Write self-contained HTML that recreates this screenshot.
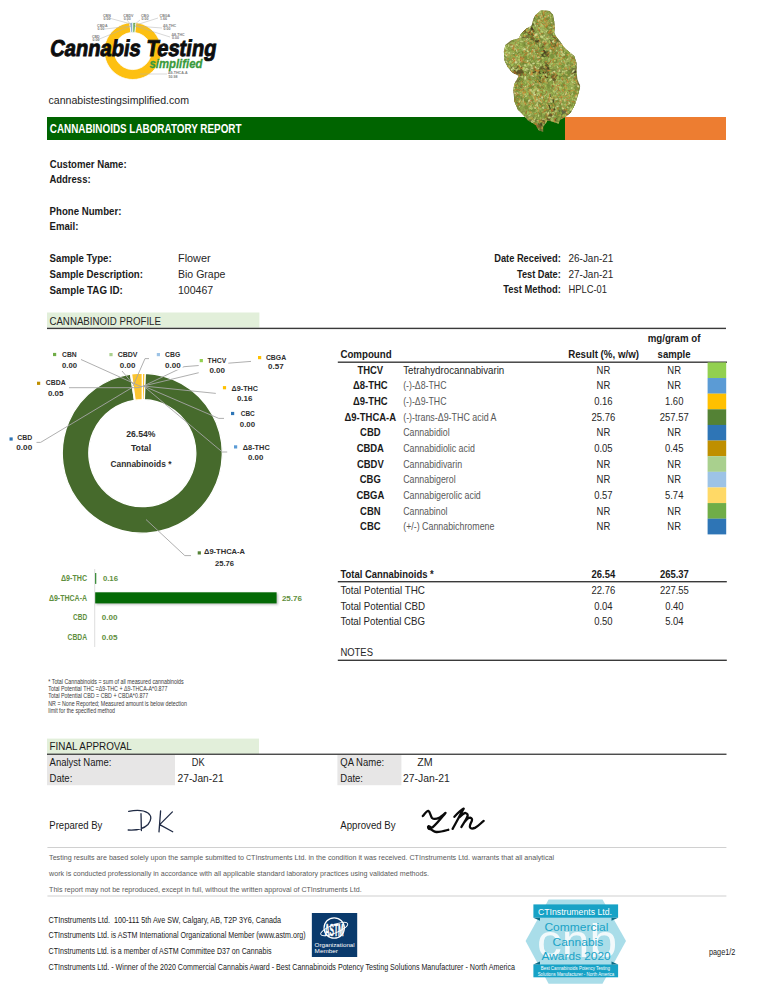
<!DOCTYPE html>
<html><head><meta charset="utf-8"><style>
html,body{margin:0;padding:0;background:#fff;width:768px;height:999px;overflow:hidden}
svg{display:block}
text{font-family:"Liberation Sans",sans-serif}
</style></head><body>
<svg width="768" height="999" viewBox="0 0 768 999">
<rect x="47.00" y="117.00" width="518.00" height="23.00" fill="#006400"/>
<rect x="565.00" y="117.00" width="161.00" height="23.00" fill="#ed7d31"/>
<text x="49.80" y="132.70" font-size="12" font-weight="bold" fill="#ffffff" textLength="191.70" lengthAdjust="spacingAndGlyphs">CANNABINOIDS LABORATORY REPORT</text>
<text x="48.50" y="103.50" font-size="11.5" fill="#262626" textLength="140.50" lengthAdjust="spacingAndGlyphs">cannabistestingsimplified.com</text>
<text x="49.80" y="168.00" font-size="11.8" font-weight="bold" fill="#1a1a1a" textLength="76.80" lengthAdjust="spacingAndGlyphs">Customer Name:</text>
<text x="49.40" y="183.40" font-size="11.8" font-weight="bold" fill="#1a1a1a" textLength="41.20" lengthAdjust="spacingAndGlyphs">Address:</text>
<text x="49.60" y="214.70" font-size="11.8" font-weight="bold" fill="#1a1a1a" textLength="71.80" lengthAdjust="spacingAndGlyphs">Phone Number:</text>
<text x="49.60" y="230.30" font-size="11.8" font-weight="bold" fill="#1a1a1a" textLength="28.80" lengthAdjust="spacingAndGlyphs">Email:</text>
<text x="49.60" y="262.40" font-size="11.8" font-weight="bold" fill="#1a1a1a" textLength="62.00" lengthAdjust="spacingAndGlyphs">Sample Type:</text>
<text x="49.60" y="278.00" font-size="11.8" font-weight="bold" fill="#1a1a1a" textLength="93.30" lengthAdjust="spacingAndGlyphs">Sample Description:</text>
<text x="49.60" y="293.50" font-size="11.8" font-weight="bold" fill="#1a1a1a" textLength="73.20" lengthAdjust="spacingAndGlyphs">Sample TAG ID:</text>
<text x="178.00" y="262.40" font-size="11.3" fill="#262626" textLength="32.60" lengthAdjust="spacingAndGlyphs">Flower</text>
<text x="178.00" y="278.00" font-size="11.3" fill="#262626" textLength="47.40" lengthAdjust="spacingAndGlyphs">Bio Grape</text>
<text x="178.00" y="293.50" font-size="11.3" fill="#262626" textLength="35.20" lengthAdjust="spacingAndGlyphs">100467</text>
<text x="494.20" y="262.20" font-size="11.8" font-weight="bold" fill="#1a1a1a" textLength="66.60" lengthAdjust="spacingAndGlyphs">Date Received:</text>
<text x="517.00" y="277.60" font-size="11.8" font-weight="bold" fill="#1a1a1a" textLength="43.80" lengthAdjust="spacingAndGlyphs">Test Date:</text>
<text x="503.30" y="293.10" font-size="11.8" font-weight="bold" fill="#1a1a1a" textLength="57.50" lengthAdjust="spacingAndGlyphs">Test Method:</text>
<text x="568.50" y="262.20" font-size="11.3" fill="#262626" textLength="44.80" lengthAdjust="spacingAndGlyphs">26-Jan-21</text>
<text x="568.50" y="277.60" font-size="11.3" fill="#262626" textLength="44.80" lengthAdjust="spacingAndGlyphs">27-Jan-21</text>
<text x="568.50" y="293.10" font-size="11.3" fill="#262626" textLength="38.50" lengthAdjust="spacingAndGlyphs">HPLC-01</text>
<rect x="47.00" y="312.50" width="212.40" height="15.00" fill="#e2efda"/>
<text x="49.40" y="325.00" font-size="11.8" fill="#262626" textLength="111.60" lengthAdjust="spacingAndGlyphs">CANNABINOID PROFILE</text>
<rect x="47.00" y="327.70" width="679.00" height="1.40" fill="#3a3a3a"/>
<text x="340.40" y="358.30" font-size="11" font-weight="bold" fill="#1a1a1a" textLength="51.30" lengthAdjust="spacingAndGlyphs">Compound</text>
<text x="568.20" y="358.30" font-size="11" font-weight="bold" fill="#1a1a1a" textLength="70.80" lengthAdjust="spacingAndGlyphs">Result (%, w/w)</text>
<text x="647.70" y="342.00" font-size="11" font-weight="bold" fill="#1a1a1a" textLength="52.80" lengthAdjust="spacingAndGlyphs">mg/gram of</text>
<text x="657.60" y="357.60" font-size="11" font-weight="bold" fill="#1a1a1a" textLength="33.00" lengthAdjust="spacingAndGlyphs">sample</text>
<rect x="337.80" y="361.50" width="389.20" height="1.40" fill="#3a3a3a"/>
<rect x="707.60" y="362.40" width="18.60" height="15.70" fill="#92d050"/>
<text x="370.30" y="373.50" font-size="11" font-weight="bold" fill="#1a1a1a" text-anchor="middle" textLength="25.75" lengthAdjust="spacingAndGlyphs">THCV</text>
<text x="403.20" y="373.50" font-size="11" fill="#262626" textLength="101.10" lengthAdjust="spacingAndGlyphs">Tetrahydrocannabivarin</text>
<text x="603.40" y="373.50" font-size="11" fill="#262626" text-anchor="middle" textLength="13.66" lengthAdjust="spacingAndGlyphs">NR</text>
<text x="674.20" y="373.50" font-size="11" fill="#262626" text-anchor="middle" textLength="13.66" lengthAdjust="spacingAndGlyphs">NR</text>
<rect x="707.60" y="378.03" width="18.60" height="15.70" fill="#5b9bd5"/>
<text x="370.30" y="389.18" font-size="11" font-weight="bold" fill="#1a1a1a" text-anchor="middle" textLength="34.65" lengthAdjust="spacingAndGlyphs">Δ8-THC</text>
<text x="403.20" y="389.18" font-size="11" fill="#595959" textLength="43.30" lengthAdjust="spacingAndGlyphs">(-)-Δ8-THC</text>
<text x="603.40" y="389.18" font-size="11" fill="#262626" text-anchor="middle" textLength="13.66" lengthAdjust="spacingAndGlyphs">NR</text>
<text x="674.20" y="389.18" font-size="11" fill="#262626" text-anchor="middle" textLength="13.66" lengthAdjust="spacingAndGlyphs">NR</text>
<rect x="707.60" y="393.66" width="18.60" height="15.70" fill="#ffc000"/>
<text x="370.30" y="404.86" font-size="11" font-weight="bold" fill="#1a1a1a" text-anchor="middle" textLength="34.65" lengthAdjust="spacingAndGlyphs">Δ9-THC</text>
<text x="403.20" y="404.86" font-size="11" fill="#595959" textLength="43.30" lengthAdjust="spacingAndGlyphs">(-)-Δ9-THC</text>
<text x="603.40" y="404.86" font-size="11" fill="#262626" text-anchor="middle" textLength="18.41" lengthAdjust="spacingAndGlyphs">0.16</text>
<text x="674.20" y="404.86" font-size="11" fill="#262626" text-anchor="middle" textLength="18.41" lengthAdjust="spacingAndGlyphs">1.60</text>
<rect x="707.60" y="409.29" width="18.60" height="15.70" fill="#548235"/>
<text x="370.30" y="420.54" font-size="11" font-weight="bold" fill="#1a1a1a" text-anchor="middle" textLength="51.47" lengthAdjust="spacingAndGlyphs">Δ9-THCA-A</text>
<text x="403.20" y="420.54" font-size="11" fill="#595959" textLength="93.30" lengthAdjust="spacingAndGlyphs">(-)-trans-Δ9-THC acid A</text>
<text x="603.40" y="420.54" font-size="11" fill="#262626" text-anchor="middle" textLength="23.67" lengthAdjust="spacingAndGlyphs">25.76</text>
<text x="674.20" y="420.54" font-size="11" fill="#262626" text-anchor="middle" textLength="28.93" lengthAdjust="spacingAndGlyphs">257.57</text>
<rect x="707.60" y="424.92" width="18.60" height="15.70" fill="#2e75b6"/>
<text x="370.30" y="436.22" font-size="11" font-weight="bold" fill="#1a1a1a" text-anchor="middle" textLength="20.50" lengthAdjust="spacingAndGlyphs">CBD</text>
<text x="403.20" y="436.22" font-size="11" fill="#595959" textLength="46.40" lengthAdjust="spacingAndGlyphs">Cannabidiol</text>
<text x="603.40" y="436.22" font-size="11" fill="#262626" text-anchor="middle" textLength="13.66" lengthAdjust="spacingAndGlyphs">NR</text>
<text x="674.20" y="436.22" font-size="11" fill="#262626" text-anchor="middle" textLength="13.66" lengthAdjust="spacingAndGlyphs">NR</text>
<rect x="707.60" y="440.55" width="18.60" height="15.70" fill="#bf8f00"/>
<text x="370.30" y="451.90" font-size="11" font-weight="bold" fill="#1a1a1a" text-anchor="middle" textLength="27.33" lengthAdjust="spacingAndGlyphs">CBDA</text>
<text x="403.20" y="451.90" font-size="11" fill="#595959" textLength="71.60" lengthAdjust="spacingAndGlyphs">Cannabidiolic acid</text>
<text x="603.40" y="451.90" font-size="11" fill="#262626" text-anchor="middle" textLength="18.41" lengthAdjust="spacingAndGlyphs">0.05</text>
<text x="674.20" y="451.90" font-size="11" fill="#262626" text-anchor="middle" textLength="18.41" lengthAdjust="spacingAndGlyphs">0.45</text>
<rect x="707.60" y="456.18" width="18.60" height="15.70" fill="#a9d08e"/>
<text x="370.30" y="467.58" font-size="11" font-weight="bold" fill="#1a1a1a" text-anchor="middle" textLength="26.81" lengthAdjust="spacingAndGlyphs">CBDV</text>
<text x="403.20" y="467.58" font-size="11" fill="#595959" textLength="58.90" lengthAdjust="spacingAndGlyphs">Cannabidivarin</text>
<text x="603.40" y="467.58" font-size="11" fill="#262626" text-anchor="middle" textLength="13.66" lengthAdjust="spacingAndGlyphs">NR</text>
<text x="674.20" y="467.58" font-size="11" fill="#262626" text-anchor="middle" textLength="13.66" lengthAdjust="spacingAndGlyphs">NR</text>
<rect x="707.60" y="471.81" width="18.60" height="15.70" fill="#9dc3e6"/>
<text x="370.30" y="483.26" font-size="11" font-weight="bold" fill="#1a1a1a" text-anchor="middle" textLength="21.02" lengthAdjust="spacingAndGlyphs">CBG</text>
<text x="403.20" y="483.26" font-size="11" fill="#595959" textLength="52.40" lengthAdjust="spacingAndGlyphs">Cannabigerol</text>
<text x="603.40" y="483.26" font-size="11" fill="#262626" text-anchor="middle" textLength="13.66" lengthAdjust="spacingAndGlyphs">NR</text>
<text x="674.20" y="483.26" font-size="11" fill="#262626" text-anchor="middle" textLength="13.66" lengthAdjust="spacingAndGlyphs">NR</text>
<rect x="707.60" y="487.44" width="18.60" height="15.70" fill="#ffd966"/>
<text x="370.30" y="498.94" font-size="11" font-weight="bold" fill="#1a1a1a" text-anchor="middle" textLength="27.85" lengthAdjust="spacingAndGlyphs">CBGA</text>
<text x="403.20" y="498.94" font-size="11" fill="#595959" textLength="77.60" lengthAdjust="spacingAndGlyphs">Cannabigerolic acid</text>
<text x="603.40" y="498.94" font-size="11" fill="#262626" text-anchor="middle" textLength="18.41" lengthAdjust="spacingAndGlyphs">0.57</text>
<text x="674.20" y="498.94" font-size="11" fill="#262626" text-anchor="middle" textLength="18.41" lengthAdjust="spacingAndGlyphs">5.74</text>
<rect x="707.60" y="503.07" width="18.60" height="15.70" fill="#70ad47"/>
<text x="370.30" y="514.62" font-size="11" font-weight="bold" fill="#1a1a1a" text-anchor="middle" textLength="20.50" lengthAdjust="spacingAndGlyphs">CBN</text>
<text x="403.20" y="514.62" font-size="11" fill="#595959" textLength="44.30" lengthAdjust="spacingAndGlyphs">Cannabinol</text>
<text x="603.40" y="514.62" font-size="11" fill="#262626" text-anchor="middle" textLength="13.66" lengthAdjust="spacingAndGlyphs">NR</text>
<text x="674.20" y="514.62" font-size="11" fill="#262626" text-anchor="middle" textLength="13.66" lengthAdjust="spacingAndGlyphs">NR</text>
<rect x="707.60" y="518.70" width="18.60" height="15.70" fill="#2e75b6"/>
<text x="370.30" y="530.30" font-size="11" font-weight="bold" fill="#1a1a1a" text-anchor="middle" textLength="20.50" lengthAdjust="spacingAndGlyphs">CBC</text>
<text x="403.20" y="530.30" font-size="11" fill="#595959" textLength="91.20" lengthAdjust="spacingAndGlyphs">(+/-) Cannabichromene</text>
<text x="603.40" y="530.30" font-size="11" fill="#262626" text-anchor="middle" textLength="13.66" lengthAdjust="spacingAndGlyphs">NR</text>
<text x="674.20" y="530.30" font-size="11" fill="#262626" text-anchor="middle" textLength="13.66" lengthAdjust="spacingAndGlyphs">NR</text>
<text x="340.40" y="577.70" font-size="11" font-weight="bold" fill="#1a1a1a" textLength="93.37" lengthAdjust="spacingAndGlyphs">Total Cannabinoids *</text>
<text x="603.40" y="577.70" font-size="11" font-weight="bold" fill="#1a1a1a" text-anchor="middle" textLength="23.67" lengthAdjust="spacingAndGlyphs">26.54</text>
<text x="674.40" y="577.70" font-size="11" font-weight="bold" fill="#1a1a1a" text-anchor="middle" textLength="28.93" lengthAdjust="spacingAndGlyphs">265.37</text>
<rect x="337.80" y="581.00" width="389.00" height="1.40" fill="#3a3a3a"/>
<text x="340.40" y="593.50" font-size="11" fill="#262626" textLength="84.60" lengthAdjust="spacingAndGlyphs">Total Potential THC</text>
<text x="603.40" y="593.50" font-size="11" fill="#262626" text-anchor="middle" textLength="23.67" lengthAdjust="spacingAndGlyphs">22.76</text>
<text x="674.40" y="593.50" font-size="11" fill="#262626" text-anchor="middle" textLength="28.93" lengthAdjust="spacingAndGlyphs">227.55</text>
<text x="340.40" y="609.50" font-size="11" fill="#262626" textLength="84.60" lengthAdjust="spacingAndGlyphs">Total Potential CBD</text>
<text x="603.40" y="609.50" font-size="11" fill="#262626" text-anchor="middle" textLength="18.41" lengthAdjust="spacingAndGlyphs">0.04</text>
<text x="674.40" y="609.50" font-size="11" fill="#262626" text-anchor="middle" textLength="18.41" lengthAdjust="spacingAndGlyphs">0.40</text>
<text x="340.40" y="625.30" font-size="11" fill="#262626" textLength="84.60" lengthAdjust="spacingAndGlyphs">Total Potential CBG</text>
<text x="603.40" y="625.30" font-size="11" fill="#262626" text-anchor="middle" textLength="18.41" lengthAdjust="spacingAndGlyphs">0.50</text>
<text x="674.40" y="625.30" font-size="11" fill="#262626" text-anchor="middle" textLength="18.41" lengthAdjust="spacingAndGlyphs">5.04</text>
<text x="340.40" y="656.00" font-size="11" fill="#262626" textLength="32.59" lengthAdjust="spacingAndGlyphs">NOTES</text>
<rect x="337.80" y="659.60" width="389.00" height="1.40" fill="#3a3a3a"/>
<text x="48.30" y="683.50" font-size="6.8" fill="#3a3a3a" textLength="135.45" lengthAdjust="spacingAndGlyphs">* Total Cannabinoids = sum of all measured cannabinoids</text>
<text x="48.30" y="690.90" font-size="6.8" fill="#3a3a3a" textLength="119.20" lengthAdjust="spacingAndGlyphs">Total Potential THC =Δ9-THC + Δ9-THCA-A*0.877</text>
<text x="48.30" y="698.30" font-size="6.8" fill="#3a3a3a" textLength="100.00" lengthAdjust="spacingAndGlyphs">Total Potential CBD = CBD + CBDA*0.877</text>
<text x="48.30" y="705.70" font-size="6.8" fill="#3a3a3a" textLength="138.60" lengthAdjust="spacingAndGlyphs">NR = None Reported; Measured amount is below detection</text>
<text x="48.30" y="713.10" font-size="6.8" fill="#3a3a3a" textLength="66.70" lengthAdjust="spacingAndGlyphs">limit for the specified method</text>
<rect x="47.00" y="738.60" width="212.00" height="15.60" fill="#e2efda"/>
<text x="49.60" y="750.30" font-size="11.3" fill="#1a1a1a" textLength="82.10" lengthAdjust="spacingAndGlyphs">FINAL APPROVAL</text>
<rect x="47.00" y="753.60" width="679.50" height="1.30" fill="#3a3a3a"/>
<rect x="47.00" y="755.00" width="128.00" height="30.20" fill="#e7e6e6"/>
<rect x="337.40" y="755.00" width="64.00" height="30.20" fill="#e7e6e6"/>
<text x="49.60" y="766.00" font-size="11.3" fill="#1a1a1a" textLength="61.72" lengthAdjust="spacingAndGlyphs">Analyst Name:</text>
<text x="49.60" y="781.60" font-size="11.3" fill="#1a1a1a" textLength="22.69" lengthAdjust="spacingAndGlyphs">Date:</text>
<text x="191.80" y="766.00" font-size="10.5" fill="#262626" textLength="12.80" lengthAdjust="spacingAndGlyphs">DK</text>
<text x="177.50" y="781.60" font-size="11" fill="#262626" textLength="46.10" lengthAdjust="spacingAndGlyphs">27-Jan-21</text>
<text x="340.30" y="766.00" font-size="11.3" fill="#1a1a1a" textLength="43.78" lengthAdjust="spacingAndGlyphs">QA Name:</text>
<text x="340.30" y="781.60" font-size="11.3" fill="#1a1a1a" textLength="22.69" lengthAdjust="spacingAndGlyphs">Date:</text>
<text x="417.30" y="766.00" font-size="10.5" fill="#262626" textLength="15.40" lengthAdjust="spacingAndGlyphs">ZM</text>
<text x="403.00" y="781.60" font-size="11" fill="#262626" textLength="46.80" lengthAdjust="spacingAndGlyphs">27-Jan-21</text>
<text x="49.30" y="828.70" font-size="11" fill="#1a1a1a" textLength="53.00" lengthAdjust="spacingAndGlyphs">Prepared By</text>
<text x="340.30" y="828.70" font-size="11" fill="#1a1a1a" textLength="55.30" lengthAdjust="spacingAndGlyphs">Approved By</text>
<path d="M128.7,811.4 C136,810 144,810.5 148,813 C152,816 151.5,820 148,824.5 C144,828.5 136,830.5 128.2,830 M141,813.7 L141.4,830.5 M160.6,810.9 L159,831.9 M159.7,824.6 L172.4,811.9 M159.7,824.6 L172.7,831.7" fill="none" stroke="#1f2a44" stroke-width="1.3" stroke-linecap="round"/>
<path d="M422.8,816.1 C425,813.5 427,810.5 428.3,810.9 C430,811.5 430.5,816 432,818 C433.5,819.3 437,818.8 439.7,817.5 C442,816.2 444,814.5 445.5,812.9 C442,817 438.5,822 432.8,827.2 C431.5,828.5 429.5,826 428.6,826.2 C427.5,827 428,829 430,829.2 C432,829.5 433.5,831.5 436.3,832 C440,832.2 444,831 448.3,829.8 M454.4,816.8 C457,814 461,810 463.7,808.6 C460,815 456,823 452.6,828.8 M459.5,817.2 C461.5,815 463.5,813 465.5,813 C467.5,813.5 468,815 467.5,816.5 C466,820 463,824 461.4,827 M464.3,822.3 C466,820 468.5,817.6 470.2,817.6 C472,818 472.3,819.5 471.8,821 C470.5,823.5 469.5,826 470,827.3 C470.5,829 473,828.8 475.5,827.6 C478.5,825.8 481,823 483.7,820.9" fill="none" stroke="#0a0a0a" stroke-width="2.3" stroke-linecap="round" stroke-linejoin="round"/>
<rect x="47.40" y="847.00" width="679.00" height="1.00" fill="#d0d0d0"/>
<text x="49.10" y="860.30" font-size="7.6" fill="#595959" textLength="504.90" lengthAdjust="spacingAndGlyphs">Testing results are based solely upon the sample submitted to CTInstruments Ltd. in the condition it was received. CTInstruments Ltd. warrants that all analytical</text>
<text x="49.10" y="875.50" font-size="7.6" fill="#595959" textLength="379.90" lengthAdjust="spacingAndGlyphs">work is conducted professionally in accordance with all applicable standard laboratory practices using validated methods.</text>
<text x="49.10" y="891.50" font-size="7.6" fill="#595959" textLength="312.60" lengthAdjust="spacingAndGlyphs">This report may not be reproduced, except in full, without the written approval of CTInstruments Ltd.</text>
<rect x="47.40" y="895.50" width="679.00" height="1.00" fill="#d0d0d0"/>
<text x="48.60" y="922.70" font-size="8.6" fill="#1a1a1a" textLength="232.40" lengthAdjust="spacingAndGlyphs">CTInstruments Ltd.  100-111 5th Ave SW, Calgary, AB, T2P 3Y6, Canada</text>
<text x="48.60" y="938.30" font-size="8.6" fill="#1a1a1a" textLength="257.00" lengthAdjust="spacingAndGlyphs">CTInstruments Ltd. is ASTM International Organizational Member (www.astm.org)</text>
<text x="48.60" y="953.90" font-size="8.6" fill="#1a1a1a" textLength="223.00" lengthAdjust="spacingAndGlyphs">CTInstruments Ltd. is a member of ASTM Committee D37 on Cannabis</text>
<text x="48.60" y="969.50" font-size="8.6" fill="#1a1a1a" textLength="466.40" lengthAdjust="spacingAndGlyphs">CTInstruments Ltd. - Winner of the 2020 Commercial Cannabis Award - Best Cannabinoids Potency Testing Solutions Manufacturer - North America</text>
<text x="709.00" y="954.70" font-size="8.6" fill="#1a1a1a" textLength="26.40" lengthAdjust="spacingAndGlyphs">page1/2</text>
<path d="M142.30,373.20 A80,80 0 0 1 145.33,373.26 L144.33,399.74 A53.5,53.5 0 0 0 142.30,399.70 Z" fill="#fcc530" stroke="#fff" stroke-width="1.3"/>
<path d="M145.33,373.26 A80,80 0 1 1 130.60,374.06 L134.48,400.28 A53.5,53.5 0 1 0 144.33,399.74 Z" fill="#466a2c" stroke="#fff" stroke-width="1.3"/>
<path d="M130.60,374.06 A80,80 0 0 1 131.54,373.93 L135.10,400.19 A53.5,53.5 0 0 0 134.48,400.28 Z" fill="#bf8f00" stroke="#fff" stroke-width="1.3"/>
<path d="M131.54,373.93 A80,80 0 0 1 142.30,373.20 L142.30,399.70 A53.5,53.5 0 0 0 135.10,400.19 Z" fill="#fcc530" stroke="#fff" stroke-width="1.3"/>
<path d="M81,359.5 L142,387" fill="none" stroke="#a6a6a6" stroke-width="0.9"/>
<path d="M69,387.7 L138,387.7 L143.5,386" fill="none" stroke="#a6a6a6" stroke-width="0.9"/>
<path d="M36.5,442.4 L40.6,442.4 L133,387" fill="none" stroke="#a6a6a6" stroke-width="0.9"/>
<path d="M149,358.6 L145,358.6 L133,386" fill="none" stroke="#a6a6a6" stroke-width="0.9"/>
<path d="M122,371 L133,384" fill="none" stroke="#a6a6a6" stroke-width="0.9"/>
<path d="M251,361.4 L184,366.7 L143.5,386" fill="none" stroke="#a6a6a6" stroke-width="0.9"/>
<path d="M204.2,371.4 L143.5,386" fill="none" stroke="#a6a6a6" stroke-width="0.9"/>
<path d="M215.8,393.4 L143.5,386" fill="none" stroke="#a6a6a6" stroke-width="0.9"/>
<path d="M224,418.4 L218.75,418.4 L143.5,386" fill="none" stroke="#a6a6a6" stroke-width="0.9"/>
<path d="M227.2,452 L222.3,452 L143.5,386" fill="none" stroke="#a6a6a6" stroke-width="0.9"/>
<path d="M146,519.5 L184.8,555.6 L191,555.6" fill="none" stroke="#a6a6a6" stroke-width="0.9"/>
<rect x="52.00" y="349.00" width="27.00" height="20.70" fill="#ffffff"/>
<rect x="108.40" y="349.00" width="31.10" height="20.70" fill="#ffffff"/>
<rect x="155.80" y="349.00" width="26.90" height="20.70" fill="#ffffff"/>
<rect x="198.70" y="354.70" width="29.60" height="20.60" fill="#ffffff"/>
<rect x="257.00" y="351.50" width="31.20" height="19.90" fill="#ffffff"/>
<rect x="221.90" y="382.80" width="38.10" height="20.60" fill="#ffffff"/>
<rect x="230.00" y="408.30" width="27.10" height="20.30" fill="#ffffff"/>
<rect x="233.00" y="441.80" width="38.70" height="20.20" fill="#ffffff"/>
<rect x="196.70" y="546.30" width="50.30" height="21.20" fill="#ffffff"/>
<rect x="8.50" y="432.40" width="25.70" height="19.90" fill="#ffffff"/>
<rect x="36.00" y="377.20" width="31.60" height="20.60" fill="#ffffff"/>
<rect x="53.00" y="352.90" width="3.20" height="3.20" fill="#70ad47"/>
<text x="62.10" y="357.00" font-size="7.8" font-weight="bold" fill="#2e2e2e" textLength="14.60" lengthAdjust="spacingAndGlyphs">CBN</text>
<text x="62.00" y="367.70" font-size="7.8" font-weight="bold" fill="#2e2e2e" textLength="15.00" lengthAdjust="spacingAndGlyphs">0.00</text>
<rect x="109.40" y="353.00" width="3.20" height="3.20" fill="#a9d08e"/>
<text x="117.70" y="357.00" font-size="7.8" font-weight="bold" fill="#2e2e2e" textLength="19.80" lengthAdjust="spacingAndGlyphs">CBDV</text>
<text x="119.80" y="367.70" font-size="7.8" font-weight="bold" fill="#2e2e2e" textLength="15.60" lengthAdjust="spacingAndGlyphs">0.00</text>
<rect x="156.80" y="353.00" width="3.20" height="3.20" fill="#9dc3e6"/>
<text x="165.10" y="357.00" font-size="7.8" font-weight="bold" fill="#2e2e2e" textLength="15.10" lengthAdjust="spacingAndGlyphs">CBG</text>
<text x="165.00" y="367.70" font-size="7.8" font-weight="bold" fill="#2e2e2e" textLength="15.70" lengthAdjust="spacingAndGlyphs">0.00</text>
<rect x="199.70" y="359.00" width="3.20" height="3.20" fill="#92d050"/>
<text x="207.60" y="362.70" font-size="7.8" font-weight="bold" fill="#2e2e2e" textLength="18.70" lengthAdjust="spacingAndGlyphs">THCV</text>
<text x="209.40" y="373.30" font-size="7.8" font-weight="bold" fill="#2e2e2e" textLength="15.60" lengthAdjust="spacingAndGlyphs">0.00</text>
<rect x="258.00" y="356.00" width="3.20" height="3.20" fill="#ffc000"/>
<text x="265.90" y="359.50" font-size="7.8" font-weight="bold" fill="#2e2e2e" textLength="20.30" lengthAdjust="spacingAndGlyphs">CBGA</text>
<text x="268.00" y="369.40" font-size="7.8" font-weight="bold" fill="#2e2e2e" textLength="15.60" lengthAdjust="spacingAndGlyphs">0.57</text>
<rect x="222.90" y="386.10" width="3.20" height="3.20" fill="#ffc000"/>
<text x="231.60" y="390.80" font-size="7.8" font-weight="bold" fill="#2e2e2e" textLength="26.40" lengthAdjust="spacingAndGlyphs">Δ9-THC</text>
<text x="236.90" y="401.40" font-size="7.8" font-weight="bold" fill="#2e2e2e" textLength="15.50" lengthAdjust="spacingAndGlyphs">0.16</text>
<rect x="231.00" y="411.90" width="3.20" height="3.20" fill="#2e75b6"/>
<text x="240.80" y="416.30" font-size="7.8" font-weight="bold" fill="#2e2e2e" textLength="14.00" lengthAdjust="spacingAndGlyphs">CBC</text>
<text x="239.80" y="426.60" font-size="7.8" font-weight="bold" fill="#2e2e2e" textLength="15.30" lengthAdjust="spacingAndGlyphs">0.00</text>
<rect x="234.00" y="445.30" width="3.20" height="3.20" fill="#5b9bd5"/>
<text x="242.80" y="449.80" font-size="7.8" font-weight="bold" fill="#2e2e2e" textLength="26.90" lengthAdjust="spacingAndGlyphs">Δ8-THC</text>
<text x="248.00" y="460.00" font-size="7.8" font-weight="bold" fill="#2e2e2e" textLength="15.30" lengthAdjust="spacingAndGlyphs">0.00</text>
<rect x="197.70" y="551.30" width="3.20" height="3.20" fill="#548235"/>
<text x="204.00" y="554.30" font-size="7.8" font-weight="bold" fill="#2e2e2e" textLength="41.00" lengthAdjust="spacingAndGlyphs">Δ9-THCA-A</text>
<text x="214.90" y="565.50" font-size="7.8" font-weight="bold" fill="#2e2e2e" textLength="19.10" lengthAdjust="spacingAndGlyphs">25.76</text>
<rect x="9.50" y="437.40" width="3.20" height="3.20" fill="#2e75b6"/>
<text x="17.20" y="440.40" font-size="7.8" font-weight="bold" fill="#2e2e2e" textLength="15.00" lengthAdjust="spacingAndGlyphs">CBD</text>
<text x="16.30" y="450.30" font-size="7.8" font-weight="bold" fill="#2e2e2e" textLength="15.90" lengthAdjust="spacingAndGlyphs">0.00</text>
<rect x="37.00" y="381.70" width="3.20" height="3.20" fill="#bf8f00"/>
<text x="45.80" y="385.20" font-size="7.8" font-weight="bold" fill="#2e2e2e" textLength="19.80" lengthAdjust="spacingAndGlyphs">CBDA</text>
<text x="47.90" y="395.80" font-size="7.8" font-weight="bold" fill="#2e2e2e" textLength="15.60" lengthAdjust="spacingAndGlyphs">0.05</text>
<text x="126.20" y="436.80" font-size="8.6" font-weight="bold" fill="#2e2e2e" textLength="29.30" lengthAdjust="spacingAndGlyphs">26.54%</text>
<text x="130.90" y="450.90" font-size="8.6" font-weight="bold" fill="#2e2e2e" textLength="20.30" lengthAdjust="spacingAndGlyphs">Total</text>
<text x="110.50" y="466.60" font-size="8.6" font-weight="bold" fill="#2e2e2e" textLength="60.90" lengthAdjust="spacingAndGlyphs">Cannabinoids *</text>
<rect x="94.30" y="569.00" width="0.90" height="78.00" fill="#d9d9d9"/>
<rect x="95.00" y="573.00" width="1.30" height="10.90" fill="#3f8f3f"/>
<defs><filter id="sh" x="-5%" y="-20%" width="110%" height="160%"><feGaussianBlur stdDeviation="1"/></filter></defs>
<rect x="96.00" y="593.50" width="182.00" height="11.20" fill="#999" filter="url(#sh)" opacity="0.6"/>
<rect x="95.20" y="592.30" width="181.40" height="11.10" fill="#046a06"/>
<text x="61.00" y="581.30" font-size="8.4" font-weight="bold" fill="#5f8f3e" textLength="26.10" lengthAdjust="spacingAndGlyphs">Δ9-THC</text>
<text x="48.90" y="600.80" font-size="8.4" font-weight="bold" fill="#5f8f3e" textLength="38.20" lengthAdjust="spacingAndGlyphs">Δ9-THCA-A</text>
<text x="73.00" y="619.70" font-size="8.4" font-weight="bold" fill="#5f8f3e" textLength="14.10" lengthAdjust="spacingAndGlyphs">CBD</text>
<text x="67.50" y="639.50" font-size="8.4" font-weight="bold" fill="#5f8f3e" textLength="19.60" lengthAdjust="spacingAndGlyphs">CBDA</text>
<text x="102.90" y="581.30" font-size="7.8" font-weight="bold" fill="#5f8f3e" textLength="15.10" lengthAdjust="spacingAndGlyphs">0.16</text>
<text x="101.80" y="619.70" font-size="7.8" font-weight="bold" fill="#5f8f3e" textLength="15.70" lengthAdjust="spacingAndGlyphs">0.00</text>
<text x="101.80" y="639.50" font-size="7.8" font-weight="bold" fill="#5f8f3e" textLength="15.70" lengthAdjust="spacingAndGlyphs">0.05</text>
<text x="281.90" y="601.30" font-size="7.8" font-weight="bold" fill="#5f8f3e" textLength="20.10" lengthAdjust="spacingAndGlyphs">25.76</text>
<path d="M135.78,22.66 A28.5,28.5 0 1 1 129.82,22.66 L130.86,32.50 A18.6,18.6 0 1 0 134.74,32.50 Z" fill="#fdc012" stroke="#fff" stroke-width="0.8"/>
<path d="M129.82,22.66 A28.5,28.5 0 0 1 132.80,22.50 L132.80,32.40 A18.6,18.6 0 0 0 130.86,32.50 Z" fill="#86acd0" stroke="#fff" stroke-width="0.8"/>
<path d="M132.80,22.50 A28.5,28.5 0 0 1 135.78,22.66 L134.74,32.50 A18.6,18.6 0 0 0 132.80,32.40 Z" fill="#6aaa50" stroke="#fff" stroke-width="0.8"/>
<path d="M109,18 L131,24" fill="none" stroke="#b0b0b0" stroke-width="0.5"/>
<path d="M127,20 L131,25" fill="none" stroke="#b0b0b0" stroke-width="0.5"/>
<path d="M140,20 L134,25" fill="none" stroke="#b0b0b0" stroke-width="0.5"/>
<path d="M158,18 L136,25" fill="none" stroke="#b0b0b0" stroke-width="0.5"/>
<path d="M105,29 L131,26" fill="none" stroke="#b0b0b0" stroke-width="0.5"/>
<path d="M97,40 L131,26" fill="none" stroke="#b0b0b0" stroke-width="0.5"/>
<path d="M162,28 L135,26" fill="none" stroke="#b0b0b0" stroke-width="0.5"/>
<path d="M170,37 L135,26" fill="none" stroke="#b0b0b0" stroke-width="0.5"/>
<path d="M167,74 L140,74" fill="none" stroke="#b0b0b0" stroke-width="0.5"/>
<text x="103.00" y="16.50" font-size="3.6" font-weight="bold" fill="#808080">CBN</text>
<text x="103.50" y="20.20" font-size="3.6" font-weight="bold" fill="#808080">0.00</text>
<text x="123.30" y="16.50" font-size="3.6" font-weight="bold" fill="#808080">CBDV</text>
<text x="123.80" y="20.20" font-size="3.6" font-weight="bold" fill="#808080">0.00</text>
<text x="141.00" y="16.50" font-size="3.6" font-weight="bold" fill="#808080">CBG</text>
<text x="141.50" y="20.20" font-size="3.6" font-weight="bold" fill="#808080">0.00</text>
<text x="159.60" y="16.50" font-size="3.6" font-weight="bold" fill="#808080">CBGA</text>
<text x="160.10" y="20.20" font-size="3.6" font-weight="bold" fill="#808080">1.66</text>
<text x="97.10" y="26.70" font-size="3.6" font-weight="bold" fill="#808080">CBDA</text>
<text x="97.60" y="30.40" font-size="3.6" font-weight="bold" fill="#808080">0.00</text>
<text x="91.90" y="37.60" font-size="3.6" font-weight="bold" fill="#808080">CBD</text>
<text x="92.40" y="41.30" font-size="3.6" font-weight="bold" fill="#808080">0.00</text>
<text x="163.00" y="26.70" font-size="3.6" font-weight="bold" fill="#808080">Δ9-THC</text>
<text x="163.50" y="30.40" font-size="3.6" font-weight="bold" fill="#808080">0.00</text>
<text x="171.50" y="35.50" font-size="3.6" font-weight="bold" fill="#808080">Δ8-THC</text>
<text x="172.00" y="39.20" font-size="3.6" font-weight="bold" fill="#808080">0.00</text>
<text x="168.00" y="74.10" font-size="3.6" font-weight="bold" fill="#808080">Δ9-THCA-A</text>
<text x="168.50" y="77.80" font-size="3.6" font-weight="bold" fill="#808080">50.98</text>
<g transform="translate(8.84,0) skewX(-9)">
<text x="49.20" y="55.80" font-size="23" font-weight="bold" fill="#0d0d0d" textLength="166.30" lengthAdjust="spacingAndGlyphs" stroke="#0d0d0d" stroke-width="0.9">Cannabis Testing</text>
</g>
<text x="149.40" y="67.80" font-size="13" font-weight="bold" font-style="italic" fill="#3a9a3c" textLength="53.10" lengthAdjust="spacingAndGlyphs" stroke="#3a9a3c" stroke-width="0.3">simplified</text>
<defs><clipPath id="bud"><path d="M542.1,10.5 L549.8,11.1 L553.1,15 L554.2,21.6 L554.8,27.1 L554.2,32.7 L556.4,37.1 L560.3,41.5 L563.6,47.1 L568.6,51.5 L574.2,55.9 L576.4,62.6 L576.9,68 L576.4,71.6 L577.5,79.4 L580.2,86 L578.6,92.7 L575.3,103.7 L570.8,112.6 L565.3,117 L559.8,120.3 L558.7,123.7 L552,121.4 L547.6,120.3 L543.2,127 L543.2,132 L538.7,130.3 L535.4,124.8 L527.7,120.3 L524.3,115.9 L517.7,109.3 L514.4,101.5 L513.3,90.5 L514.4,83.8 L518.8,76.1 L512.2,72.5 L507.7,67 L504.4,60.3 L503.9,51.5 L505.5,44.8 L511,40.4 L518.8,38.2 L521,33.8 L526.6,28.2 L531.5,26 L533.2,19.4 L535.4,15 L541,10.5 Z"/></clipPath></defs>
<path d="M542.1,10.5 L549.8,11.1 L553.1,15 L554.2,21.6 L554.8,27.1 L554.2,32.7 L556.4,37.1 L560.3,41.5 L563.6,47.1 L568.6,51.5 L574.2,55.9 L576.4,62.6 L576.9,68 L576.4,71.6 L577.5,79.4 L580.2,86 L578.6,92.7 L575.3,103.7 L570.8,112.6 L565.3,117 L559.8,120.3 L558.7,123.7 L552,121.4 L547.6,120.3 L543.2,127 L543.2,132 L538.7,130.3 L535.4,124.8 L527.7,120.3 L524.3,115.9 L517.7,109.3 L514.4,101.5 L513.3,90.5 L514.4,83.8 L518.8,76.1 L512.2,72.5 L507.7,67 L504.4,60.3 L503.9,51.5 L505.5,44.8 L511,40.4 L518.8,38.2 L521,33.8 L526.6,28.2 L531.5,26 L533.2,19.4 L535.4,15 L541,10.5 Z" fill="#7a7a3c"/>
<defs><radialGradient id="lobe" cx="45%" cy="40%" r="60%"><stop offset="0" stop-color="#bccb70"/><stop offset="0.6" stop-color="#9aac52"/><stop offset="1" stop-color="#6a6e34"/></radialGradient></defs><g clip-path="url(#bud)"><ellipse cx="544" cy="26" rx="11" ry="17" fill="url(#lobe)"/><ellipse cx="524" cy="56" rx="21" ry="18" fill="url(#lobe)"/><ellipse cx="562" cy="60" rx="15" ry="16" fill="url(#lobe)"/><ellipse cx="535" cy="98" rx="21" ry="25" fill="url(#lobe)"/><ellipse cx="566" cy="96" rx="14" ry="24" fill="url(#lobe)"/><ellipse cx="548" cy="45" rx="9" ry="9" fill="url(#lobe)"/><ellipse cx="550" cy="121" rx="8" ry="8" fill="url(#lobe)"/><ellipse cx="543" cy="77" rx="7" ry="6" fill="#2a1e12" opacity="0.75"/><ellipse cx="551" cy="102" rx="3" ry="10" fill="#2a1e12" opacity="0.65"/><ellipse cx="544" cy="56" rx="3" ry="4" fill="#2a1e12" opacity="0.6"/><ellipse cx="518" cy="70" rx="9" ry="4" fill="#4a2e16" opacity="0.5"/><ellipse cx="564" cy="112" rx="7" ry="4" fill="#34343c" opacity="0.5"/><ellipse cx="522" cy="88" rx="4" ry="3" fill="#4a2e16" opacity="0.4"/><ellipse cx="560" cy="75" rx="5" ry="3" fill="#3a2a18" opacity="0.45"/><ellipse cx="537.1" cy="78.0" rx="2.3" ry="1.1" fill="#d2dc92" stroke="#6c7434" stroke-width="0.25" transform="rotate(91 537.1 78.0)"/><ellipse cx="539.0" cy="84.7" rx="1.3" ry="1.1" fill="#d2dc92" stroke="#6c7434" stroke-width="0.25" transform="rotate(26 539.0 84.7)"/><ellipse cx="566.4" cy="94.7" rx="1.1" ry="1.6" fill="#9cb452" stroke="#6c7434" stroke-width="0.25" transform="rotate(174 566.4 94.7)"/><ellipse cx="560.6" cy="89.3" rx="1.9" ry="1.4" fill="#b6cc6a" stroke="#6c7434" stroke-width="0.25" transform="rotate(11 560.6 89.3)"/><ellipse cx="536.1" cy="113.3" rx="1.7" ry="1.3" fill="#9cb452" stroke="#6c7434" stroke-width="0.25" transform="rotate(90 536.1 113.3)"/><ellipse cx="533.4" cy="76.9" rx="2.3" ry="0.8" fill="#7c963c" stroke="#6c7434" stroke-width="0.25" transform="rotate(46 533.4 76.9)"/><ellipse cx="518.8" cy="44.1" rx="1.1" ry="1.4" fill="#7c963c" stroke="#6c7434" stroke-width="0.25" transform="rotate(72 518.8 44.1)"/><ellipse cx="504.3" cy="54.9" rx="2.0" ry="1.1" fill="#a4c05a" stroke="#6c7434" stroke-width="0.25" transform="rotate(102 504.3 54.9)"/><ellipse cx="507.1" cy="49.6" rx="2.3" ry="1.4" fill="#a4c05a" stroke="#6c7434" stroke-width="0.25" transform="rotate(21 507.1 49.6)"/><ellipse cx="538.1" cy="68.9" rx="2.0" ry="0.9" fill="#9cb452" stroke="#6c7434" stroke-width="0.25" transform="rotate(92 538.1 68.9)"/><ellipse cx="563.1" cy="60.4" rx="1.5" ry="1.1" fill="#b6cc6a" stroke="#6c7434" stroke-width="0.25" transform="rotate(178 563.1 60.4)"/><ellipse cx="532.3" cy="114.8" rx="1.9" ry="0.8" fill="#a4c05a" stroke="#6c7434" stroke-width="0.25" transform="rotate(178 532.3 114.8)"/><ellipse cx="550.0" cy="111.8" rx="1.5" ry="0.8" fill="#9cb452" stroke="#6c7434" stroke-width="0.25" transform="rotate(38 550.0 111.8)"/><ellipse cx="519.9" cy="83.2" rx="1.5" ry="1.1" fill="#8eaa48" stroke="#6c7434" stroke-width="0.25" transform="rotate(173 519.9 83.2)"/><ellipse cx="531.7" cy="86.4" rx="1.4" ry="0.9" fill="#9cb452" stroke="#6c7434" stroke-width="0.25" transform="rotate(110 531.7 86.4)"/><ellipse cx="515.6" cy="100.4" rx="2.3" ry="0.9" fill="#8eaa48" stroke="#6c7434" stroke-width="0.25" transform="rotate(171 515.6 100.4)"/><ellipse cx="549.5" cy="60.7" rx="1.1" ry="0.7" fill="#a4c05a" stroke="#6c7434" stroke-width="0.25" transform="rotate(173 549.5 60.7)"/><ellipse cx="560.7" cy="57.0" rx="1.6" ry="1.5" fill="#d2dc92" stroke="#6c7434" stroke-width="0.25" transform="rotate(88 560.7 57.0)"/><ellipse cx="514.4" cy="98.0" rx="1.1" ry="0.9" fill="#7c963c" stroke="#6c7434" stroke-width="0.25" transform="rotate(101 514.4 98.0)"/><ellipse cx="550.5" cy="17.3" rx="1.3" ry="1.5" fill="#b6cc6a" stroke="#6c7434" stroke-width="0.25" transform="rotate(135 550.5 17.3)"/><ellipse cx="522.1" cy="63.7" rx="1.1" ry="0.9" fill="#d2dc92" stroke="#6c7434" stroke-width="0.25" transform="rotate(66 522.1 63.7)"/><ellipse cx="511.3" cy="64.3" rx="1.5" ry="1.4" fill="#a4c05a" stroke="#6c7434" stroke-width="0.25" transform="rotate(94 511.3 64.3)"/><ellipse cx="538.9" cy="52.7" rx="1.4" ry="0.7" fill="#b6cc6a" stroke="#6c7434" stroke-width="0.25" transform="rotate(108 538.9 52.7)"/><ellipse cx="539.5" cy="99.3" rx="1.4" ry="1.6" fill="#d2dc92" stroke="#6c7434" stroke-width="0.25" transform="rotate(14 539.5 99.3)"/><ellipse cx="538.8" cy="17.7" rx="2.2" ry="1.5" fill="#8eaa48" stroke="#6c7434" stroke-width="0.25" transform="rotate(5 538.8 17.7)"/><ellipse cx="547.0" cy="86.1" rx="1.5" ry="1.2" fill="#b6cc6a" stroke="#6c7434" stroke-width="0.25" transform="rotate(110 547.0 86.1)"/><ellipse cx="521.1" cy="60.0" rx="1.5" ry="1.5" fill="#8eaa48" stroke="#6c7434" stroke-width="0.25" transform="rotate(125 521.1 60.0)"/><ellipse cx="536.1" cy="112.8" rx="1.1" ry="1.4" fill="#d2dc92" stroke="#6c7434" stroke-width="0.25" transform="rotate(5 536.1 112.8)"/><ellipse cx="564.0" cy="90.5" rx="1.7" ry="1.5" fill="#a4c05a" stroke="#6c7434" stroke-width="0.25" transform="rotate(66 564.0 90.5)"/><ellipse cx="554.1" cy="63.2" rx="2.2" ry="1.0" fill="#a4c05a" stroke="#6c7434" stroke-width="0.25" transform="rotate(120 554.1 63.2)"/><ellipse cx="552.0" cy="108.5" rx="2.1" ry="0.9" fill="#a4c05a" stroke="#6c7434" stroke-width="0.25" transform="rotate(39 552.0 108.5)"/><ellipse cx="547.8" cy="47.6" rx="1.2" ry="1.1" fill="#9cb452" stroke="#6c7434" stroke-width="0.25" transform="rotate(151 547.8 47.6)"/><ellipse cx="538.7" cy="123.7" rx="2.2" ry="1.0" fill="#9cb452" stroke="#6c7434" stroke-width="0.25" transform="rotate(94 538.7 123.7)"/><ellipse cx="537.1" cy="17.3" rx="1.0" ry="1.5" fill="#9cb452" stroke="#6c7434" stroke-width="0.25" transform="rotate(7 537.1 17.3)"/><ellipse cx="523.0" cy="52.3" rx="1.9" ry="1.2" fill="#8eaa48" stroke="#6c7434" stroke-width="0.25" transform="rotate(115 523.0 52.3)"/><ellipse cx="551.6" cy="63.8" rx="1.9" ry="1.3" fill="#b6cc6a" stroke="#6c7434" stroke-width="0.25" transform="rotate(145 551.6 63.8)"/><ellipse cx="539.0" cy="30.3" rx="1.0" ry="1.1" fill="#a4c05a" stroke="#6c7434" stroke-width="0.25" transform="rotate(129 539.0 30.3)"/><ellipse cx="518.6" cy="105.3" rx="1.8" ry="1.6" fill="#7c963c" stroke="#6c7434" stroke-width="0.25" transform="rotate(90 518.6 105.3)"/><ellipse cx="533.7" cy="119.6" rx="1.5" ry="1.1" fill="#b6cc6a" stroke="#6c7434" stroke-width="0.25" transform="rotate(35 533.7 119.6)"/><ellipse cx="530.9" cy="79.1" rx="2.2" ry="1.4" fill="#8eaa48" stroke="#6c7434" stroke-width="0.25" transform="rotate(170 530.9 79.1)"/><ellipse cx="541.4" cy="12.6" rx="1.5" ry="1.1" fill="#b6cc6a" stroke="#6c7434" stroke-width="0.25" transform="rotate(50 541.4 12.6)"/><ellipse cx="543.7" cy="93.8" rx="2.3" ry="1.1" fill="#9cb452" stroke="#6c7434" stroke-width="0.25" transform="rotate(180 543.7 93.8)"/><ellipse cx="542.5" cy="92.7" rx="1.6" ry="1.5" fill="#9cb452" stroke="#6c7434" stroke-width="0.25" transform="rotate(104 542.5 92.7)"/><ellipse cx="543.2" cy="44.3" rx="2.0" ry="1.3" fill="#d2dc92" stroke="#6c7434" stroke-width="0.25" transform="rotate(94 543.2 44.3)"/><ellipse cx="521.0" cy="91.9" rx="2.3" ry="1.5" fill="#c6d680" stroke="#6c7434" stroke-width="0.25" transform="rotate(110 521.0 91.9)"/><ellipse cx="543.0" cy="79.6" rx="1.3" ry="1.2" fill="#d2dc92" stroke="#6c7434" stroke-width="0.25" transform="rotate(91 543.0 79.6)"/><ellipse cx="530.9" cy="75.3" rx="1.1" ry="1.5" fill="#d2dc92" stroke="#6c7434" stroke-width="0.25" transform="rotate(98 530.9 75.3)"/><ellipse cx="537.6" cy="123.1" rx="2.1" ry="1.1" fill="#c6d680" stroke="#6c7434" stroke-width="0.25" transform="rotate(44 537.6 123.1)"/><ellipse cx="535.6" cy="110.0" rx="2.3" ry="1.1" fill="#a4c05a" stroke="#6c7434" stroke-width="0.25" transform="rotate(57 535.6 110.0)"/><ellipse cx="521.3" cy="95.8" rx="2.4" ry="0.7" fill="#b6cc6a" stroke="#6c7434" stroke-width="0.25" transform="rotate(28 521.3 95.8)"/><ellipse cx="556.3" cy="48.3" rx="1.5" ry="1.3" fill="#9cb452" stroke="#6c7434" stroke-width="0.25" transform="rotate(19 556.3 48.3)"/><ellipse cx="547.7" cy="114.5" rx="1.9" ry="1.3" fill="#8eaa48" stroke="#6c7434" stroke-width="0.25" transform="rotate(126 547.7 114.5)"/><ellipse cx="567.7" cy="85.0" rx="1.8" ry="1.5" fill="#a4c05a" stroke="#6c7434" stroke-width="0.25" transform="rotate(96 567.7 85.0)"/><ellipse cx="543.4" cy="114.4" rx="1.9" ry="1.5" fill="#9cb452" stroke="#6c7434" stroke-width="0.25" transform="rotate(42 543.4 114.4)"/><ellipse cx="551.5" cy="51.4" rx="1.3" ry="1.2" fill="#a4c05a" stroke="#6c7434" stroke-width="0.25" transform="rotate(160 551.5 51.4)"/><ellipse cx="519.6" cy="98.8" rx="1.4" ry="0.8" fill="#8eaa48" stroke="#6c7434" stroke-width="0.25" transform="rotate(150 519.6 98.8)"/><ellipse cx="544.5" cy="96.1" rx="1.3" ry="1.3" fill="#b6cc6a" stroke="#6c7434" stroke-width="0.25" transform="rotate(144 544.5 96.1)"/><ellipse cx="516.5" cy="93.3" rx="2.3" ry="1.6" fill="#d2dc92" stroke="#6c7434" stroke-width="0.25" transform="rotate(21 516.5 93.3)"/><ellipse cx="552.0" cy="50.9" rx="2.4" ry="1.4" fill="#8eaa48" stroke="#6c7434" stroke-width="0.25" transform="rotate(145 552.0 50.9)"/><ellipse cx="545.2" cy="72.4" rx="1.8" ry="0.8" fill="#4a3e22" stroke="#6c7434" stroke-width="0.25" transform="rotate(33 545.2 72.4)"/><ellipse cx="562.7" cy="48.9" rx="1.7" ry="1.2" fill="#d2dc92" stroke="#6c7434" stroke-width="0.25" transform="rotate(77 562.7 48.9)"/><ellipse cx="530.6" cy="87.3" rx="1.1" ry="0.9" fill="#c6d680" stroke="#6c7434" stroke-width="0.25" transform="rotate(73 530.6 87.3)"/><ellipse cx="560.6" cy="58.7" rx="1.3" ry="0.8" fill="#b6cc6a" stroke="#6c7434" stroke-width="0.25" transform="rotate(92 560.6 58.7)"/><ellipse cx="546.7" cy="31.9" rx="1.8" ry="1.0" fill="#c6d680" stroke="#6c7434" stroke-width="0.25" transform="rotate(137 546.7 31.9)"/><ellipse cx="574.7" cy="101.1" rx="2.1" ry="1.4" fill="#c6d680" stroke="#6c7434" stroke-width="0.25" transform="rotate(73 574.7 101.1)"/><ellipse cx="572.1" cy="94.8" rx="2.1" ry="1.4" fill="#9cb452" stroke="#6c7434" stroke-width="0.25" transform="rotate(73 572.1 94.8)"/><ellipse cx="524.5" cy="35.0" rx="1.6" ry="0.9" fill="#8eaa48" stroke="#6c7434" stroke-width="0.25" transform="rotate(14 524.5 35.0)"/><ellipse cx="552.7" cy="95.7" rx="2.1" ry="1.6" fill="#d2dc92" stroke="#6c7434" stroke-width="0.25" transform="rotate(4 552.7 95.7)"/><ellipse cx="536.4" cy="71.1" rx="2.1" ry="1.3" fill="#8a6030" stroke="#6c7434" stroke-width="0.25" transform="rotate(2 536.4 71.1)"/><ellipse cx="574.3" cy="76.8" rx="1.7" ry="1.6" fill="#b6cc6a" stroke="#6c7434" stroke-width="0.25" transform="rotate(102 574.3 76.8)"/><ellipse cx="552.3" cy="109.2" rx="1.1" ry="1.2" fill="#b6cc6a" stroke="#6c7434" stroke-width="0.25" transform="rotate(137 552.3 109.2)"/><ellipse cx="570.2" cy="75.7" rx="1.8" ry="1.1" fill="#c6d680" stroke="#6c7434" stroke-width="0.25" transform="rotate(89 570.2 75.7)"/><ellipse cx="543.2" cy="82.7" rx="1.5" ry="1.0" fill="#d2dc92" stroke="#6c7434" stroke-width="0.25" transform="rotate(118 543.2 82.7)"/><ellipse cx="576.2" cy="90.9" rx="2.0" ry="0.7" fill="#d2dc92" stroke="#6c7434" stroke-width="0.25" transform="rotate(139 576.2 90.9)"/><ellipse cx="561.9" cy="56.7" rx="2.3" ry="1.4" fill="#9cb452" stroke="#6c7434" stroke-width="0.25" transform="rotate(9 561.9 56.7)"/><ellipse cx="574.3" cy="61.7" rx="1.7" ry="1.6" fill="#d2dc92" stroke="#6c7434" stroke-width="0.25" transform="rotate(44 574.3 61.7)"/><ellipse cx="534.2" cy="22.7" rx="2.2" ry="1.0" fill="#c6d680" stroke="#6c7434" stroke-width="0.25" transform="rotate(28 534.2 22.7)"/><ellipse cx="536.3" cy="91.5" rx="1.6" ry="0.9" fill="#8eaa48" stroke="#6c7434" stroke-width="0.25" transform="rotate(105 536.3 91.5)"/><ellipse cx="529.8" cy="101.0" rx="2.1" ry="0.8" fill="#a4c05a" stroke="#6c7434" stroke-width="0.25" transform="rotate(52 529.8 101.0)"/><ellipse cx="573.2" cy="106.0" rx="1.9" ry="1.0" fill="#9cb452" stroke="#6c7434" stroke-width="0.25" transform="rotate(49 573.2 106.0)"/><ellipse cx="559.5" cy="95.4" rx="1.3" ry="1.0" fill="#a4c05a" stroke="#6c7434" stroke-width="0.25" transform="rotate(43 559.5 95.4)"/><ellipse cx="541.2" cy="89.6" rx="1.3" ry="1.3" fill="#b6cc6a" stroke="#6c7434" stroke-width="0.25" transform="rotate(113 541.2 89.6)"/><ellipse cx="522.2" cy="61.1" rx="1.9" ry="0.8" fill="#b6cc6a" stroke="#6c7434" stroke-width="0.25" transform="rotate(97 522.2 61.1)"/><ellipse cx="529.0" cy="50.3" rx="1.7" ry="0.8" fill="#7c963c" stroke="#6c7434" stroke-width="0.25" transform="rotate(157 529.0 50.3)"/><ellipse cx="551.1" cy="104.1" rx="1.3" ry="1.1" fill="#7c963c" stroke="#6c7434" stroke-width="0.25" transform="rotate(46 551.1 104.1)"/><ellipse cx="568.6" cy="82.6" rx="1.4" ry="1.4" fill="#a4c05a" stroke="#6c7434" stroke-width="0.25" transform="rotate(149 568.6 82.6)"/><ellipse cx="535.1" cy="54.2" rx="1.1" ry="1.5" fill="#b6cc6a" stroke="#6c7434" stroke-width="0.25" transform="rotate(14 535.1 54.2)"/><ellipse cx="535.4" cy="79.0" rx="2.1" ry="1.1" fill="#b6cc6a" stroke="#6c7434" stroke-width="0.25" transform="rotate(148 535.4 79.0)"/><ellipse cx="524.9" cy="98.6" rx="2.0" ry="1.0" fill="#c6d680" stroke="#6c7434" stroke-width="0.25" transform="rotate(26 524.9 98.6)"/><ellipse cx="553.9" cy="48.9" rx="2.3" ry="1.0" fill="#d2dc92" stroke="#6c7434" stroke-width="0.25" transform="rotate(79 553.9 48.9)"/><ellipse cx="574.9" cy="62.7" rx="2.1" ry="1.0" fill="#8eaa48" stroke="#6c7434" stroke-width="0.25" transform="rotate(57 574.9 62.7)"/><ellipse cx="542.3" cy="18.5" rx="2.2" ry="0.7" fill="#d2dc92" stroke="#6c7434" stroke-width="0.25" transform="rotate(122 542.3 18.5)"/><ellipse cx="531.8" cy="32.4" rx="1.8" ry="1.4" fill="#d2dc92" stroke="#6c7434" stroke-width="0.25" transform="rotate(97 531.8 32.4)"/><ellipse cx="537.3" cy="114.8" rx="2.1" ry="0.9" fill="#a4c05a" stroke="#6c7434" stroke-width="0.25" transform="rotate(10 537.3 114.8)"/><ellipse cx="553.4" cy="108.5" rx="1.1" ry="1.2" fill="#b6cc6a" stroke="#6c7434" stroke-width="0.25" transform="rotate(142 553.4 108.5)"/><ellipse cx="527.4" cy="42.2" rx="1.1" ry="1.0" fill="#9cb452" stroke="#6c7434" stroke-width="0.25" transform="rotate(5 527.4 42.2)"/><ellipse cx="553.2" cy="38.7" rx="1.3" ry="1.4" fill="#8eaa48" stroke="#6c7434" stroke-width="0.25" transform="rotate(94 553.2 38.7)"/><ellipse cx="528.7" cy="108.9" rx="1.5" ry="0.8" fill="#7c963c" stroke="#6c7434" stroke-width="0.25" transform="rotate(88 528.7 108.9)"/><ellipse cx="559.1" cy="96.5" rx="2.3" ry="1.1" fill="#9cb452" stroke="#6c7434" stroke-width="0.25" transform="rotate(149 559.1 96.5)"/><ellipse cx="538.1" cy="75.7" rx="1.0" ry="1.0" fill="#b6cc6a" stroke="#6c7434" stroke-width="0.25" transform="rotate(2 538.1 75.7)"/><ellipse cx="534.6" cy="60.6" rx="1.2" ry="1.4" fill="#8eaa48" stroke="#6c7434" stroke-width="0.25" transform="rotate(178 534.6 60.6)"/><ellipse cx="556.1" cy="48.1" rx="1.5" ry="1.2" fill="#b6cc6a" stroke="#6c7434" stroke-width="0.25" transform="rotate(49 556.1 48.1)"/><ellipse cx="538.7" cy="99.3" rx="1.4" ry="0.8" fill="#b6cc6a" stroke="#6c7434" stroke-width="0.25" transform="rotate(166 538.7 99.3)"/><ellipse cx="539.4" cy="108.1" rx="1.4" ry="0.9" fill="#d2dc92" stroke="#6c7434" stroke-width="0.25" transform="rotate(65 539.4 108.1)"/><ellipse cx="519.3" cy="97.7" rx="1.8" ry="0.9" fill="#c6d680" stroke="#6c7434" stroke-width="0.25" transform="rotate(33 519.3 97.7)"/><ellipse cx="533.0" cy="121.8" rx="2.3" ry="1.3" fill="#d2dc92" stroke="#6c7434" stroke-width="0.25" transform="rotate(170 533.0 121.8)"/><ellipse cx="539.3" cy="40.6" rx="2.2" ry="1.5" fill="#d2dc92" stroke="#6c7434" stroke-width="0.25" transform="rotate(62 539.3 40.6)"/><ellipse cx="570.7" cy="57.9" rx="1.3" ry="0.8" fill="#d2dc92" stroke="#6c7434" stroke-width="0.25" transform="rotate(144 570.7 57.9)"/><ellipse cx="565.2" cy="104.8" rx="2.1" ry="0.8" fill="#b6cc6a" stroke="#6c7434" stroke-width="0.25" transform="rotate(166 565.2 104.8)"/><ellipse cx="536.9" cy="38.8" rx="1.6" ry="1.5" fill="#7c963c" stroke="#6c7434" stroke-width="0.25" transform="rotate(75 536.9 38.8)"/><ellipse cx="526.4" cy="40.4" rx="2.2" ry="1.2" fill="#d2dc92" stroke="#6c7434" stroke-width="0.25" transform="rotate(115 526.4 40.4)"/><ellipse cx="521.9" cy="74.8" rx="1.2" ry="1.4" fill="#7c963c" stroke="#6c7434" stroke-width="0.25" transform="rotate(0 521.9 74.8)"/><ellipse cx="528.8" cy="84.9" rx="1.7" ry="1.5" fill="#b6cc6a" stroke="#6c7434" stroke-width="0.25" transform="rotate(125 528.8 84.9)"/><ellipse cx="564.7" cy="60.1" rx="2.3" ry="0.8" fill="#a4c05a" stroke="#6c7434" stroke-width="0.25" transform="rotate(149 564.7 60.1)"/><ellipse cx="540.5" cy="126.3" rx="2.3" ry="1.0" fill="#8eaa48" stroke="#6c7434" stroke-width="0.25" transform="rotate(73 540.5 126.3)"/><ellipse cx="554.7" cy="92.5" rx="2.0" ry="1.4" fill="#8eaa48" stroke="#6c7434" stroke-width="0.25" transform="rotate(22 554.7 92.5)"/><ellipse cx="546.3" cy="65.3" rx="1.0" ry="1.6" fill="#4a3e22" stroke="#6c7434" stroke-width="0.25" transform="rotate(144 546.3 65.3)"/><ellipse cx="523.8" cy="55.0" rx="1.8" ry="1.0" fill="#8eaa48" stroke="#6c7434" stroke-width="0.25" transform="rotate(61 523.8 55.0)"/><ellipse cx="545.6" cy="18.9" rx="1.3" ry="1.0" fill="#c6d680" stroke="#6c7434" stroke-width="0.25" transform="rotate(20 545.6 18.9)"/><ellipse cx="559.4" cy="49.5" rx="2.2" ry="0.8" fill="#b6cc6a" stroke="#6c7434" stroke-width="0.25" transform="rotate(25 559.4 49.5)"/><ellipse cx="535.6" cy="104.4" rx="1.5" ry="1.4" fill="#a4c05a" stroke="#6c7434" stroke-width="0.25" transform="rotate(167 535.6 104.4)"/><ellipse cx="553.1" cy="103.9" rx="2.1" ry="1.0" fill="#8eaa48" stroke="#6c7434" stroke-width="0.25" transform="rotate(60 553.1 103.9)"/><ellipse cx="551.1" cy="98.9" rx="1.9" ry="1.0" fill="#a4c05a" stroke="#6c7434" stroke-width="0.25" transform="rotate(142 551.1 98.9)"/><ellipse cx="554.1" cy="84.1" rx="1.0" ry="1.0" fill="#9cb452" stroke="#6c7434" stroke-width="0.25" transform="rotate(62 554.1 84.1)"/><ellipse cx="536.2" cy="77.7" rx="1.3" ry="1.0" fill="#b6cc6a" stroke="#6c7434" stroke-width="0.25" transform="rotate(53 536.2 77.7)"/><ellipse cx="550.1" cy="27.8" rx="2.1" ry="1.5" fill="#c6d680" stroke="#6c7434" stroke-width="0.25" transform="rotate(99 550.1 27.8)"/><ellipse cx="550.2" cy="72.2" rx="1.8" ry="0.9" fill="#9cb452" stroke="#6c7434" stroke-width="0.25" transform="rotate(168 550.2 72.2)"/><ellipse cx="577.5" cy="86.4" rx="1.3" ry="0.8" fill="#d2dc92" stroke="#6c7434" stroke-width="0.25" transform="rotate(44 577.5 86.4)"/><ellipse cx="534.2" cy="49.7" rx="1.1" ry="1.5" fill="#b6cc6a" stroke="#6c7434" stroke-width="0.25" transform="rotate(48 534.2 49.7)"/><ellipse cx="537.1" cy="99.2" rx="1.3" ry="1.2" fill="#b6cc6a" stroke="#6c7434" stroke-width="0.25" transform="rotate(98 537.1 99.2)"/><ellipse cx="545.9" cy="41.0" rx="2.3" ry="1.6" fill="#d2dc92" stroke="#6c7434" stroke-width="0.25" transform="rotate(147 545.9 41.0)"/><ellipse cx="529.8" cy="102.8" rx="1.5" ry="0.8" fill="#7c963c" stroke="#6c7434" stroke-width="0.25" transform="rotate(108 529.8 102.8)"/><ellipse cx="577.0" cy="90.3" rx="1.4" ry="1.3" fill="#8eaa48" stroke="#6c7434" stroke-width="0.25" transform="rotate(133 577.0 90.3)"/><ellipse cx="550.4" cy="88.0" rx="2.1" ry="0.8" fill="#b6cc6a" stroke="#6c7434" stroke-width="0.25" transform="rotate(74 550.4 88.0)"/><ellipse cx="511.7" cy="56.3" rx="1.8" ry="0.9" fill="#c6d680" stroke="#6c7434" stroke-width="0.25" transform="rotate(94 511.7 56.3)"/><ellipse cx="559.2" cy="106.4" rx="1.6" ry="1.1" fill="#c6d680" stroke="#6c7434" stroke-width="0.25" transform="rotate(18 559.2 106.4)"/><ellipse cx="533.7" cy="86.0" rx="2.0" ry="1.4" fill="#8eaa48" stroke="#6c7434" stroke-width="0.25" transform="rotate(135 533.7 86.0)"/><ellipse cx="572.9" cy="65.9" rx="2.3" ry="1.3" fill="#b6cc6a" stroke="#6c7434" stroke-width="0.25" transform="rotate(149 572.9 65.9)"/><ellipse cx="546.4" cy="121.2" rx="1.7" ry="1.2" fill="#c6d680" stroke="#6c7434" stroke-width="0.25" transform="rotate(78 546.4 121.2)"/><ellipse cx="550.5" cy="62.2" rx="1.5" ry="1.0" fill="#d2dc92" stroke="#6c7434" stroke-width="0.25" transform="rotate(142 550.5 62.2)"/><ellipse cx="539.0" cy="21.2" rx="2.3" ry="1.2" fill="#a4c05a" stroke="#6c7434" stroke-width="0.25" transform="rotate(118 539.0 21.2)"/><ellipse cx="559.9" cy="116.9" rx="1.5" ry="1.2" fill="#a4c05a" stroke="#6c7434" stroke-width="0.25" transform="rotate(102 559.9 116.9)"/><ellipse cx="518.2" cy="101.3" rx="1.8" ry="1.5" fill="#7c963c" stroke="#6c7434" stroke-width="0.25" transform="rotate(18 518.2 101.3)"/><ellipse cx="547.2" cy="64.6" rx="1.4" ry="1.4" fill="#5c6a2c" stroke="#6c7434" stroke-width="0.25" transform="rotate(4 547.2 64.6)"/><ellipse cx="532.6" cy="52.6" rx="1.8" ry="0.7" fill="#c6d680" stroke="#6c7434" stroke-width="0.25" transform="rotate(6 532.6 52.6)"/><ellipse cx="525.2" cy="70.3" rx="2.3" ry="1.6" fill="#a4c05a" stroke="#6c7434" stroke-width="0.25" transform="rotate(85 525.2 70.3)"/><ellipse cx="525.9" cy="115.4" rx="2.3" ry="0.7" fill="#9cb452" stroke="#6c7434" stroke-width="0.25" transform="rotate(114 525.9 115.4)"/><ellipse cx="551.9" cy="31.9" rx="2.2" ry="0.7" fill="#9cb452" stroke="#6c7434" stroke-width="0.25" transform="rotate(19 551.9 31.9)"/><ellipse cx="522.5" cy="60.5" rx="2.2" ry="1.0" fill="#7c963c" stroke="#6c7434" stroke-width="0.25" transform="rotate(172 522.5 60.5)"/><ellipse cx="536.5" cy="17.9" rx="1.3" ry="1.0" fill="#a4c05a" stroke="#6c7434" stroke-width="0.25" transform="rotate(128 536.5 17.9)"/><ellipse cx="522.1" cy="98.0" rx="1.7" ry="1.0" fill="#7c963c" stroke="#6c7434" stroke-width="0.25" transform="rotate(49 522.1 98.0)"/><ellipse cx="554.3" cy="118.6" rx="1.8" ry="0.9" fill="#9cb452" stroke="#6c7434" stroke-width="0.25" transform="rotate(54 554.3 118.6)"/><ellipse cx="554.8" cy="65.8" rx="1.1" ry="1.5" fill="#b6cc6a" stroke="#6c7434" stroke-width="0.25" transform="rotate(13 554.8 65.8)"/><ellipse cx="544.1" cy="60.9" rx="1.8" ry="0.8" fill="#a4c05a" stroke="#6c7434" stroke-width="0.25" transform="rotate(178 544.1 60.9)"/><ellipse cx="520.2" cy="42.9" rx="1.8" ry="0.9" fill="#b6cc6a" stroke="#6c7434" stroke-width="0.25" transform="rotate(161 520.2 42.9)"/><ellipse cx="539.6" cy="12.0" rx="1.4" ry="1.4" fill="#d2dc92" stroke="#6c7434" stroke-width="0.25" transform="rotate(114 539.6 12.0)"/><ellipse cx="561.0" cy="74.5" rx="1.8" ry="1.4" fill="#8eaa48" stroke="#6c7434" stroke-width="0.25" transform="rotate(20 561.0 74.5)"/><ellipse cx="519.3" cy="63.1" rx="2.1" ry="1.4" fill="#a4c05a" stroke="#6c7434" stroke-width="0.25" transform="rotate(142 519.3 63.1)"/><ellipse cx="521.3" cy="76.0" rx="2.2" ry="1.2" fill="#6a5a2a" stroke="#6c7434" stroke-width="0.25" transform="rotate(47 521.3 76.0)"/><ellipse cx="547.0" cy="117.1" rx="1.3" ry="0.8" fill="#8eaa48" stroke="#6c7434" stroke-width="0.25" transform="rotate(3 547.0 117.1)"/><ellipse cx="566.1" cy="71.0" rx="2.0" ry="1.5" fill="#b6cc6a" stroke="#6c7434" stroke-width="0.25" transform="rotate(6 566.1 71.0)"/><ellipse cx="574.4" cy="79.1" rx="1.8" ry="1.4" fill="#a4c05a" stroke="#6c7434" stroke-width="0.25" transform="rotate(43 574.4 79.1)"/><ellipse cx="557.0" cy="110.5" rx="2.0" ry="1.4" fill="#8eaa48" stroke="#6c7434" stroke-width="0.25" transform="rotate(138 557.0 110.5)"/><ellipse cx="514.1" cy="39.9" rx="1.2" ry="1.3" fill="#b6cc6a" stroke="#6c7434" stroke-width="0.25" transform="rotate(150 514.1 39.9)"/><ellipse cx="525.9" cy="66.4" rx="2.0" ry="1.3" fill="#a4c05a" stroke="#6c7434" stroke-width="0.25" transform="rotate(172 525.9 66.4)"/><ellipse cx="540.1" cy="103.2" rx="2.4" ry="0.8" fill="#9cb452" stroke="#6c7434" stroke-width="0.25" transform="rotate(82 540.1 103.2)"/><ellipse cx="533.6" cy="73.7" rx="1.1" ry="1.2" fill="#b6cc6a" stroke="#6c7434" stroke-width="0.25" transform="rotate(85 533.6 73.7)"/><ellipse cx="550.2" cy="45.0" rx="1.2" ry="1.5" fill="#4a3e22" stroke="#6c7434" stroke-width="0.25" transform="rotate(75 550.2 45.0)"/><ellipse cx="529.8" cy="50.1" rx="2.4" ry="1.2" fill="#8eaa48" stroke="#6c7434" stroke-width="0.25" transform="rotate(7 529.8 50.1)"/><ellipse cx="560.5" cy="78.9" rx="2.3" ry="1.5" fill="#a4c05a" stroke="#6c7434" stroke-width="0.25" transform="rotate(166 560.5 78.9)"/><ellipse cx="537.9" cy="57.1" rx="2.2" ry="1.0" fill="#a4c05a" stroke="#6c7434" stroke-width="0.25" transform="rotate(141 537.9 57.1)"/><ellipse cx="534.3" cy="38.8" rx="2.1" ry="1.4" fill="#d2dc92" stroke="#6c7434" stroke-width="0.25" transform="rotate(86 534.3 38.8)"/><ellipse cx="538.4" cy="46.6" rx="1.6" ry="1.6" fill="#7c963c" stroke="#6c7434" stroke-width="0.25" transform="rotate(122 538.4 46.6)"/><ellipse cx="539.9" cy="75.5" rx="1.6" ry="0.7" fill="#c6d680" stroke="#6c7434" stroke-width="0.25" transform="rotate(50 539.9 75.5)"/><ellipse cx="550.9" cy="72.9" rx="2.0" ry="1.2" fill="#a4c05a" stroke="#6c7434" stroke-width="0.25" transform="rotate(102 550.9 72.9)"/><ellipse cx="522.0" cy="53.1" rx="1.2" ry="1.5" fill="#7c963c" stroke="#6c7434" stroke-width="0.25" transform="rotate(65 522.0 53.1)"/><ellipse cx="568.8" cy="64.2" rx="2.2" ry="1.0" fill="#d2dc92" stroke="#6c7434" stroke-width="0.25" transform="rotate(46 568.8 64.2)"/><ellipse cx="554.9" cy="45.8" rx="1.9" ry="1.1" fill="#a4c05a" stroke="#6c7434" stroke-width="0.25" transform="rotate(34 554.9 45.8)"/><ellipse cx="534.8" cy="76.0" rx="1.2" ry="1.3" fill="#9cb452" stroke="#6c7434" stroke-width="0.25" transform="rotate(47 534.8 76.0)"/><ellipse cx="537.0" cy="55.1" rx="2.2" ry="1.5" fill="#8eaa48" stroke="#6c7434" stroke-width="0.25" transform="rotate(96 537.0 55.1)"/><ellipse cx="533.2" cy="56.3" rx="2.2" ry="0.9" fill="#c6d680" stroke="#6c7434" stroke-width="0.25" transform="rotate(53 533.2 56.3)"/><ellipse cx="550.1" cy="25.5" rx="2.2" ry="1.4" fill="#b6cc6a" stroke="#6c7434" stroke-width="0.25" transform="rotate(87 550.1 25.5)"/><ellipse cx="524.4" cy="91.8" rx="2.3" ry="0.9" fill="#9cb452" stroke="#6c7434" stroke-width="0.25" transform="rotate(124 524.4 91.8)"/><ellipse cx="530.7" cy="105.9" rx="1.4" ry="1.4" fill="#8eaa48" stroke="#6c7434" stroke-width="0.25" transform="rotate(22 530.7 105.9)"/><ellipse cx="504.9" cy="55.9" rx="1.5" ry="1.1" fill="#a4c05a" stroke="#6c7434" stroke-width="0.25" transform="rotate(50 504.9 55.9)"/><ellipse cx="563.0" cy="51.8" rx="2.0" ry="1.2" fill="#8eaa48" stroke="#6c7434" stroke-width="0.25" transform="rotate(134 563.0 51.8)"/><ellipse cx="565.9" cy="67.8" rx="1.4" ry="1.5" fill="#b6cc6a" stroke="#6c7434" stroke-width="0.25" transform="rotate(56 565.9 67.8)"/><ellipse cx="522.3" cy="55.1" rx="2.2" ry="1.0" fill="#c6d680" stroke="#6c7434" stroke-width="0.25" transform="rotate(129 522.3 55.1)"/><ellipse cx="526.5" cy="54.7" rx="1.4" ry="1.4" fill="#9cb452" stroke="#6c7434" stroke-width="0.25" transform="rotate(160 526.5 54.7)"/><ellipse cx="538.5" cy="84.9" rx="2.3" ry="1.0" fill="#a4c05a" stroke="#6c7434" stroke-width="0.25" transform="rotate(104 538.5 84.9)"/><ellipse cx="563.3" cy="86.4" rx="1.9" ry="1.1" fill="#c6d680" stroke="#6c7434" stroke-width="0.25" transform="rotate(75 563.3 86.4)"/><ellipse cx="531.6" cy="108.5" rx="2.0" ry="0.9" fill="#8eaa48" stroke="#6c7434" stroke-width="0.25" transform="rotate(89 531.6 108.5)"/><ellipse cx="555.8" cy="37.3" rx="1.0" ry="1.2" fill="#5c6a2c" stroke="#6c7434" stroke-width="0.25" transform="rotate(71 555.8 37.3)"/><ellipse cx="569.6" cy="103.7" rx="1.1" ry="1.4" fill="#9cb452" stroke="#6c7434" stroke-width="0.25" transform="rotate(159 569.6 103.7)"/><ellipse cx="528.4" cy="118.8" rx="1.4" ry="1.3" fill="#9cb452" stroke="#6c7434" stroke-width="0.25" transform="rotate(125 528.4 118.8)"/><ellipse cx="513.2" cy="49.6" rx="2.0" ry="1.4" fill="#8eaa48" stroke="#6c7434" stroke-width="0.25" transform="rotate(53 513.2 49.6)"/><ellipse cx="523.4" cy="101.6" rx="1.7" ry="0.9" fill="#c6d680" stroke="#6c7434" stroke-width="0.25" transform="rotate(45 523.4 101.6)"/><ellipse cx="557.9" cy="122.7" rx="2.0" ry="1.5" fill="#9cb452" stroke="#6c7434" stroke-width="0.25" transform="rotate(178 557.9 122.7)"/><ellipse cx="525.4" cy="114.1" rx="1.7" ry="1.3" fill="#d2dc92" stroke="#6c7434" stroke-width="0.25" transform="rotate(7 525.4 114.1)"/><ellipse cx="541.6" cy="107.6" rx="1.5" ry="1.3" fill="#9cb452" stroke="#6c7434" stroke-width="0.25" transform="rotate(45 541.6 107.6)"/><ellipse cx="546.2" cy="24.2" rx="2.4" ry="1.3" fill="#9cb452" stroke="#6c7434" stroke-width="0.25" transform="rotate(23 546.2 24.2)"/><ellipse cx="568.1" cy="108.2" rx="1.2" ry="1.0" fill="#a4c05a" stroke="#6c7434" stroke-width="0.25" transform="rotate(120 568.1 108.2)"/><ellipse cx="538.7" cy="94.7" rx="2.1" ry="1.5" fill="#c6d680" stroke="#6c7434" stroke-width="0.25" transform="rotate(48 538.7 94.7)"/><ellipse cx="534.4" cy="86.9" rx="1.6" ry="1.5" fill="#b6cc6a" stroke="#6c7434" stroke-width="0.25" transform="rotate(178 534.4 86.9)"/><ellipse cx="529.2" cy="75.3" rx="2.1" ry="1.1" fill="#7c963c" stroke="#6c7434" stroke-width="0.25" transform="rotate(163 529.2 75.3)"/><ellipse cx="544.5" cy="68.4" rx="1.5" ry="1.0" fill="#c6d680" stroke="#6c7434" stroke-width="0.25" transform="rotate(144 544.5 68.4)"/><ellipse cx="518.3" cy="98.2" rx="1.6" ry="0.8" fill="#9cb452" stroke="#6c7434" stroke-width="0.25" transform="rotate(104 518.3 98.2)"/><ellipse cx="556.9" cy="76.2" rx="2.1" ry="0.8" fill="#8a6030" stroke="#6c7434" stroke-width="0.25" transform="rotate(32 556.9 76.2)"/><ellipse cx="572.2" cy="62.1" rx="1.2" ry="1.5" fill="#d2dc92" stroke="#6c7434" stroke-width="0.25" transform="rotate(49 572.2 62.1)"/><ellipse cx="522.5" cy="36.4" rx="1.7" ry="1.0" fill="#6a5a2a" stroke="#6c7434" stroke-width="0.25" transform="rotate(47 522.5 36.4)"/><ellipse cx="528.8" cy="78.0" rx="1.8" ry="0.9" fill="#7c963c" stroke="#6c7434" stroke-width="0.25" transform="rotate(111 528.8 78.0)"/><ellipse cx="551.1" cy="42.6" rx="2.3" ry="1.5" fill="#7c963c" stroke="#6c7434" stroke-width="0.25" transform="rotate(179 551.1 42.6)"/><ellipse cx="544.2" cy="92.4" rx="1.4" ry="0.7" fill="#b6cc6a" stroke="#6c7434" stroke-width="0.25" transform="rotate(100 544.2 92.4)"/><ellipse cx="566.4" cy="107.0" rx="2.0" ry="1.1" fill="#7c963c" stroke="#6c7434" stroke-width="0.25" transform="rotate(145 566.4 107.0)"/><ellipse cx="554.6" cy="108.3" rx="2.1" ry="1.5" fill="#7c963c" stroke="#6c7434" stroke-width="0.25" transform="rotate(87 554.6 108.3)"/><ellipse cx="557.8" cy="39.3" rx="2.3" ry="0.7" fill="#5c6a2c" stroke="#6c7434" stroke-width="0.25" transform="rotate(104 557.8 39.3)"/><ellipse cx="559.4" cy="71.3" rx="1.4" ry="1.6" fill="#8eaa48" stroke="#6c7434" stroke-width="0.25" transform="rotate(113 559.4 71.3)"/><ellipse cx="529.0" cy="42.9" rx="2.3" ry="1.0" fill="#c6d680" stroke="#6c7434" stroke-width="0.25" transform="rotate(17 529.0 42.9)"/><ellipse cx="525.0" cy="33.7" rx="1.5" ry="0.8" fill="#6a5a2a" stroke="#6c7434" stroke-width="0.25" transform="rotate(67 525.0 33.7)"/><ellipse cx="533.1" cy="48.2" rx="1.8" ry="1.6" fill="#a4c05a" stroke="#6c7434" stroke-width="0.25" transform="rotate(37 533.1 48.2)"/><ellipse cx="526.3" cy="102.3" rx="1.2" ry="1.6" fill="#a4c05a" stroke="#6c7434" stroke-width="0.25" transform="rotate(77 526.3 102.3)"/><ellipse cx="540.9" cy="105.6" rx="2.2" ry="1.4" fill="#8eaa48" stroke="#6c7434" stroke-width="0.25" transform="rotate(13 540.9 105.6)"/><ellipse cx="515.0" cy="52.6" rx="2.4" ry="0.8" fill="#8eaa48" stroke="#6c7434" stroke-width="0.25" transform="rotate(114 515.0 52.6)"/><ellipse cx="550.5" cy="51.1" rx="1.6" ry="1.3" fill="#d2dc92" stroke="#6c7434" stroke-width="0.25" transform="rotate(76 550.5 51.1)"/><ellipse cx="560.6" cy="101.0" rx="1.6" ry="1.1" fill="#d2dc92" stroke="#6c7434" stroke-width="0.25" transform="rotate(151 560.6 101.0)"/><ellipse cx="518.9" cy="83.1" rx="1.8" ry="1.2" fill="#9cb452" stroke="#6c7434" stroke-width="0.25" transform="rotate(6 518.9 83.1)"/><ellipse cx="537.0" cy="43.5" rx="1.1" ry="0.7" fill="#d2dc92" stroke="#6c7434" stroke-width="0.25" transform="rotate(58 537.0 43.5)"/><ellipse cx="560.5" cy="47.1" rx="2.0" ry="1.6" fill="#7c963c" stroke="#6c7434" stroke-width="0.25" transform="rotate(72 560.5 47.1)"/><ellipse cx="520.6" cy="40.7" rx="1.3" ry="0.7" fill="#d2dc92" stroke="#6c7434" stroke-width="0.25" transform="rotate(62 520.6 40.7)"/><ellipse cx="566.2" cy="64.8" rx="1.8" ry="1.5" fill="#c6d680" stroke="#6c7434" stroke-width="0.25" transform="rotate(35 566.2 64.8)"/><ellipse cx="508.8" cy="63.1" rx="2.1" ry="1.5" fill="#8eaa48" stroke="#6c7434" stroke-width="0.25" transform="rotate(13 508.8 63.1)"/><ellipse cx="570.1" cy="104.4" rx="1.8" ry="1.5" fill="#a4c05a" stroke="#6c7434" stroke-width="0.25" transform="rotate(143 570.1 104.4)"/><ellipse cx="523.7" cy="60.0" rx="1.9" ry="0.7" fill="#8eaa48" stroke="#6c7434" stroke-width="0.25" transform="rotate(123 523.7 60.0)"/><ellipse cx="551.6" cy="117.6" rx="2.0" ry="0.9" fill="#b6cc6a" stroke="#6c7434" stroke-width="0.25" transform="rotate(120 551.6 117.6)"/><ellipse cx="567.0" cy="95.5" rx="2.2" ry="1.6" fill="#a4c05a" stroke="#6c7434" stroke-width="0.25" transform="rotate(118 567.0 95.5)"/><ellipse cx="538.2" cy="24.1" rx="1.2" ry="1.5" fill="#c6d680" stroke="#6c7434" stroke-width="0.25" transform="rotate(110 538.2 24.1)"/><ellipse cx="558.9" cy="116.8" rx="2.1" ry="0.9" fill="#8a6030" stroke="#6c7434" stroke-width="0.25" transform="rotate(13 558.9 116.8)"/><ellipse cx="567.3" cy="59.1" rx="1.6" ry="1.2" fill="#c6d680" stroke="#6c7434" stroke-width="0.25" transform="rotate(169 567.3 59.1)"/><ellipse cx="542.1" cy="60.2" rx="1.7" ry="0.8" fill="#c6d680" stroke="#6c7434" stroke-width="0.25" transform="rotate(22 542.1 60.2)"/><ellipse cx="553.2" cy="36.2" rx="1.7" ry="0.9" fill="#6a5a2a" stroke="#6c7434" stroke-width="0.25" transform="rotate(75 553.2 36.2)"/><ellipse cx="530.1" cy="49.7" rx="1.8" ry="1.3" fill="#9cb452" stroke="#6c7434" stroke-width="0.25" transform="rotate(48 530.1 49.7)"/><ellipse cx="557.0" cy="92.0" rx="1.3" ry="1.1" fill="#7c963c" stroke="#6c7434" stroke-width="0.25" transform="rotate(24 557.0 92.0)"/><ellipse cx="520.6" cy="60.6" rx="1.5" ry="1.4" fill="#d2dc92" stroke="#6c7434" stroke-width="0.25" transform="rotate(153 520.6 60.6)"/><ellipse cx="537.2" cy="34.2" rx="2.1" ry="0.7" fill="#d2dc92" stroke="#6c7434" stroke-width="0.25" transform="rotate(5 537.2 34.2)"/><ellipse cx="554.9" cy="51.0" rx="2.3" ry="1.6" fill="#9cb452" stroke="#6c7434" stroke-width="0.25" transform="rotate(4 554.9 51.0)"/><ellipse cx="514.0" cy="71.2" rx="1.7" ry="1.3" fill="#a4c05a" stroke="#6c7434" stroke-width="0.25" transform="rotate(11 514.0 71.2)"/><ellipse cx="532.4" cy="111.6" rx="1.9" ry="1.3" fill="#b6cc6a" stroke="#6c7434" stroke-width="0.25" transform="rotate(180 532.4 111.6)"/><ellipse cx="542.5" cy="81.0" rx="1.7" ry="1.4" fill="#b6cc6a" stroke="#6c7434" stroke-width="0.25" transform="rotate(93 542.5 81.0)"/><ellipse cx="513.7" cy="89.1" rx="1.9" ry="1.4" fill="#9cb452" stroke="#6c7434" stroke-width="0.25" transform="rotate(46 513.7 89.1)"/><ellipse cx="538.8" cy="118.5" rx="1.6" ry="0.8" fill="#c6d680" stroke="#6c7434" stroke-width="0.25" transform="rotate(67 538.8 118.5)"/><ellipse cx="543.9" cy="74.7" rx="1.2" ry="1.4" fill="#b6cc6a" stroke="#6c7434" stroke-width="0.25" transform="rotate(54 543.9 74.7)"/><ellipse cx="554.3" cy="71.7" rx="1.4" ry="1.0" fill="#d2dc92" stroke="#6c7434" stroke-width="0.25" transform="rotate(44 554.3 71.7)"/><ellipse cx="517.8" cy="64.5" rx="1.8" ry="1.1" fill="#b6cc6a" stroke="#6c7434" stroke-width="0.25" transform="rotate(153 517.8 64.5)"/><ellipse cx="566.4" cy="71.0" rx="1.2" ry="1.2" fill="#d2dc92" stroke="#6c7434" stroke-width="0.25" transform="rotate(31 566.4 71.0)"/><ellipse cx="550.2" cy="116.0" rx="2.3" ry="1.1" fill="#6a5a2a" stroke="#6c7434" stroke-width="0.25" transform="rotate(2 550.2 116.0)"/><ellipse cx="560.2" cy="97.1" rx="1.2" ry="1.2" fill="#b6cc6a" stroke="#6c7434" stroke-width="0.25" transform="rotate(5 560.2 97.1)"/><ellipse cx="540.5" cy="122.0" rx="1.8" ry="1.4" fill="#8eaa48" stroke="#6c7434" stroke-width="0.25" transform="rotate(140 540.5 122.0)"/><ellipse cx="534.1" cy="17.8" rx="1.4" ry="0.8" fill="#5c6a2c" stroke="#6c7434" stroke-width="0.25" transform="rotate(165 534.1 17.8)"/><ellipse cx="545.9" cy="25.2" rx="2.4" ry="1.5" fill="#9cb452" stroke="#6c7434" stroke-width="0.25" transform="rotate(17 545.9 25.2)"/><ellipse cx="524.5" cy="100.4" rx="1.4" ry="1.0" fill="#8eaa48" stroke="#6c7434" stroke-width="0.25" transform="rotate(77 524.5 100.4)"/><ellipse cx="531.5" cy="89.1" rx="1.5" ry="0.8" fill="#d2dc92" stroke="#6c7434" stroke-width="0.25" transform="rotate(56 531.5 89.1)"/><ellipse cx="544.9" cy="58.0" rx="1.3" ry="0.8" fill="#5c6a2c" stroke="#6c7434" stroke-width="0.25" transform="rotate(67 544.9 58.0)"/><ellipse cx="543.2" cy="99.6" rx="1.5" ry="1.2" fill="#9cb452" stroke="#6c7434" stroke-width="0.25" transform="rotate(19 543.2 99.6)"/><ellipse cx="530.0" cy="82.8" rx="1.5" ry="1.0" fill="#d2dc92" stroke="#6c7434" stroke-width="0.25" transform="rotate(110 530.0 82.8)"/><ellipse cx="528.3" cy="115.0" rx="1.3" ry="1.2" fill="#8eaa48" stroke="#6c7434" stroke-width="0.25" transform="rotate(145 528.3 115.0)"/><ellipse cx="553.1" cy="54.7" rx="1.1" ry="1.2" fill="#8eaa48" stroke="#6c7434" stroke-width="0.25" transform="rotate(18 553.1 54.7)"/><ellipse cx="526.9" cy="47.7" rx="2.1" ry="1.4" fill="#b6cc6a" stroke="#6c7434" stroke-width="0.25" transform="rotate(116 526.9 47.7)"/><ellipse cx="511.4" cy="50.5" rx="2.0" ry="1.3" fill="#a4c05a" stroke="#6c7434" stroke-width="0.25" transform="rotate(123 511.4 50.5)"/><ellipse cx="560.4" cy="60.3" rx="2.0" ry="1.6" fill="#b6cc6a" stroke="#6c7434" stroke-width="0.25" transform="rotate(165 560.4 60.3)"/><ellipse cx="562.1" cy="92.6" rx="2.1" ry="1.1" fill="#9cb452" stroke="#6c7434" stroke-width="0.25" transform="rotate(162 562.1 92.6)"/><ellipse cx="568.4" cy="91.3" rx="1.8" ry="0.8" fill="#c6d680" stroke="#6c7434" stroke-width="0.25" transform="rotate(21 568.4 91.3)"/><ellipse cx="556.7" cy="89.6" rx="1.2" ry="1.5" fill="#c6d680" stroke="#6c7434" stroke-width="0.25" transform="rotate(17 556.7 89.6)"/><ellipse cx="544.0" cy="112.9" rx="1.2" ry="1.5" fill="#b6cc6a" stroke="#6c7434" stroke-width="0.25" transform="rotate(85 544.0 112.9)"/><ellipse cx="516.4" cy="95.9" rx="1.7" ry="1.1" fill="#d2dc92" stroke="#6c7434" stroke-width="0.25" transform="rotate(144 516.4 95.9)"/><ellipse cx="548.0" cy="33.3" rx="1.5" ry="0.8" fill="#d2dc92" stroke="#6c7434" stroke-width="0.25" transform="rotate(63 548.0 33.3)"/><ellipse cx="565.8" cy="93.5" rx="1.6" ry="1.2" fill="#7c963c" stroke="#6c7434" stroke-width="0.25" transform="rotate(83 565.8 93.5)"/><ellipse cx="547.9" cy="68.1" rx="2.4" ry="1.0" fill="#8a6030" stroke="#6c7434" stroke-width="0.25" transform="rotate(126 547.9 68.1)"/><ellipse cx="528.8" cy="59.4" rx="1.1" ry="1.5" fill="#c6d680" stroke="#6c7434" stroke-width="0.25" transform="rotate(144 528.8 59.4)"/><ellipse cx="531.0" cy="97.6" rx="1.6" ry="1.3" fill="#8eaa48" stroke="#6c7434" stroke-width="0.25" transform="rotate(101 531.0 97.6)"/><ellipse cx="574.6" cy="65.0" rx="1.7" ry="0.9" fill="#b6cc6a" stroke="#6c7434" stroke-width="0.25" transform="rotate(136 574.6 65.0)"/><ellipse cx="555.7" cy="70.6" rx="1.2" ry="1.6" fill="#a4c05a" stroke="#6c7434" stroke-width="0.25" transform="rotate(63 555.7 70.6)"/><ellipse cx="545.2" cy="49.6" rx="1.2" ry="1.6" fill="#b6cc6a" stroke="#6c7434" stroke-width="0.25" transform="rotate(138 545.2 49.6)"/><ellipse cx="560.5" cy="51.0" rx="1.2" ry="0.9" fill="#c6d680" stroke="#6c7434" stroke-width="0.25" transform="rotate(30 560.5 51.0)"/><ellipse cx="556.5" cy="53.5" rx="2.3" ry="1.3" fill="#7c963c" stroke="#6c7434" stroke-width="0.25" transform="rotate(52 556.5 53.5)"/><ellipse cx="509.1" cy="52.8" rx="1.2" ry="1.5" fill="#c6d680" stroke="#6c7434" stroke-width="0.25" transform="rotate(120 509.1 52.8)"/><ellipse cx="539.8" cy="42.1" rx="1.4" ry="0.9" fill="#a4c05a" stroke="#6c7434" stroke-width="0.25" transform="rotate(92 539.8 42.1)"/><ellipse cx="567.4" cy="76.1" rx="1.2" ry="0.8" fill="#a4c05a" stroke="#6c7434" stroke-width="0.25" transform="rotate(144 567.4 76.1)"/><ellipse cx="543.8" cy="90.5" rx="2.3" ry="1.4" fill="#b6cc6a" stroke="#6c7434" stroke-width="0.25" transform="rotate(47 543.8 90.5)"/><ellipse cx="535.0" cy="105.5" rx="1.9" ry="1.2" fill="#9cb452" stroke="#6c7434" stroke-width="0.25" transform="rotate(87 535.0 105.5)"/><ellipse cx="530.4" cy="99.2" rx="2.3" ry="1.2" fill="#c6d680" stroke="#6c7434" stroke-width="0.25" transform="rotate(102 530.4 99.2)"/><ellipse cx="545.1" cy="79.9" rx="2.3" ry="1.4" fill="#b6cc6a" stroke="#6c7434" stroke-width="0.25" transform="rotate(54 545.1 79.9)"/><ellipse cx="525.4" cy="117.0" rx="1.1" ry="1.3" fill="#b6cc6a" stroke="#6c7434" stroke-width="0.25" transform="rotate(12 525.4 117.0)"/><ellipse cx="533.9" cy="25.9" rx="2.3" ry="1.6" fill="#d2dc92" stroke="#6c7434" stroke-width="0.25" transform="rotate(175 533.9 25.9)"/><ellipse cx="544.5" cy="62.6" rx="2.0" ry="0.8" fill="#a4c05a" stroke="#6c7434" stroke-width="0.25" transform="rotate(125 544.5 62.6)"/><ellipse cx="521.0" cy="35.4" rx="1.4" ry="0.8" fill="#a4c05a" stroke="#6c7434" stroke-width="0.25" transform="rotate(97 521.0 35.4)"/><ellipse cx="548.4" cy="93.7" rx="1.9" ry="1.3" fill="#b6cc6a" stroke="#6c7434" stroke-width="0.25" transform="rotate(168 548.4 93.7)"/><ellipse cx="524.4" cy="45.6" rx="2.4" ry="1.1" fill="#a4c05a" stroke="#6c7434" stroke-width="0.25" transform="rotate(27 524.4 45.6)"/><ellipse cx="556.5" cy="73.0" rx="1.8" ry="1.4" fill="#b6cc6a" stroke="#6c7434" stroke-width="0.25" transform="rotate(145 556.5 73.0)"/><ellipse cx="517.7" cy="57.4" rx="1.3" ry="1.0" fill="#8eaa48" stroke="#6c7434" stroke-width="0.25" transform="rotate(39 517.7 57.4)"/><ellipse cx="521.5" cy="81.2" rx="1.7" ry="1.0" fill="#8eaa48" stroke="#6c7434" stroke-width="0.25" transform="rotate(121 521.5 81.2)"/><ellipse cx="534.0" cy="33.1" rx="1.3" ry="1.1" fill="#a4c05a" stroke="#6c7434" stroke-width="0.25" transform="rotate(40 534.0 33.1)"/><ellipse cx="519.5" cy="89.8" rx="1.4" ry="1.2" fill="#b6cc6a" stroke="#6c7434" stroke-width="0.25" transform="rotate(46 519.5 89.8)"/><ellipse cx="524.7" cy="49.2" rx="2.0" ry="1.3" fill="#d2dc92" stroke="#6c7434" stroke-width="0.25" transform="rotate(142 524.7 49.2)"/><ellipse cx="541.3" cy="63.2" rx="1.1" ry="1.2" fill="#9cb452" stroke="#6c7434" stroke-width="0.25" transform="rotate(25 541.3 63.2)"/><ellipse cx="564.1" cy="50.3" rx="2.1" ry="1.0" fill="#d2dc92" stroke="#6c7434" stroke-width="0.25" transform="rotate(52 564.1 50.3)"/><ellipse cx="513.1" cy="69.6" rx="1.3" ry="1.0" fill="#a4c05a" stroke="#6c7434" stroke-width="0.25" transform="rotate(25 513.1 69.6)"/><ellipse cx="572.4" cy="98.8" rx="2.3" ry="1.1" fill="#b6cc6a" stroke="#6c7434" stroke-width="0.25" transform="rotate(67 572.4 98.8)"/><ellipse cx="559.5" cy="92.5" rx="1.2" ry="1.0" fill="#c6d680" stroke="#6c7434" stroke-width="0.25" transform="rotate(105 559.5 92.5)"/><ellipse cx="543.2" cy="75.5" rx="1.8" ry="1.4" fill="#b6cc6a" stroke="#6c7434" stroke-width="0.25" transform="rotate(95 543.2 75.5)"/><ellipse cx="506.3" cy="46.7" rx="2.1" ry="1.5" fill="#a4c05a" stroke="#6c7434" stroke-width="0.25" transform="rotate(91 506.3 46.7)"/><ellipse cx="579.1" cy="87.8" rx="1.1" ry="1.1" fill="#d2dc92" stroke="#6c7434" stroke-width="0.25" transform="rotate(161 579.1 87.8)"/><ellipse cx="537.7" cy="83.4" rx="2.2" ry="1.1" fill="#8eaa48" stroke="#6c7434" stroke-width="0.25" transform="rotate(34 537.7 83.4)"/><ellipse cx="562.5" cy="58.1" rx="1.1" ry="0.8" fill="#9cb452" stroke="#6c7434" stroke-width="0.25" transform="rotate(31 562.5 58.1)"/><ellipse cx="578.8" cy="84.5" rx="1.1" ry="0.7" fill="#6a5a2a" stroke="#6c7434" stroke-width="0.25" transform="rotate(62 578.8 84.5)"/><ellipse cx="527.6" cy="114.0" rx="1.8" ry="1.3" fill="#9cb452" stroke="#6c7434" stroke-width="0.25" transform="rotate(45 527.6 114.0)"/><ellipse cx="526.0" cy="52.6" rx="2.2" ry="1.2" fill="#d2dc92" stroke="#6c7434" stroke-width="0.25" transform="rotate(75 526.0 52.6)"/><ellipse cx="548.1" cy="40.0" rx="2.3" ry="1.1" fill="#d2dc92" stroke="#6c7434" stroke-width="0.25" transform="rotate(122 548.1 40.0)"/><ellipse cx="513.3" cy="71.6" rx="2.4" ry="1.0" fill="#a4c05a" stroke="#6c7434" stroke-width="0.25" transform="rotate(31 513.3 71.6)"/><ellipse cx="545.5" cy="58.5" rx="2.0" ry="1.0" fill="#b6cc6a" stroke="#6c7434" stroke-width="0.25" transform="rotate(115 545.5 58.5)"/><ellipse cx="528.5" cy="77.9" rx="1.7" ry="1.5" fill="#8eaa48" stroke="#6c7434" stroke-width="0.25" transform="rotate(93 528.5 77.9)"/><ellipse cx="556.2" cy="90.8" rx="1.6" ry="1.1" fill="#d2dc92" stroke="#6c7434" stroke-width="0.25" transform="rotate(152 556.2 90.8)"/><ellipse cx="537.9" cy="19.2" rx="1.7" ry="1.1" fill="#b6cc6a" stroke="#6c7434" stroke-width="0.25" transform="rotate(115 537.9 19.2)"/><ellipse cx="523.0" cy="63.3" rx="1.1" ry="1.4" fill="#7c963c" stroke="#6c7434" stroke-width="0.25" transform="rotate(42 523.0 63.3)"/><ellipse cx="516.0" cy="87.1" rx="1.1" ry="1.0" fill="#5c6a2c" stroke="#6c7434" stroke-width="0.25" transform="rotate(10 516.0 87.1)"/><ellipse cx="512.4" cy="47.5" rx="1.9" ry="1.2" fill="#9cb452" stroke="#6c7434" stroke-width="0.25" transform="rotate(167 512.4 47.5)"/><ellipse cx="575.2" cy="93.6" rx="2.1" ry="1.3" fill="#7c963c" stroke="#6c7434" stroke-width="0.25" transform="rotate(146 575.2 93.6)"/><ellipse cx="539.0" cy="97.3" rx="1.1" ry="1.4" fill="#9cb452" stroke="#6c7434" stroke-width="0.25" transform="rotate(172 539.0 97.3)"/><ellipse cx="528.1" cy="107.0" rx="1.9" ry="1.5" fill="#9cb452" stroke="#6c7434" stroke-width="0.25" transform="rotate(168 528.1 107.0)"/><ellipse cx="513.1" cy="40.5" rx="1.4" ry="1.1" fill="#7c963c" stroke="#6c7434" stroke-width="0.25" transform="rotate(46 513.1 40.5)"/><ellipse cx="551.1" cy="23.7" rx="2.0" ry="0.8" fill="#7c963c" stroke="#6c7434" stroke-width="0.25" transform="rotate(156 551.1 23.7)"/><ellipse cx="532.3" cy="102.0" rx="1.0" ry="0.9" fill="#8eaa48" stroke="#6c7434" stroke-width="0.25" transform="rotate(89 532.3 102.0)"/><ellipse cx="518.4" cy="96.9" rx="1.1" ry="1.5" fill="#a4c05a" stroke="#6c7434" stroke-width="0.25" transform="rotate(90 518.4 96.9)"/><ellipse cx="518.9" cy="85.3" rx="1.2" ry="0.8" fill="#8eaa48" stroke="#6c7434" stroke-width="0.25" transform="rotate(78 518.9 85.3)"/><ellipse cx="553.1" cy="93.8" rx="2.3" ry="1.0" fill="#b6cc6a" stroke="#6c7434" stroke-width="0.25" transform="rotate(167 553.1 93.8)"/><ellipse cx="563.5" cy="49.7" rx="1.4" ry="1.2" fill="#b6cc6a" stroke="#6c7434" stroke-width="0.25" transform="rotate(88 563.5 49.7)"/><ellipse cx="543.1" cy="44.0" rx="2.3" ry="1.0" fill="#c6d680" stroke="#6c7434" stroke-width="0.25" transform="rotate(78 543.1 44.0)"/><ellipse cx="504.3" cy="52.4" rx="1.7" ry="1.6" fill="#8eaa48" stroke="#6c7434" stroke-width="0.25" transform="rotate(115 504.3 52.4)"/><ellipse cx="506.5" cy="61.7" rx="1.7" ry="1.1" fill="#7c963c" stroke="#6c7434" stroke-width="0.25" transform="rotate(113 506.5 61.7)"/><ellipse cx="543.3" cy="31.7" rx="2.1" ry="0.8" fill="#d2dc92" stroke="#6c7434" stroke-width="0.25" transform="rotate(27 543.3 31.7)"/><ellipse cx="522.0" cy="107.7" rx="1.1" ry="0.8" fill="#b6cc6a" stroke="#6c7434" stroke-width="0.25" transform="rotate(11 522.0 107.7)"/><ellipse cx="538.1" cy="84.9" rx="2.2" ry="1.6" fill="#7c963c" stroke="#6c7434" stroke-width="0.25" transform="rotate(90 538.1 84.9)"/><ellipse cx="561.0" cy="58.4" rx="1.9" ry="1.3" fill="#b6cc6a" stroke="#6c7434" stroke-width="0.25" transform="rotate(111 561.0 58.4)"/><ellipse cx="520.1" cy="79.3" rx="1.6" ry="1.0" fill="#d2dc92" stroke="#6c7434" stroke-width="0.25" transform="rotate(134 520.1 79.3)"/><ellipse cx="569.9" cy="68.8" rx="1.8" ry="1.0" fill="#b6cc6a" stroke="#6c7434" stroke-width="0.25" transform="rotate(177 569.9 68.8)"/><ellipse cx="568.5" cy="98.1" rx="1.8" ry="1.4" fill="#a4c05a" stroke="#6c7434" stroke-width="0.25" transform="rotate(157 568.5 98.1)"/><ellipse cx="521.1" cy="106.9" rx="2.0" ry="1.1" fill="#8eaa48" stroke="#6c7434" stroke-width="0.25" transform="rotate(66 521.1 106.9)"/><ellipse cx="516.8" cy="62.4" rx="1.3" ry="0.7" fill="#d2dc92" stroke="#6c7434" stroke-width="0.25" transform="rotate(157 516.8 62.4)"/><ellipse cx="563.4" cy="64.9" rx="1.7" ry="1.5" fill="#8eaa48" stroke="#6c7434" stroke-width="0.25" transform="rotate(82 563.4 64.9)"/><ellipse cx="555.6" cy="71.1" rx="2.1" ry="1.5" fill="#b6cc6a" stroke="#6c7434" stroke-width="0.25" transform="rotate(159 555.6 71.1)"/><ellipse cx="560.8" cy="45.0" rx="2.0" ry="1.6" fill="#9cb452" stroke="#6c7434" stroke-width="0.25" transform="rotate(118 560.8 45.0)"/><ellipse cx="537.3" cy="34.6" rx="1.4" ry="1.2" fill="#d2dc92" stroke="#6c7434" stroke-width="0.25" transform="rotate(15 537.3 34.6)"/><ellipse cx="534.1" cy="103.8" rx="1.4" ry="1.3" fill="#8eaa48" stroke="#6c7434" stroke-width="0.25" transform="rotate(40 534.1 103.8)"/><ellipse cx="561.3" cy="62.2" rx="1.7" ry="0.7" fill="#9cb452" stroke="#6c7434" stroke-width="0.25" transform="rotate(39 561.3 62.2)"/><ellipse cx="532.1" cy="81.8" rx="2.0" ry="1.4" fill="#d2dc92" stroke="#6c7434" stroke-width="0.25" transform="rotate(134 532.1 81.8)"/><ellipse cx="539.2" cy="40.0" rx="2.0" ry="1.1" fill="#b6cc6a" stroke="#6c7434" stroke-width="0.25" transform="rotate(28 539.2 40.0)"/><ellipse cx="526.6" cy="98.8" rx="2.3" ry="0.9" fill="#d2dc92" stroke="#6c7434" stroke-width="0.25" transform="rotate(102 526.6 98.8)"/><ellipse cx="540.5" cy="68.9" rx="2.3" ry="1.6" fill="#6a5a2a" stroke="#6c7434" stroke-width="0.25" transform="rotate(122 540.5 68.9)"/><ellipse cx="537.7" cy="74.2" rx="2.4" ry="1.2" fill="#c6d680" stroke="#6c7434" stroke-width="0.25" transform="rotate(172 537.7 74.2)"/><ellipse cx="513.8" cy="53.4" rx="1.3" ry="1.3" fill="#d2dc92" stroke="#6c7434" stroke-width="0.25" transform="rotate(26 513.8 53.4)"/><ellipse cx="544.1" cy="11.0" rx="1.5" ry="1.3" fill="#c6d680" stroke="#6c7434" stroke-width="0.25" transform="rotate(27 544.1 11.0)"/><ellipse cx="551.4" cy="112.3" rx="1.9" ry="0.9" fill="#b6cc6a" stroke="#6c7434" stroke-width="0.25" transform="rotate(5 551.4 112.3)"/><ellipse cx="554.6" cy="44.4" rx="1.5" ry="1.3" fill="#4a3e22" stroke="#6c7434" stroke-width="0.25" transform="rotate(65 554.6 44.4)"/><ellipse cx="569.4" cy="95.7" rx="1.0" ry="1.5" fill="#c6d680" stroke="#6c7434" stroke-width="0.25" transform="rotate(142 569.4 95.7)"/><ellipse cx="550.8" cy="26.8" rx="2.3" ry="1.0" fill="#8eaa48" stroke="#6c7434" stroke-width="0.25" transform="rotate(79 550.8 26.8)"/><ellipse cx="548.6" cy="103.5" rx="1.7" ry="1.2" fill="#7c963c" stroke="#6c7434" stroke-width="0.25" transform="rotate(63 548.6 103.5)"/><ellipse cx="518.6" cy="53.5" rx="1.3" ry="1.3" fill="#9cb452" stroke="#6c7434" stroke-width="0.25" transform="rotate(8 518.6 53.5)"/><ellipse cx="561.1" cy="103.8" rx="2.0" ry="1.5" fill="#c6d680" stroke="#6c7434" stroke-width="0.25" transform="rotate(4 561.1 103.8)"/><ellipse cx="522.4" cy="91.4" rx="2.0" ry="1.0" fill="#c6d680" stroke="#6c7434" stroke-width="0.25" transform="rotate(84 522.4 91.4)"/><ellipse cx="534.2" cy="29.6" rx="1.2" ry="0.8" fill="#9cb452" stroke="#6c7434" stroke-width="0.25" transform="rotate(17 534.2 29.6)"/><ellipse cx="542.0" cy="47.0" rx="2.2" ry="1.4" fill="#9cb452" stroke="#6c7434" stroke-width="0.25" transform="rotate(112 542.0 47.0)"/><ellipse cx="536.4" cy="97.7" rx="1.3" ry="1.4" fill="#c6d680" stroke="#6c7434" stroke-width="0.25" transform="rotate(65 536.4 97.7)"/><ellipse cx="538.4" cy="74.1" rx="1.7" ry="1.4" fill="#a4c05a" stroke="#6c7434" stroke-width="0.25" transform="rotate(161 538.4 74.1)"/><ellipse cx="523.4" cy="45.0" rx="1.5" ry="1.3" fill="#8eaa48" stroke="#6c7434" stroke-width="0.25" transform="rotate(7 523.4 45.0)"/><ellipse cx="523.4" cy="31.9" rx="2.2" ry="1.5" fill="#9cb452" stroke="#6c7434" stroke-width="0.25" transform="rotate(123 523.4 31.9)"/><ellipse cx="541.1" cy="36.3" rx="1.8" ry="1.3" fill="#a4c05a" stroke="#6c7434" stroke-width="0.25" transform="rotate(157 541.1 36.3)"/><ellipse cx="542.2" cy="46.7" rx="2.2" ry="1.2" fill="#6a5a2a" stroke="#6c7434" stroke-width="0.25" transform="rotate(178 542.2 46.7)"/><ellipse cx="531.9" cy="87.9" rx="1.2" ry="1.2" fill="#8eaa48" stroke="#6c7434" stroke-width="0.25" transform="rotate(169 531.9 87.9)"/><ellipse cx="548.5" cy="76.3" rx="1.1" ry="1.3" fill="#a4c05a" stroke="#6c7434" stroke-width="0.25" transform="rotate(12 548.5 76.3)"/><ellipse cx="555.3" cy="35.1" rx="1.6" ry="1.2" fill="#9cb452" stroke="#6c7434" stroke-width="0.25" transform="rotate(61 555.3 35.1)"/><ellipse cx="549.5" cy="38.3" rx="1.4" ry="0.9" fill="#d2dc92" stroke="#6c7434" stroke-width="0.25" transform="rotate(160 549.5 38.3)"/><ellipse cx="521.5" cy="109.8" rx="2.0" ry="1.4" fill="#b6cc6a" stroke="#6c7434" stroke-width="0.25" transform="rotate(10 521.5 109.8)"/><ellipse cx="559.5" cy="97.5" rx="2.1" ry="1.3" fill="#8eaa48" stroke="#6c7434" stroke-width="0.25" transform="rotate(133 559.5 97.5)"/><ellipse cx="560.8" cy="47.9" rx="1.2" ry="0.7" fill="#7c963c" stroke="#6c7434" stroke-width="0.25" transform="rotate(123 560.8 47.9)"/><ellipse cx="546.2" cy="55.9" rx="2.2" ry="0.9" fill="#5c6a2c" stroke="#6c7434" stroke-width="0.25" transform="rotate(129 546.2 55.9)"/><ellipse cx="548.5" cy="41.8" rx="1.3" ry="0.8" fill="#8eaa48" stroke="#6c7434" stroke-width="0.25" transform="rotate(45 548.5 41.8)"/><ellipse cx="523.8" cy="113.6" rx="2.0" ry="1.6" fill="#9cb452" stroke="#6c7434" stroke-width="0.25" transform="rotate(121 523.8 113.6)"/><ellipse cx="533.7" cy="81.5" rx="1.2" ry="0.9" fill="#c6d680" stroke="#6c7434" stroke-width="0.25" transform="rotate(21 533.7 81.5)"/><ellipse cx="514.8" cy="70.5" rx="1.7" ry="1.4" fill="#a4c05a" stroke="#6c7434" stroke-width="0.25" transform="rotate(102 514.8 70.5)"/><ellipse cx="536.8" cy="68.6" rx="1.1" ry="1.2" fill="#a4c05a" stroke="#6c7434" stroke-width="0.25" transform="rotate(173 536.8 68.6)"/><ellipse cx="515.5" cy="66.5" rx="2.2" ry="1.3" fill="#7c963c" stroke="#6c7434" stroke-width="0.25" transform="rotate(134 515.5 66.5)"/><ellipse cx="529.8" cy="117.4" rx="1.5" ry="0.8" fill="#d2dc92" stroke="#6c7434" stroke-width="0.25" transform="rotate(50 529.8 117.4)"/><ellipse cx="571.9" cy="55.6" rx="1.1" ry="0.7" fill="#d2dc92" stroke="#6c7434" stroke-width="0.25" transform="rotate(152 571.9 55.6)"/><ellipse cx="548.6" cy="36.7" rx="1.3" ry="1.1" fill="#b6cc6a" stroke="#6c7434" stroke-width="0.25" transform="rotate(79 548.6 36.7)"/><ellipse cx="552.5" cy="29.0" rx="1.2" ry="1.2" fill="#a4c05a" stroke="#6c7434" stroke-width="0.25" transform="rotate(68 552.5 29.0)"/><ellipse cx="531.0" cy="101.4" rx="1.1" ry="0.7" fill="#d2dc92" stroke="#6c7434" stroke-width="0.25" transform="rotate(55 531.0 101.4)"/><ellipse cx="564.7" cy="114.5" rx="1.4" ry="1.0" fill="#a4c05a" stroke="#6c7434" stroke-width="0.25" transform="rotate(120 564.7 114.5)"/><ellipse cx="531.4" cy="96.5" rx="1.5" ry="1.3" fill="#b6cc6a" stroke="#6c7434" stroke-width="0.25" transform="rotate(163 531.4 96.5)"/><ellipse cx="521.6" cy="45.1" rx="1.3" ry="1.6" fill="#9cb452" stroke="#6c7434" stroke-width="0.25" transform="rotate(18 521.6 45.1)"/><ellipse cx="532.3" cy="114.6" rx="2.1" ry="0.8" fill="#9cb452" stroke="#6c7434" stroke-width="0.25" transform="rotate(176 532.3 114.6)"/><ellipse cx="534.0" cy="93.5" rx="1.8" ry="1.3" fill="#d2dc92" stroke="#6c7434" stroke-width="0.25" transform="rotate(104 534.0 93.5)"/><ellipse cx="519.2" cy="68.4" rx="1.4" ry="1.2" fill="#8eaa48" stroke="#6c7434" stroke-width="0.25" transform="rotate(47 519.2 68.4)"/><ellipse cx="546.3" cy="24.5" rx="2.1" ry="0.8" fill="#c6d680" stroke="#6c7434" stroke-width="0.25" transform="rotate(113 546.3 24.5)"/><ellipse cx="531.9" cy="41.5" rx="1.9" ry="1.5" fill="#a4c05a" stroke="#6c7434" stroke-width="0.25" transform="rotate(5 531.9 41.5)"/><ellipse cx="530.0" cy="94.7" rx="1.3" ry="1.5" fill="#d2dc92" stroke="#6c7434" stroke-width="0.25" transform="rotate(36 530.0 94.7)"/><ellipse cx="549.8" cy="99.7" rx="1.2" ry="1.3" fill="#9cb452" stroke="#6c7434" stroke-width="0.25" transform="rotate(113 549.8 99.7)"/><ellipse cx="552.3" cy="16.2" rx="2.0" ry="0.9" fill="#9cb452" stroke="#6c7434" stroke-width="0.25" transform="rotate(87 552.3 16.2)"/><ellipse cx="538.0" cy="67.3" rx="1.9" ry="0.9" fill="#a4c05a" stroke="#6c7434" stroke-width="0.25" transform="rotate(101 538.0 67.3)"/><ellipse cx="525.6" cy="100.7" rx="1.6" ry="1.3" fill="#7c963c" stroke="#6c7434" stroke-width="0.25" transform="rotate(27 525.6 100.7)"/><ellipse cx="556.2" cy="60.7" rx="2.2" ry="1.2" fill="#9cb452" stroke="#6c7434" stroke-width="0.25" transform="rotate(35 556.2 60.7)"/><ellipse cx="567.6" cy="93.5" rx="1.8" ry="1.5" fill="#b6cc6a" stroke="#6c7434" stroke-width="0.25" transform="rotate(67 567.6 93.5)"/><ellipse cx="539.0" cy="20.6" rx="1.8" ry="1.5" fill="#c6d680" stroke="#6c7434" stroke-width="0.25" transform="rotate(29 539.0 20.6)"/><ellipse cx="567.6" cy="51.1" rx="1.2" ry="1.3" fill="#8eaa48" stroke="#6c7434" stroke-width="0.25" transform="rotate(131 567.6 51.1)"/><ellipse cx="545.4" cy="80.8" rx="2.2" ry="1.3" fill="#c6d680" stroke="#6c7434" stroke-width="0.25" transform="rotate(175 545.4 80.8)"/><ellipse cx="536.4" cy="43.8" rx="1.6" ry="0.9" fill="#7c963c" stroke="#6c7434" stroke-width="0.25" transform="rotate(79 536.4 43.8)"/><ellipse cx="521.6" cy="83.2" rx="1.7" ry="1.2" fill="#a4c05a" stroke="#6c7434" stroke-width="0.25" transform="rotate(11 521.6 83.2)"/><ellipse cx="529.5" cy="53.7" rx="1.1" ry="1.6" fill="#b6cc6a" stroke="#6c7434" stroke-width="0.25" transform="rotate(131 529.5 53.7)"/><ellipse cx="537.4" cy="71.2" rx="2.1" ry="1.1" fill="#8eaa48" stroke="#6c7434" stroke-width="0.25" transform="rotate(166 537.4 71.2)"/><ellipse cx="555.9" cy="114.8" rx="1.1" ry="0.8" fill="#9cb452" stroke="#6c7434" stroke-width="0.25" transform="rotate(126 555.9 114.8)"/><ellipse cx="546.6" cy="20.3" rx="1.3" ry="0.8" fill="#c6d680" stroke="#6c7434" stroke-width="0.25" transform="rotate(117 546.6 20.3)"/><ellipse cx="530.2" cy="119.0" rx="1.3" ry="0.7" fill="#8eaa48" stroke="#6c7434" stroke-width="0.25" transform="rotate(159 530.2 119.0)"/><ellipse cx="560.2" cy="78.8" rx="1.2" ry="1.0" fill="#b6cc6a" stroke="#6c7434" stroke-width="0.25" transform="rotate(33 560.2 78.8)"/><ellipse cx="557.8" cy="61.1" rx="1.1" ry="1.2" fill="#c6d680" stroke="#6c7434" stroke-width="0.25" transform="rotate(176 557.8 61.1)"/><ellipse cx="538.5" cy="120.6" rx="2.1" ry="0.9" fill="#d2dc92" stroke="#6c7434" stroke-width="0.25" transform="rotate(8 538.5 120.6)"/><ellipse cx="514.6" cy="69.8" rx="1.4" ry="1.1" fill="#b6cc6a" stroke="#6c7434" stroke-width="0.25" transform="rotate(139 514.6 69.8)"/><ellipse cx="534.4" cy="27.7" rx="1.6" ry="0.9" fill="#8eaa48" stroke="#6c7434" stroke-width="0.25" transform="rotate(11 534.4 27.7)"/><ellipse cx="520.4" cy="77.0" rx="1.4" ry="0.9" fill="#c6d680" stroke="#6c7434" stroke-width="0.25" transform="rotate(134 520.4 77.0)"/><ellipse cx="555.3" cy="116.6" rx="2.3" ry="0.9" fill="#a4c05a" stroke="#6c7434" stroke-width="0.25" transform="rotate(11 555.3 116.6)"/><ellipse cx="540.7" cy="88.6" rx="1.5" ry="1.0" fill="#d2dc92" stroke="#6c7434" stroke-width="0.25" transform="rotate(32 540.7 88.6)"/><ellipse cx="549.7" cy="24.1" rx="2.0" ry="1.2" fill="#7c963c" stroke="#6c7434" stroke-width="0.25" transform="rotate(110 549.7 24.1)"/><ellipse cx="568.1" cy="107.2" rx="2.1" ry="1.1" fill="#c6d680" stroke="#6c7434" stroke-width="0.25" transform="rotate(43 568.1 107.2)"/><ellipse cx="538.2" cy="78.1" rx="1.4" ry="1.3" fill="#c6d680" stroke="#6c7434" stroke-width="0.25" transform="rotate(28 538.2 78.1)"/><ellipse cx="531.7" cy="88.3" rx="1.4" ry="1.0" fill="#7c963c" stroke="#6c7434" stroke-width="0.25" transform="rotate(18 531.7 88.3)"/><ellipse cx="548.5" cy="87.5" rx="2.0" ry="1.6" fill="#9cb452" stroke="#6c7434" stroke-width="0.25" transform="rotate(96 548.5 87.5)"/><ellipse cx="538.8" cy="33.2" rx="1.4" ry="1.1" fill="#9cb452" stroke="#6c7434" stroke-width="0.25" transform="rotate(50 538.8 33.2)"/><ellipse cx="539.3" cy="34.2" rx="1.8" ry="1.4" fill="#b6cc6a" stroke="#6c7434" stroke-width="0.25" transform="rotate(89 539.3 34.2)"/><ellipse cx="565.0" cy="83.4" rx="1.0" ry="1.1" fill="#c6d680" stroke="#6c7434" stroke-width="0.25" transform="rotate(108 565.0 83.4)"/><ellipse cx="526.1" cy="72.5" rx="1.6" ry="0.9" fill="#d2dc92" stroke="#6c7434" stroke-width="0.25" transform="rotate(24 526.1 72.5)"/><ellipse cx="547.1" cy="23.7" rx="2.1" ry="0.8" fill="#b6cc6a" stroke="#6c7434" stroke-width="0.25" transform="rotate(100 547.1 23.7)"/><ellipse cx="541.3" cy="30.3" rx="1.9" ry="1.0" fill="#c6d680" stroke="#6c7434" stroke-width="0.25" transform="rotate(57 541.3 30.3)"/><ellipse cx="562.2" cy="88.7" rx="1.7" ry="1.4" fill="#a4c05a" stroke="#6c7434" stroke-width="0.25" transform="rotate(120 562.2 88.7)"/><ellipse cx="542.6" cy="116.9" rx="2.1" ry="1.4" fill="#d2dc92" stroke="#6c7434" stroke-width="0.25" transform="rotate(161 542.6 116.9)"/><ellipse cx="546.7" cy="106.6" rx="2.2" ry="0.8" fill="#b6cc6a" stroke="#6c7434" stroke-width="0.25" transform="rotate(26 546.7 106.6)"/><ellipse cx="547.1" cy="86.6" rx="1.9" ry="0.8" fill="#8eaa48" stroke="#6c7434" stroke-width="0.25" transform="rotate(60 547.1 86.6)"/><ellipse cx="563.0" cy="81.9" rx="1.9" ry="1.1" fill="#a4c05a" stroke="#6c7434" stroke-width="0.25" transform="rotate(94 563.0 81.9)"/><ellipse cx="544.9" cy="82.5" rx="1.8" ry="1.2" fill="#a4c05a" stroke="#6c7434" stroke-width="0.25" transform="rotate(88 544.9 82.5)"/><ellipse cx="568.5" cy="55.5" rx="1.2" ry="1.4" fill="#a4c05a" stroke="#6c7434" stroke-width="0.25" transform="rotate(176 568.5 55.5)"/><ellipse cx="557.6" cy="117.1" rx="1.7" ry="1.2" fill="#8eaa48" stroke="#6c7434" stroke-width="0.25" transform="rotate(116 557.6 117.1)"/><ellipse cx="574.6" cy="67.2" rx="1.2" ry="1.0" fill="#9cb452" stroke="#6c7434" stroke-width="0.25" transform="rotate(43 574.6 67.2)"/><ellipse cx="569.4" cy="75.2" rx="1.5" ry="1.6" fill="#7c963c" stroke="#6c7434" stroke-width="0.25" transform="rotate(5 569.4 75.2)"/><ellipse cx="530.4" cy="64.9" rx="2.0" ry="1.3" fill="#d2dc92" stroke="#6c7434" stroke-width="0.25" transform="rotate(59 530.4 64.9)"/><ellipse cx="543.1" cy="78.3" rx="2.3" ry="1.2" fill="#9cb452" stroke="#6c7434" stroke-width="0.25" transform="rotate(161 543.1 78.3)"/><ellipse cx="530.2" cy="46.9" rx="1.2" ry="1.2" fill="#8eaa48" stroke="#6c7434" stroke-width="0.25" transform="rotate(151 530.2 46.9)"/><ellipse cx="527.6" cy="31.0" rx="1.5" ry="1.1" fill="#6a5a2a" stroke="#6c7434" stroke-width="0.25" transform="rotate(138 527.6 31.0)"/><ellipse cx="516.4" cy="55.3" rx="1.7" ry="0.8" fill="#b6cc6a" stroke="#6c7434" stroke-width="0.25" transform="rotate(151 516.4 55.3)"/><ellipse cx="537.1" cy="52.4" rx="1.7" ry="1.4" fill="#7c963c" stroke="#6c7434" stroke-width="0.25" transform="rotate(47 537.1 52.4)"/><ellipse cx="528.1" cy="74.4" rx="1.1" ry="1.5" fill="#a4c05a" stroke="#6c7434" stroke-width="0.25" transform="rotate(59 528.1 74.4)"/><ellipse cx="509.9" cy="45.8" rx="1.6" ry="1.5" fill="#a4c05a" stroke="#6c7434" stroke-width="0.25" transform="rotate(123 509.9 45.8)"/><ellipse cx="507.2" cy="59.9" rx="2.1" ry="0.7" fill="#c6d680" stroke="#6c7434" stroke-width="0.25" transform="rotate(53 507.2 59.9)"/><ellipse cx="566.1" cy="57.8" rx="1.1" ry="1.5" fill="#8eaa48" stroke="#6c7434" stroke-width="0.25" transform="rotate(75 566.1 57.8)"/><ellipse cx="520.1" cy="99.4" rx="1.5" ry="0.9" fill="#b6cc6a" stroke="#6c7434" stroke-width="0.25" transform="rotate(11 520.1 99.4)"/><ellipse cx="525.2" cy="41.8" rx="1.4" ry="1.5" fill="#c6d680" stroke="#6c7434" stroke-width="0.25" transform="rotate(97 525.2 41.8)"/><ellipse cx="527.5" cy="69.4" rx="1.5" ry="0.9" fill="#c6d680" stroke="#6c7434" stroke-width="0.25" transform="rotate(9 527.5 69.4)"/><ellipse cx="519.5" cy="108.5" rx="1.8" ry="1.4" fill="#b6cc6a" stroke="#6c7434" stroke-width="0.25" transform="rotate(5 519.5 108.5)"/><ellipse cx="536.4" cy="73.7" rx="1.0" ry="0.8" fill="#d2dc92" stroke="#6c7434" stroke-width="0.25" transform="rotate(141 536.4 73.7)"/><ellipse cx="553.6" cy="20.1" rx="1.5" ry="0.9" fill="#7c963c" stroke="#6c7434" stroke-width="0.25" transform="rotate(70 553.6 20.1)"/><ellipse cx="557.2" cy="106.5" rx="1.2" ry="1.0" fill="#d2dc92" stroke="#6c7434" stroke-width="0.25" transform="rotate(172 557.2 106.5)"/><ellipse cx="568.6" cy="72.5" rx="2.4" ry="1.5" fill="#7c963c" stroke="#6c7434" stroke-width="0.25" transform="rotate(150 568.6 72.5)"/><ellipse cx="550.5" cy="82.8" rx="2.3" ry="0.7" fill="#8eaa48" stroke="#6c7434" stroke-width="0.25" transform="rotate(86 550.5 82.8)"/><ellipse cx="573.5" cy="103.0" rx="1.2" ry="1.3" fill="#8eaa48" stroke="#6c7434" stroke-width="0.25" transform="rotate(148 573.5 103.0)"/><ellipse cx="560.1" cy="117.9" rx="2.1" ry="0.9" fill="#9cb452" stroke="#6c7434" stroke-width="0.25" transform="rotate(15 560.1 117.9)"/><ellipse cx="576.3" cy="81.6" rx="2.0" ry="0.8" fill="#a4c05a" stroke="#6c7434" stroke-width="0.25" transform="rotate(80 576.3 81.6)"/><ellipse cx="510.2" cy="63.7" rx="1.4" ry="1.3" fill="#c6d680" stroke="#6c7434" stroke-width="0.25" transform="rotate(20 510.2 63.7)"/><ellipse cx="531.5" cy="72.4" rx="1.7" ry="0.8" fill="#b6cc6a" stroke="#6c7434" stroke-width="0.25" transform="rotate(56 531.5 72.4)"/><ellipse cx="520.0" cy="65.5" rx="1.9" ry="1.2" fill="#c6d680" stroke="#6c7434" stroke-width="0.25" transform="rotate(63 520.0 65.5)"/><ellipse cx="559.9" cy="113.1" rx="1.1" ry="0.9" fill="#7c963c" stroke="#6c7434" stroke-width="0.25" transform="rotate(44 559.9 113.1)"/><ellipse cx="544.9" cy="63.6" rx="1.4" ry="1.5" fill="#8a6030" stroke="#6c7434" stroke-width="0.25" transform="rotate(104 544.9 63.6)"/><ellipse cx="562.9" cy="71.7" rx="1.4" ry="1.2" fill="#c6d680" stroke="#6c7434" stroke-width="0.25" transform="rotate(119 562.9 71.7)"/><ellipse cx="557.5" cy="59.3" rx="1.9" ry="1.0" fill="#9cb452" stroke="#6c7434" stroke-width="0.25" transform="rotate(122 557.5 59.3)"/><ellipse cx="504.8" cy="57.2" rx="1.7" ry="1.4" fill="#d2dc92" stroke="#6c7434" stroke-width="0.25" transform="rotate(9 504.8 57.2)"/><ellipse cx="555.4" cy="91.1" rx="2.0" ry="1.0" fill="#b6cc6a" stroke="#6c7434" stroke-width="0.25" transform="rotate(115 555.4 91.1)"/><ellipse cx="562.4" cy="55.3" rx="2.0" ry="1.1" fill="#a4c05a" stroke="#6c7434" stroke-width="0.25" transform="rotate(170 562.4 55.3)"/><ellipse cx="537.0" cy="93.1" rx="1.8" ry="0.8" fill="#8eaa48" stroke="#6c7434" stroke-width="0.25" transform="rotate(1 537.0 93.1)"/><ellipse cx="567.3" cy="81.9" rx="1.2" ry="1.4" fill="#9cb452" stroke="#6c7434" stroke-width="0.25" transform="rotate(121 567.3 81.9)"/><ellipse cx="549.9" cy="99.5" rx="1.9" ry="1.0" fill="#b6cc6a" stroke="#6c7434" stroke-width="0.25" transform="rotate(61 549.9 99.5)"/><ellipse cx="569.7" cy="76.7" rx="1.1" ry="1.1" fill="#b6cc6a" stroke="#6c7434" stroke-width="0.25" transform="rotate(87 569.7 76.7)"/><ellipse cx="552.4" cy="115.9" rx="1.9" ry="1.0" fill="#d2dc92" stroke="#6c7434" stroke-width="0.25" transform="rotate(1 552.4 115.9)"/><ellipse cx="540.3" cy="68.6" rx="1.3" ry="0.7" fill="#5c6a2c" stroke="#6c7434" stroke-width="0.25" transform="rotate(108 540.3 68.6)"/><ellipse cx="558.1" cy="77.3" rx="2.3" ry="0.8" fill="#c6d680" stroke="#6c7434" stroke-width="0.25" transform="rotate(103 558.1 77.3)"/><ellipse cx="522.5" cy="94.3" rx="1.1" ry="1.0" fill="#b6cc6a" stroke="#6c7434" stroke-width="0.25" transform="rotate(71 522.5 94.3)"/><ellipse cx="551.0" cy="93.5" rx="1.8" ry="1.0" fill="#d2dc92" stroke="#6c7434" stroke-width="0.25" transform="rotate(58 551.0 93.5)"/><ellipse cx="523.9" cy="69.1" rx="1.7" ry="0.9" fill="#b6cc6a" stroke="#6c7434" stroke-width="0.25" transform="rotate(96 523.9 69.1)"/><ellipse cx="533.5" cy="119.7" rx="2.3" ry="1.4" fill="#d2dc92" stroke="#6c7434" stroke-width="0.25" transform="rotate(145 533.5 119.7)"/><ellipse cx="510.9" cy="46.8" rx="1.5" ry="1.0" fill="#b6cc6a" stroke="#6c7434" stroke-width="0.25" transform="rotate(45 510.9 46.8)"/><ellipse cx="546.5" cy="86.0" rx="1.8" ry="0.8" fill="#d2dc92" stroke="#6c7434" stroke-width="0.25" transform="rotate(174 546.5 86.0)"/><ellipse cx="536.1" cy="110.8" rx="2.0" ry="0.7" fill="#a4c05a" stroke="#6c7434" stroke-width="0.25" transform="rotate(17 536.1 110.8)"/><ellipse cx="524.8" cy="83.9" rx="1.4" ry="1.3" fill="#a4c05a" stroke="#6c7434" stroke-width="0.25" transform="rotate(163 524.8 83.9)"/><ellipse cx="520.8" cy="111.0" rx="1.1" ry="1.2" fill="#b6cc6a" stroke="#6c7434" stroke-width="0.25" transform="rotate(14 520.8 111.0)"/><ellipse cx="542.0" cy="94.1" rx="1.3" ry="1.3" fill="#7c963c" stroke="#6c7434" stroke-width="0.25" transform="rotate(105 542.0 94.1)"/><ellipse cx="540.7" cy="63.8" rx="1.0" ry="1.3" fill="#d2dc92" stroke="#6c7434" stroke-width="0.25" transform="rotate(7 540.7 63.8)"/><ellipse cx="514.5" cy="59.8" rx="2.0" ry="1.5" fill="#d2dc92" stroke="#6c7434" stroke-width="0.25" transform="rotate(23 514.5 59.8)"/><ellipse cx="543.1" cy="42.5" rx="1.4" ry="1.5" fill="#7c963c" stroke="#6c7434" stroke-width="0.25" transform="rotate(63 543.1 42.5)"/><ellipse cx="532.5" cy="33.6" rx="2.3" ry="0.8" fill="#7c963c" stroke="#6c7434" stroke-width="0.25" transform="rotate(16 532.5 33.6)"/><ellipse cx="548.3" cy="15.8" rx="1.2" ry="0.7" fill="#d2dc92" stroke="#6c7434" stroke-width="0.25" transform="rotate(110 548.3 15.8)"/><ellipse cx="533.9" cy="76.5" rx="2.2" ry="1.0" fill="#8eaa48" stroke="#6c7434" stroke-width="0.25" transform="rotate(34 533.9 76.5)"/><ellipse cx="550.0" cy="117.3" rx="1.1" ry="1.3" fill="#7c963c" stroke="#6c7434" stroke-width="0.25" transform="rotate(42 550.0 117.3)"/><ellipse cx="524.2" cy="70.9" rx="1.7" ry="0.8" fill="#8eaa48" stroke="#6c7434" stroke-width="0.25" transform="rotate(39 524.2 70.9)"/><ellipse cx="504.2" cy="54.1" rx="2.3" ry="0.8" fill="#b6cc6a" stroke="#6c7434" stroke-width="0.25" transform="rotate(53 504.2 54.1)"/><ellipse cx="518.5" cy="52.9" rx="1.4" ry="0.8" fill="#9cb452" stroke="#6c7434" stroke-width="0.25" transform="rotate(18 518.5 52.9)"/><ellipse cx="521.5" cy="110.8" rx="1.3" ry="1.1" fill="#b6cc6a" stroke="#6c7434" stroke-width="0.25" transform="rotate(143 521.5 110.8)"/><ellipse cx="544.7" cy="55.0" rx="1.3" ry="1.1" fill="#8eaa48" stroke="#6c7434" stroke-width="0.25" transform="rotate(26 544.7 55.0)"/><ellipse cx="539.5" cy="43.2" rx="1.8" ry="0.8" fill="#b6cc6a" stroke="#6c7434" stroke-width="0.25" transform="rotate(125 539.5 43.2)"/><ellipse cx="543.4" cy="14.4" rx="1.9" ry="1.1" fill="#a4c05a" stroke="#6c7434" stroke-width="0.25" transform="rotate(130 543.4 14.4)"/><ellipse cx="549.7" cy="67.6" rx="1.2" ry="1.3" fill="#a4c05a" stroke="#6c7434" stroke-width="0.25" transform="rotate(25 549.7 67.6)"/><ellipse cx="549.0" cy="81.2" rx="1.6" ry="1.1" fill="#9cb452" stroke="#6c7434" stroke-width="0.25" transform="rotate(94 549.0 81.2)"/><ellipse cx="571.1" cy="93.2" rx="2.1" ry="1.1" fill="#7c963c" stroke="#6c7434" stroke-width="0.25" transform="rotate(164 571.1 93.2)"/><ellipse cx="540.4" cy="99.2" rx="2.2" ry="1.0" fill="#8eaa48" stroke="#6c7434" stroke-width="0.25" transform="rotate(36 540.4 99.2)"/><ellipse cx="562.7" cy="67.2" rx="2.4" ry="1.0" fill="#7c963c" stroke="#6c7434" stroke-width="0.25" transform="rotate(78 562.7 67.2)"/><ellipse cx="515.8" cy="104.1" rx="2.2" ry="1.0" fill="#9cb452" stroke="#6c7434" stroke-width="0.25" transform="rotate(99 515.8 104.1)"/><ellipse cx="572.8" cy="79.3" rx="1.9" ry="1.2" fill="#c6d680" stroke="#6c7434" stroke-width="0.25" transform="rotate(96 572.8 79.3)"/><ellipse cx="537.8" cy="18.0" rx="1.6" ry="1.4" fill="#7c963c" stroke="#6c7434" stroke-width="0.25" transform="rotate(133 537.8 18.0)"/><ellipse cx="531.0" cy="71.1" rx="2.1" ry="1.6" fill="#d2dc92" stroke="#6c7434" stroke-width="0.25" transform="rotate(22 531.0 71.1)"/><ellipse cx="533.5" cy="26.1" rx="1.6" ry="0.8" fill="#b6cc6a" stroke="#6c7434" stroke-width="0.25" transform="rotate(22 533.5 26.1)"/><ellipse cx="553.6" cy="21.6" rx="1.1" ry="0.8" fill="#8eaa48" stroke="#6c7434" stroke-width="0.25" transform="rotate(13 553.6 21.6)"/><ellipse cx="545.4" cy="28.0" rx="1.4" ry="1.5" fill="#9cb452" stroke="#6c7434" stroke-width="0.25" transform="rotate(105 545.4 28.0)"/><ellipse cx="546.8" cy="76.1" rx="1.0" ry="1.0" fill="#a4c05a" stroke="#6c7434" stroke-width="0.25" transform="rotate(17 546.8 76.1)"/><ellipse cx="548.5" cy="40.4" rx="1.1" ry="1.2" fill="#d2dc92" stroke="#6c7434" stroke-width="0.25" transform="rotate(74 548.5 40.4)"/><ellipse cx="547.3" cy="38.8" rx="1.9" ry="1.5" fill="#c6d680" stroke="#6c7434" stroke-width="0.25" transform="rotate(134 547.3 38.8)"/><ellipse cx="559.7" cy="78.2" rx="1.4" ry="0.9" fill="#7c963c" stroke="#6c7434" stroke-width="0.25" transform="rotate(134 559.7 78.2)"/><ellipse cx="555.6" cy="119.5" rx="1.5" ry="1.6" fill="#6a5a2a" stroke="#6c7434" stroke-width="0.25" transform="rotate(105 555.6 119.5)"/><ellipse cx="567.9" cy="112.3" rx="2.4" ry="1.2" fill="#d2dc92" stroke="#6c7434" stroke-width="0.25" transform="rotate(168 567.9 112.3)"/><ellipse cx="519.0" cy="85.1" rx="1.1" ry="1.2" fill="#9cb452" stroke="#6c7434" stroke-width="0.25" transform="rotate(51 519.0 85.1)"/><ellipse cx="532.2" cy="28.8" rx="2.2" ry="1.3" fill="#4a3e22" stroke="#6c7434" stroke-width="0.25" transform="rotate(44 532.2 28.8)"/><ellipse cx="569.4" cy="76.4" rx="1.7" ry="1.2" fill="#9cb452" stroke="#6c7434" stroke-width="0.25" transform="rotate(100 569.4 76.4)"/><ellipse cx="548.9" cy="44.6" rx="1.8" ry="1.0" fill="#b6cc6a" stroke="#6c7434" stroke-width="0.25" transform="rotate(19 548.9 44.6)"/><ellipse cx="547.1" cy="72.8" rx="1.6" ry="0.9" fill="#4a3e22" stroke="#6c7434" stroke-width="0.25" transform="rotate(142 547.1 72.8)"/><ellipse cx="556.0" cy="111.3" rx="1.0" ry="1.3" fill="#9cb452" stroke="#6c7434" stroke-width="0.25" transform="rotate(32 556.0 111.3)"/><ellipse cx="514.1" cy="88.3" rx="1.8" ry="1.3" fill="#c6d680" stroke="#6c7434" stroke-width="0.25" transform="rotate(86 514.1 88.3)"/><ellipse cx="541.5" cy="73.6" rx="1.7" ry="0.9" fill="#c6d680" stroke="#6c7434" stroke-width="0.25" transform="rotate(18 541.5 73.6)"/><ellipse cx="550.5" cy="76.6" rx="2.1" ry="1.0" fill="#9cb452" stroke="#6c7434" stroke-width="0.25" transform="rotate(67 550.5 76.6)"/><ellipse cx="573.1" cy="76.6" rx="1.5" ry="0.8" fill="#d2dc92" stroke="#6c7434" stroke-width="0.25" transform="rotate(91 573.1 76.6)"/><ellipse cx="558.9" cy="85.0" rx="2.1" ry="1.1" fill="#d2dc92" stroke="#6c7434" stroke-width="0.25" transform="rotate(134 558.9 85.0)"/><ellipse cx="568.7" cy="92.0" rx="1.5" ry="1.5" fill="#7c963c" stroke="#6c7434" stroke-width="0.25" transform="rotate(48 568.7 92.0)"/><ellipse cx="555.3" cy="96.0" rx="1.6" ry="1.6" fill="#a4c05a" stroke="#6c7434" stroke-width="0.25" transform="rotate(87 555.3 96.0)"/><ellipse cx="532.1" cy="85.5" rx="1.4" ry="0.7" fill="#7c963c" stroke="#6c7434" stroke-width="0.25" transform="rotate(28 532.1 85.5)"/><ellipse cx="574.5" cy="64.0" rx="1.9" ry="1.1" fill="#c6d680" stroke="#6c7434" stroke-width="0.25" transform="rotate(29 574.5 64.0)"/><ellipse cx="530.3" cy="43.7" rx="2.1" ry="1.3" fill="#7c963c" stroke="#6c7434" stroke-width="0.25" transform="rotate(177 530.3 43.7)"/><ellipse cx="545.3" cy="107.0" rx="1.8" ry="1.0" fill="#d2dc92" stroke="#6c7434" stroke-width="0.25" transform="rotate(172 545.3 107.0)"/><ellipse cx="556.0" cy="50.6" rx="1.7" ry="1.2" fill="#a4c05a" stroke="#6c7434" stroke-width="0.25" transform="rotate(165 556.0 50.6)"/><ellipse cx="540.0" cy="44.0" rx="1.2" ry="0.9" fill="#d2dc92" stroke="#6c7434" stroke-width="0.25" transform="rotate(79 540.0 44.0)"/><ellipse cx="572.8" cy="66.3" rx="1.9" ry="1.3" fill="#a4c05a" stroke="#6c7434" stroke-width="0.25" transform="rotate(168 572.8 66.3)"/><ellipse cx="544.8" cy="49.9" rx="1.4" ry="1.3" fill="#c6d680" stroke="#6c7434" stroke-width="0.25" transform="rotate(79 544.8 49.9)"/><ellipse cx="549.8" cy="85.8" rx="1.5" ry="1.6" fill="#8eaa48" stroke="#6c7434" stroke-width="0.25" transform="rotate(71 549.8 85.8)"/><ellipse cx="547.4" cy="73.4" rx="1.8" ry="1.2" fill="#b6cc6a" stroke="#6c7434" stroke-width="0.25" transform="rotate(171 547.4 73.4)"/><ellipse cx="543.2" cy="117.2" rx="2.3" ry="1.6" fill="#8eaa48" stroke="#6c7434" stroke-width="0.25" transform="rotate(142 543.2 117.2)"/><ellipse cx="508.6" cy="65.7" rx="2.3" ry="1.0" fill="#8eaa48" stroke="#6c7434" stroke-width="0.25" transform="rotate(123 508.6 65.7)"/><ellipse cx="525.8" cy="69.4" rx="2.4" ry="1.3" fill="#d2dc92" stroke="#6c7434" stroke-width="0.25" transform="rotate(154 525.8 69.4)"/><ellipse cx="549.1" cy="67.4" rx="1.5" ry="1.3" fill="#8eaa48" stroke="#6c7434" stroke-width="0.25" transform="rotate(75 549.1 67.4)"/><ellipse cx="539.6" cy="33.0" rx="1.7" ry="1.4" fill="#d2dc92" stroke="#6c7434" stroke-width="0.25" transform="rotate(49 539.6 33.0)"/><ellipse cx="504.5" cy="49.4" rx="1.6" ry="0.8" fill="#d2dc92" stroke="#6c7434" stroke-width="0.25" transform="rotate(2 504.5 49.4)"/><ellipse cx="539.5" cy="32.5" rx="1.9" ry="0.9" fill="#b6cc6a" stroke="#6c7434" stroke-width="0.25" transform="rotate(134 539.5 32.5)"/><ellipse cx="573.2" cy="107.4" rx="1.8" ry="1.0" fill="#7c963c" stroke="#6c7434" stroke-width="0.25" transform="rotate(83 573.2 107.4)"/><ellipse cx="536.5" cy="75.3" rx="2.0" ry="1.5" fill="#a4c05a" stroke="#6c7434" stroke-width="0.25" transform="rotate(141 536.5 75.3)"/><ellipse cx="518.3" cy="86.0" rx="1.4" ry="0.7" fill="#7c963c" stroke="#6c7434" stroke-width="0.25" transform="rotate(67 518.3 86.0)"/><ellipse cx="560.1" cy="92.8" rx="1.4" ry="0.7" fill="#c6d680" stroke="#6c7434" stroke-width="0.25" transform="rotate(177 560.1 92.8)"/><ellipse cx="575.6" cy="94.0" rx="1.4" ry="1.2" fill="#8eaa48" stroke="#6c7434" stroke-width="0.25" transform="rotate(64 575.6 94.0)"/><ellipse cx="518.0" cy="52.3" rx="2.1" ry="1.0" fill="#8eaa48" stroke="#6c7434" stroke-width="0.25" transform="rotate(149 518.0 52.3)"/><ellipse cx="533.1" cy="39.0" rx="1.8" ry="1.1" fill="#7c963c" stroke="#6c7434" stroke-width="0.25" transform="rotate(123 533.1 39.0)"/><ellipse cx="530.2" cy="97.3" rx="1.7" ry="1.2" fill="#8eaa48" stroke="#6c7434" stroke-width="0.25" transform="rotate(136 530.2 97.3)"/><ellipse cx="551.6" cy="22.8" rx="1.3" ry="0.8" fill="#d2dc92" stroke="#6c7434" stroke-width="0.25" transform="rotate(4 551.6 22.8)"/><ellipse cx="519.1" cy="105.3" rx="2.1" ry="0.9" fill="#7c963c" stroke="#6c7434" stroke-width="0.25" transform="rotate(91 519.1 105.3)"/><ellipse cx="546.7" cy="31.2" rx="1.7" ry="0.9" fill="#c6d680" stroke="#6c7434" stroke-width="0.25" transform="rotate(139 546.7 31.2)"/><ellipse cx="543.0" cy="82.5" rx="1.6" ry="1.3" fill="#9cb452" stroke="#6c7434" stroke-width="0.25" transform="rotate(102 543.0 82.5)"/><ellipse cx="539.2" cy="65.7" rx="2.2" ry="1.0" fill="#b6cc6a" stroke="#6c7434" stroke-width="0.25" transform="rotate(36 539.2 65.7)"/><ellipse cx="567.9" cy="104.5" rx="2.0" ry="1.2" fill="#b6cc6a" stroke="#6c7434" stroke-width="0.25" transform="rotate(45 567.9 104.5)"/><ellipse cx="552.2" cy="26.9" rx="1.6" ry="1.0" fill="#a4c05a" stroke="#6c7434" stroke-width="0.25" transform="rotate(162 552.2 26.9)"/><ellipse cx="524.9" cy="95.1" rx="2.2" ry="1.0" fill="#8eaa48" stroke="#6c7434" stroke-width="0.25" transform="rotate(56 524.9 95.1)"/><ellipse cx="545.4" cy="119.3" rx="1.8" ry="1.1" fill="#d2dc92" stroke="#6c7434" stroke-width="0.25" transform="rotate(122 545.4 119.3)"/><ellipse cx="553.4" cy="47.2" rx="2.2" ry="1.1" fill="#d2dc92" stroke="#6c7434" stroke-width="0.25" transform="rotate(100 553.4 47.2)"/><ellipse cx="535.2" cy="43.1" rx="2.1" ry="1.3" fill="#7c963c" stroke="#6c7434" stroke-width="0.25" transform="rotate(97 535.2 43.1)"/><ellipse cx="555.2" cy="111.0" rx="2.2" ry="0.9" fill="#b6cc6a" stroke="#6c7434" stroke-width="0.25" transform="rotate(91 555.2 111.0)"/><ellipse cx="527.3" cy="100.4" rx="1.9" ry="1.5" fill="#7c963c" stroke="#6c7434" stroke-width="0.25" transform="rotate(81 527.3 100.4)"/><ellipse cx="548.1" cy="97.1" rx="1.6" ry="1.5" fill="#d2dc92" stroke="#6c7434" stroke-width="0.25" transform="rotate(130 548.1 97.1)"/><ellipse cx="542.8" cy="101.6" rx="1.1" ry="1.5" fill="#8eaa48" stroke="#6c7434" stroke-width="0.25" transform="rotate(66 542.8 101.6)"/><ellipse cx="538.3" cy="33.7" rx="2.1" ry="1.3" fill="#d2dc92" stroke="#6c7434" stroke-width="0.25" transform="rotate(154 538.3 33.7)"/><ellipse cx="521.9" cy="80.7" rx="1.3" ry="0.7" fill="#8eaa48" stroke="#6c7434" stroke-width="0.25" transform="rotate(99 521.9 80.7)"/><ellipse cx="543.1" cy="100.2" rx="1.6" ry="1.5" fill="#9cb452" stroke="#6c7434" stroke-width="0.25" transform="rotate(110 543.1 100.2)"/><ellipse cx="526.8" cy="93.1" rx="2.4" ry="1.4" fill="#a4c05a" stroke="#6c7434" stroke-width="0.25" transform="rotate(128 526.8 93.1)"/><ellipse cx="578.1" cy="93.4" rx="1.2" ry="1.4" fill="#8eaa48" stroke="#6c7434" stroke-width="0.25" transform="rotate(28 578.1 93.4)"/><ellipse cx="530.2" cy="38.8" rx="1.4" ry="0.9" fill="#c6d680" stroke="#6c7434" stroke-width="0.25" transform="rotate(28 530.2 38.8)"/><ellipse cx="565.2" cy="52.2" rx="2.0" ry="1.1" fill="#b6cc6a" stroke="#6c7434" stroke-width="0.25" transform="rotate(175 565.2 52.2)"/><ellipse cx="557.9" cy="113.1" rx="2.3" ry="1.5" fill="#d2dc92" stroke="#6c7434" stroke-width="0.25" transform="rotate(74 557.9 113.1)"/><ellipse cx="546.5" cy="58.0" rx="1.5" ry="1.6" fill="#b6cc6a" stroke="#6c7434" stroke-width="0.25" transform="rotate(88 546.5 58.0)"/><ellipse cx="539.8" cy="113.2" rx="1.9" ry="0.8" fill="#a4c05a" stroke="#6c7434" stroke-width="0.25" transform="rotate(120 539.8 113.2)"/><ellipse cx="547.3" cy="101.3" rx="1.3" ry="1.2" fill="#c6d680" stroke="#6c7434" stroke-width="0.25" transform="rotate(153 547.3 101.3)"/><ellipse cx="528.6" cy="38.4" rx="1.7" ry="1.3" fill="#8a6030" stroke="#6c7434" stroke-width="0.25" transform="rotate(169 528.6 38.4)"/><ellipse cx="551.9" cy="105.5" rx="2.2" ry="1.3" fill="#d2dc92" stroke="#6c7434" stroke-width="0.25" transform="rotate(152 551.9 105.5)"/><ellipse cx="524.9" cy="30.8" rx="1.4" ry="0.8" fill="#7c963c" stroke="#6c7434" stroke-width="0.25" transform="rotate(5 524.9 30.8)"/><ellipse cx="575.3" cy="92.2" rx="2.3" ry="1.1" fill="#9cb452" stroke="#6c7434" stroke-width="0.25" transform="rotate(96 575.3 92.2)"/><ellipse cx="540.2" cy="45.1" rx="2.1" ry="1.2" fill="#c6d680" stroke="#6c7434" stroke-width="0.25" transform="rotate(94 540.2 45.1)"/><ellipse cx="523.1" cy="94.1" rx="1.0" ry="0.9" fill="#9cb452" stroke="#6c7434" stroke-width="0.25" transform="rotate(173 523.1 94.1)"/><ellipse cx="535.4" cy="75.5" rx="1.2" ry="0.8" fill="#c6d680" stroke="#6c7434" stroke-width="0.25" transform="rotate(168 535.4 75.5)"/><ellipse cx="560.1" cy="83.2" rx="1.7" ry="0.9" fill="#8eaa48" stroke="#6c7434" stroke-width="0.25" transform="rotate(116 560.1 83.2)"/><ellipse cx="565.3" cy="56.8" rx="1.5" ry="0.9" fill="#7c963c" stroke="#6c7434" stroke-width="0.25" transform="rotate(57 565.3 56.8)"/><ellipse cx="523.8" cy="57.1" rx="1.0" ry="0.8" fill="#7c963c" stroke="#6c7434" stroke-width="0.25" transform="rotate(7 523.8 57.1)"/><ellipse cx="572.0" cy="76.0" rx="2.3" ry="1.2" fill="#b6cc6a" stroke="#6c7434" stroke-width="0.25" transform="rotate(123 572.0 76.0)"/><ellipse cx="547.4" cy="107.4" rx="1.9" ry="0.8" fill="#8eaa48" stroke="#6c7434" stroke-width="0.25" transform="rotate(163 547.4 107.4)"/><ellipse cx="553.7" cy="34.0" rx="1.7" ry="1.1" fill="#b6cc6a" stroke="#6c7434" stroke-width="0.25" transform="rotate(95 553.7 34.0)"/><ellipse cx="557.7" cy="100.6" rx="1.9" ry="1.6" fill="#7c963c" stroke="#6c7434" stroke-width="0.25" transform="rotate(174 557.7 100.6)"/><ellipse cx="550.0" cy="99.7" rx="2.1" ry="1.6" fill="#8eaa48" stroke="#6c7434" stroke-width="0.25" transform="rotate(70 550.0 99.7)"/><ellipse cx="561.9" cy="64.3" rx="2.0" ry="0.9" fill="#9cb452" stroke="#6c7434" stroke-width="0.25" transform="rotate(162 561.9 64.3)"/><ellipse cx="560.1" cy="115.6" rx="1.7" ry="1.3" fill="#9cb452" stroke="#6c7434" stroke-width="0.25" transform="rotate(14 560.1 115.6)"/><ellipse cx="540.9" cy="127.6" rx="2.2" ry="1.3" fill="#8eaa48" stroke="#6c7434" stroke-width="0.25" transform="rotate(70 540.9 127.6)"/><ellipse cx="541.7" cy="65.5" rx="1.2" ry="0.9" fill="#a4c05a" stroke="#6c7434" stroke-width="0.25" transform="rotate(34 541.7 65.5)"/><ellipse cx="559.9" cy="91.5" rx="2.3" ry="0.8" fill="#d2dc92" stroke="#6c7434" stroke-width="0.25" transform="rotate(21 559.9 91.5)"/><ellipse cx="538.2" cy="101.4" rx="2.0" ry="1.0" fill="#9cb452" stroke="#6c7434" stroke-width="0.25" transform="rotate(13 538.2 101.4)"/><ellipse cx="559.8" cy="78.6" rx="1.9" ry="1.0" fill="#9cb452" stroke="#6c7434" stroke-width="0.25" transform="rotate(22 559.8 78.6)"/><ellipse cx="551.6" cy="36.7" rx="1.1" ry="1.5" fill="#9cb452" stroke="#6c7434" stroke-width="0.25" transform="rotate(152 551.6 36.7)"/><ellipse cx="566.0" cy="56.8" rx="1.7" ry="1.4" fill="#7c963c" stroke="#6c7434" stroke-width="0.25" transform="rotate(169 566.0 56.8)"/><ellipse cx="560.2" cy="103.3" rx="1.4" ry="0.8" fill="#c6d680" stroke="#6c7434" stroke-width="0.25" transform="rotate(154 560.2 103.3)"/><ellipse cx="574.5" cy="78.8" rx="1.1" ry="1.4" fill="#7c963c" stroke="#6c7434" stroke-width="0.25" transform="rotate(117 574.5 78.8)"/><ellipse cx="569.5" cy="63.9" rx="1.7" ry="0.7" fill="#a4c05a" stroke="#6c7434" stroke-width="0.25" transform="rotate(74 569.5 63.9)"/><ellipse cx="552.3" cy="106.5" rx="1.8" ry="1.5" fill="#8eaa48" stroke="#6c7434" stroke-width="0.25" transform="rotate(49 552.3 106.5)"/><ellipse cx="545.8" cy="98.5" rx="2.1" ry="0.9" fill="#8eaa48" stroke="#6c7434" stroke-width="0.25" transform="rotate(120 545.8 98.5)"/><ellipse cx="570.6" cy="86.8" rx="1.5" ry="1.1" fill="#9cb452" stroke="#6c7434" stroke-width="0.25" transform="rotate(39 570.6 86.8)"/><ellipse cx="549.7" cy="83.6" rx="1.8" ry="0.8" fill="#d2dc92" stroke="#6c7434" stroke-width="0.25" transform="rotate(101 549.7 83.6)"/><ellipse cx="545.6" cy="79.3" rx="1.4" ry="1.1" fill="#c6d680" stroke="#6c7434" stroke-width="0.25" transform="rotate(178 545.6 79.3)"/><ellipse cx="515.8" cy="62.3" rx="1.5" ry="1.6" fill="#d2dc92" stroke="#6c7434" stroke-width="0.25" transform="rotate(169 515.8 62.3)"/><ellipse cx="560.4" cy="107.9" rx="1.7" ry="1.5" fill="#7c963c" stroke="#6c7434" stroke-width="0.25" transform="rotate(178 560.4 107.9)"/><ellipse cx="562.4" cy="74.4" rx="2.2" ry="1.1" fill="#b6cc6a" stroke="#6c7434" stroke-width="0.25" transform="rotate(67 562.4 74.4)"/><ellipse cx="519.9" cy="55.6" rx="1.5" ry="1.2" fill="#c6d680" stroke="#6c7434" stroke-width="0.25" transform="rotate(78 519.9 55.6)"/><ellipse cx="531.2" cy="104.8" rx="1.6" ry="1.6" fill="#8eaa48" stroke="#6c7434" stroke-width="0.25" transform="rotate(14 531.2 104.8)"/><ellipse cx="551.6" cy="100.0" rx="1.7" ry="0.9" fill="#7c963c" stroke="#6c7434" stroke-width="0.25" transform="rotate(113 551.6 100.0)"/><ellipse cx="543.5" cy="19.4" rx="2.1" ry="1.2" fill="#9cb452" stroke="#6c7434" stroke-width="0.25" transform="rotate(141 543.5 19.4)"/><ellipse cx="539.1" cy="116.3" rx="1.8" ry="1.2" fill="#8eaa48" stroke="#6c7434" stroke-width="0.25" transform="rotate(71 539.1 116.3)"/><ellipse cx="548.8" cy="81.1" rx="1.6" ry="1.0" fill="#9cb452" stroke="#6c7434" stroke-width="0.25" transform="rotate(25 548.8 81.1)"/><ellipse cx="539.3" cy="101.0" rx="1.1" ry="1.3" fill="#d2dc92" stroke="#6c7434" stroke-width="0.25" transform="rotate(10 539.3 101.0)"/><ellipse cx="550.9" cy="32.6" rx="1.6" ry="0.7" fill="#b6cc6a" stroke="#6c7434" stroke-width="0.25" transform="rotate(93 550.9 32.6)"/><ellipse cx="525.9" cy="57.8" rx="2.0" ry="1.2" fill="#7c963c" stroke="#6c7434" stroke-width="0.25" transform="rotate(89 525.9 57.8)"/><ellipse cx="525.5" cy="95.8" rx="1.1" ry="1.5" fill="#a4c05a" stroke="#6c7434" stroke-width="0.25" transform="rotate(81 525.5 95.8)"/><ellipse cx="535.3" cy="95.1" rx="2.3" ry="1.3" fill="#d2dc92" stroke="#6c7434" stroke-width="0.25" transform="rotate(33 535.3 95.1)"/><ellipse cx="544.8" cy="88.0" rx="1.2" ry="0.9" fill="#a4c05a" stroke="#6c7434" stroke-width="0.25" transform="rotate(109 544.8 88.0)"/><ellipse cx="549.1" cy="75.8" rx="1.2" ry="1.0" fill="#7c963c" stroke="#6c7434" stroke-width="0.25" transform="rotate(126 549.1 75.8)"/><ellipse cx="525.4" cy="83.0" rx="1.9" ry="1.3" fill="#a4c05a" stroke="#6c7434" stroke-width="0.25" transform="rotate(100 525.4 83.0)"/><ellipse cx="532.8" cy="68.7" rx="1.4" ry="1.0" fill="#9cb452" stroke="#6c7434" stroke-width="0.25" transform="rotate(84 532.8 68.7)"/><ellipse cx="531.4" cy="53.1" rx="1.4" ry="0.8" fill="#b6cc6a" stroke="#6c7434" stroke-width="0.25" transform="rotate(44 531.4 53.1)"/><ellipse cx="526.2" cy="99.6" rx="1.7" ry="0.9" fill="#8eaa48" stroke="#6c7434" stroke-width="0.25" transform="rotate(179 526.2 99.6)"/><ellipse cx="529.0" cy="102.1" rx="2.1" ry="1.0" fill="#c6d680" stroke="#6c7434" stroke-width="0.25" transform="rotate(133 529.0 102.1)"/><ellipse cx="566.2" cy="109.7" rx="1.6" ry="1.0" fill="#8eaa48" stroke="#6c7434" stroke-width="0.25" transform="rotate(6 566.2 109.7)"/><ellipse cx="540.8" cy="109.1" rx="1.8" ry="1.5" fill="#9cb452" stroke="#6c7434" stroke-width="0.25" transform="rotate(131 540.8 109.1)"/><ellipse cx="539.0" cy="115.4" rx="2.1" ry="1.5" fill="#c6d680" stroke="#6c7434" stroke-width="0.25" transform="rotate(82 539.0 115.4)"/><ellipse cx="515.6" cy="70.6" rx="1.4" ry="1.3" fill="#b6cc6a" stroke="#6c7434" stroke-width="0.25" transform="rotate(114 515.6 70.6)"/><ellipse cx="526.2" cy="30.1" rx="2.1" ry="1.1" fill="#5c6a2c" stroke="#6c7434" stroke-width="0.25" transform="rotate(130 526.2 30.1)"/><ellipse cx="550.5" cy="84.7" rx="1.9" ry="1.2" fill="#9cb452" stroke="#6c7434" stroke-width="0.25" transform="rotate(91 550.5 84.7)"/><ellipse cx="571.5" cy="62.3" rx="2.1" ry="1.3" fill="#b6cc6a" stroke="#6c7434" stroke-width="0.25" transform="rotate(145 571.5 62.3)"/><ellipse cx="530.9" cy="82.0" rx="2.1" ry="1.2" fill="#a4c05a" stroke="#6c7434" stroke-width="0.25" transform="rotate(162 530.9 82.0)"/><ellipse cx="559.2" cy="81.4" rx="2.3" ry="1.5" fill="#b6cc6a" stroke="#6c7434" stroke-width="0.25" transform="rotate(16 559.2 81.4)"/><ellipse cx="523.9" cy="84.8" rx="2.1" ry="1.0" fill="#a4c05a" stroke="#6c7434" stroke-width="0.25" transform="rotate(55 523.9 84.8)"/><ellipse cx="559.5" cy="43.0" rx="1.1" ry="0.9" fill="#c6d680" stroke="#6c7434" stroke-width="0.25" transform="rotate(47 559.5 43.0)"/><ellipse cx="531.7" cy="65.7" rx="1.3" ry="1.5" fill="#c6d680" stroke="#6c7434" stroke-width="0.25" transform="rotate(6 531.7 65.7)"/><ellipse cx="529.6" cy="74.8" rx="2.1" ry="0.7" fill="#7c963c" stroke="#6c7434" stroke-width="0.25" transform="rotate(157 529.6 74.8)"/><ellipse cx="549.5" cy="117.7" rx="1.2" ry="1.5" fill="#7c963c" stroke="#6c7434" stroke-width="0.25" transform="rotate(91 549.5 117.7)"/><ellipse cx="537.7" cy="106.6" rx="1.8" ry="1.3" fill="#a4c05a" stroke="#6c7434" stroke-width="0.25" transform="rotate(9 537.7 106.6)"/><ellipse cx="506.5" cy="48.1" rx="2.0" ry="1.5" fill="#a4c05a" stroke="#6c7434" stroke-width="0.25" transform="rotate(11 506.5 48.1)"/><ellipse cx="534.0" cy="49.7" rx="1.2" ry="0.8" fill="#7c963c" stroke="#6c7434" stroke-width="0.25" transform="rotate(116 534.0 49.7)"/><ellipse cx="529.9" cy="113.9" rx="1.8" ry="1.3" fill="#9cb452" stroke="#6c7434" stroke-width="0.25" transform="rotate(165 529.9 113.9)"/><ellipse cx="511.3" cy="62.7" rx="1.1" ry="1.2" fill="#9cb452" stroke="#6c7434" stroke-width="0.25" transform="rotate(40 511.3 62.7)"/><ellipse cx="569.3" cy="88.8" rx="1.6" ry="1.2" fill="#a4c05a" stroke="#6c7434" stroke-width="0.25" transform="rotate(21 569.3 88.8)"/><ellipse cx="542.7" cy="15.1" rx="2.1" ry="1.3" fill="#d2dc92" stroke="#6c7434" stroke-width="0.25" transform="rotate(21 542.7 15.1)"/><ellipse cx="543.3" cy="15.0" rx="2.3" ry="1.2" fill="#7c963c" stroke="#6c7434" stroke-width="0.25" transform="rotate(80 543.3 15.0)"/><ellipse cx="528.7" cy="34.2" rx="2.0" ry="1.0" fill="#5c6a2c" stroke="#6c7434" stroke-width="0.25" transform="rotate(38 528.7 34.2)"/><ellipse cx="539.6" cy="88.1" rx="1.9" ry="0.9" fill="#7c963c" stroke="#6c7434" stroke-width="0.25" transform="rotate(39 539.6 88.1)"/><ellipse cx="521.0" cy="59.2" rx="2.0" ry="0.8" fill="#c6d680" stroke="#6c7434" stroke-width="0.25" transform="rotate(82 521.0 59.2)"/><ellipse cx="531.4" cy="35.3" rx="2.2" ry="1.3" fill="#6a5a2a" stroke="#6c7434" stroke-width="0.25" transform="rotate(137 531.4 35.3)"/><ellipse cx="525.7" cy="71.6" rx="2.2" ry="1.5" fill="#b6cc6a" stroke="#6c7434" stroke-width="0.25" transform="rotate(155 525.7 71.6)"/><ellipse cx="515.0" cy="48.8" rx="1.5" ry="1.3" fill="#d2dc92" stroke="#6c7434" stroke-width="0.25" transform="rotate(3 515.0 48.8)"/><ellipse cx="517.3" cy="47.8" rx="1.2" ry="1.5" fill="#8eaa48" stroke="#6c7434" stroke-width="0.25" transform="rotate(20 517.3 47.8)"/><ellipse cx="525.9" cy="101.8" rx="1.1" ry="0.8" fill="#7c963c" stroke="#6c7434" stroke-width="0.25" transform="rotate(57 525.9 101.8)"/><ellipse cx="579.2" cy="87.4" rx="1.3" ry="0.7" fill="#7c963c" stroke="#6c7434" stroke-width="0.25" transform="rotate(98 579.2 87.4)"/><ellipse cx="514.7" cy="86.7" rx="1.7" ry="0.7" fill="#4a3e22" stroke="#6c7434" stroke-width="0.25" transform="rotate(3 514.7 86.7)"/><ellipse cx="556.1" cy="45.4" rx="1.9" ry="1.6" fill="#c6d680" stroke="#6c7434" stroke-width="0.25" transform="rotate(123 556.1 45.4)"/><ellipse cx="563.3" cy="75.4" rx="1.7" ry="1.2" fill="#7c963c" stroke="#6c7434" stroke-width="0.25" transform="rotate(165 563.3 75.4)"/><ellipse cx="559.7" cy="99.4" rx="2.1" ry="1.3" fill="#8eaa48" stroke="#6c7434" stroke-width="0.25" transform="rotate(130 559.7 99.4)"/><ellipse cx="567.0" cy="67.9" rx="1.1" ry="0.9" fill="#c6d680" stroke="#6c7434" stroke-width="0.25" transform="rotate(139 567.0 67.9)"/><ellipse cx="573.2" cy="58.8" rx="2.3" ry="1.3" fill="#7c963c" stroke="#6c7434" stroke-width="0.25" transform="rotate(90 573.2 58.8)"/><ellipse cx="545.6" cy="101.1" rx="1.6" ry="1.6" fill="#7c963c" stroke="#6c7434" stroke-width="0.25" transform="rotate(46 545.6 101.1)"/><ellipse cx="543.5" cy="107.5" rx="1.4" ry="1.6" fill="#d2dc92" stroke="#6c7434" stroke-width="0.25" transform="rotate(64 543.5 107.5)"/><ellipse cx="529.2" cy="106.8" rx="2.0" ry="1.2" fill="#c6d680" stroke="#6c7434" stroke-width="0.25" transform="rotate(70 529.2 106.8)"/><ellipse cx="530.4" cy="53.8" rx="1.3" ry="1.4" fill="#a4c05a" stroke="#6c7434" stroke-width="0.25" transform="rotate(178 530.4 53.8)"/><ellipse cx="564.0" cy="97.1" rx="1.5" ry="1.1" fill="#b6cc6a" stroke="#6c7434" stroke-width="0.25" transform="rotate(146 564.0 97.1)"/><ellipse cx="509.9" cy="62.6" rx="1.5" ry="1.4" fill="#b6cc6a" stroke="#6c7434" stroke-width="0.25" transform="rotate(57 509.9 62.6)"/><ellipse cx="533.5" cy="44.5" rx="1.7" ry="1.4" fill="#a4c05a" stroke="#6c7434" stroke-width="0.25" transform="rotate(178 533.5 44.5)"/><ellipse cx="560.2" cy="100.1" rx="1.1" ry="1.1" fill="#b6cc6a" stroke="#6c7434" stroke-width="0.25" transform="rotate(88 560.2 100.1)"/><ellipse cx="536.3" cy="17.9" rx="1.5" ry="1.4" fill="#a4c05a" stroke="#6c7434" stroke-width="0.25" transform="rotate(32 536.3 17.9)"/><ellipse cx="533.7" cy="121.3" rx="1.1" ry="0.9" fill="#c6d680" stroke="#6c7434" stroke-width="0.25" transform="rotate(143 533.7 121.3)"/><ellipse cx="558.4" cy="71.2" rx="2.2" ry="1.0" fill="#c6d680" stroke="#6c7434" stroke-width="0.25" transform="rotate(10 558.4 71.2)"/><ellipse cx="555.4" cy="38.7" rx="2.0" ry="1.2" fill="#5c6a2c" stroke="#6c7434" stroke-width="0.25" transform="rotate(42 555.4 38.7)"/><ellipse cx="550.1" cy="66.0" rx="1.1" ry="1.2" fill="#c6d680" stroke="#6c7434" stroke-width="0.25" transform="rotate(156 550.1 66.0)"/><ellipse cx="568.0" cy="77.1" rx="2.4" ry="1.6" fill="#d2dc92" stroke="#6c7434" stroke-width="0.25" transform="rotate(18 568.0 77.1)"/><ellipse cx="556.6" cy="66.5" rx="1.4" ry="1.3" fill="#9cb452" stroke="#6c7434" stroke-width="0.25" transform="rotate(132 556.6 66.5)"/><ellipse cx="522.0" cy="55.6" rx="2.4" ry="1.5" fill="#9cb452" stroke="#6c7434" stroke-width="0.25" transform="rotate(115 522.0 55.6)"/><ellipse cx="529.5" cy="40.3" rx="1.9" ry="0.8" fill="#a4c05a" stroke="#6c7434" stroke-width="0.25" transform="rotate(95 529.5 40.3)"/><ellipse cx="538.4" cy="107.9" rx="1.3" ry="1.0" fill="#c6d680" stroke="#6c7434" stroke-width="0.25" transform="rotate(144 538.4 107.9)"/><ellipse cx="519.5" cy="53.7" rx="2.4" ry="0.7" fill="#b6cc6a" stroke="#6c7434" stroke-width="0.25" transform="rotate(126 519.5 53.7)"/><ellipse cx="548.4" cy="95.0" rx="1.7" ry="1.3" fill="#c6d680" stroke="#6c7434" stroke-width="0.25" transform="rotate(70 548.4 95.0)"/><ellipse cx="540.4" cy="118.9" rx="1.7" ry="1.6" fill="#a4c05a" stroke="#6c7434" stroke-width="0.25" transform="rotate(108 540.4 118.9)"/><ellipse cx="542.6" cy="12.0" rx="1.2" ry="0.8" fill="#8eaa48" stroke="#6c7434" stroke-width="0.25" transform="rotate(62 542.6 12.0)"/><ellipse cx="518.5" cy="88.1" rx="2.1" ry="1.2" fill="#a4c05a" stroke="#6c7434" stroke-width="0.25" transform="rotate(1 518.5 88.1)"/><ellipse cx="526.0" cy="99.7" rx="2.3" ry="1.5" fill="#7c963c" stroke="#6c7434" stroke-width="0.25" transform="rotate(175 526.0 99.7)"/><ellipse cx="548.9" cy="89.5" rx="1.0" ry="1.4" fill="#8eaa48" stroke="#6c7434" stroke-width="0.25" transform="rotate(177 548.9 89.5)"/><ellipse cx="546.9" cy="11.2" rx="1.6" ry="1.5" fill="#8eaa48" stroke="#6c7434" stroke-width="0.25" transform="rotate(128 546.9 11.2)"/><ellipse cx="539.0" cy="60.5" rx="2.2" ry="1.4" fill="#b6cc6a" stroke="#6c7434" stroke-width="0.25" transform="rotate(172 539.0 60.5)"/><ellipse cx="536.2" cy="18.5" rx="1.1" ry="0.8" fill="#9cb452" stroke="#6c7434" stroke-width="0.25" transform="rotate(20 536.2 18.5)"/><ellipse cx="524.9" cy="35.2" rx="1.9" ry="1.4" fill="#b6cc6a" stroke="#6c7434" stroke-width="0.25" transform="rotate(117 524.9 35.2)"/><ellipse cx="565.3" cy="115.9" rx="1.8" ry="1.4" fill="#b6cc6a" stroke="#6c7434" stroke-width="0.25" transform="rotate(76 565.3 115.9)"/><ellipse cx="571.6" cy="74.3" rx="2.0" ry="1.4" fill="#9cb452" stroke="#6c7434" stroke-width="0.25" transform="rotate(94 571.6 74.3)"/><ellipse cx="567.1" cy="52.0" rx="2.0" ry="1.6" fill="#a4c05a" stroke="#6c7434" stroke-width="0.25" transform="rotate(67 567.1 52.0)"/><ellipse cx="539.2" cy="129.3" rx="1.7" ry="1.3" fill="#d2dc92" stroke="#6c7434" stroke-width="0.25" transform="rotate(4 539.2 129.3)"/><ellipse cx="545.1" cy="122.4" rx="1.6" ry="1.1" fill="#c6d680" stroke="#6c7434" stroke-width="0.25" transform="rotate(42 545.1 122.4)"/><ellipse cx="550.6" cy="84.8" rx="2.2" ry="0.8" fill="#9cb452" stroke="#6c7434" stroke-width="0.25" transform="rotate(52 550.6 84.8)"/><ellipse cx="548.5" cy="59.7" rx="1.1" ry="1.5" fill="#7c963c" stroke="#6c7434" stroke-width="0.25" transform="rotate(89 548.5 59.7)"/><ellipse cx="528.0" cy="65.7" rx="1.1" ry="0.7" fill="#c6d680" stroke="#6c7434" stroke-width="0.25" transform="rotate(29 528.0 65.7)"/><ellipse cx="531.7" cy="113.8" rx="2.2" ry="0.9" fill="#c6d680" stroke="#6c7434" stroke-width="0.25" transform="rotate(134 531.7 113.8)"/><ellipse cx="533.5" cy="61.8" rx="1.9" ry="0.8" fill="#9cb452" stroke="#6c7434" stroke-width="0.25" transform="rotate(112 533.5 61.8)"/><ellipse cx="537.7" cy="77.4" rx="2.0" ry="1.1" fill="#7c963c" stroke="#6c7434" stroke-width="0.25" transform="rotate(94 537.7 77.4)"/><ellipse cx="504.9" cy="56.6" rx="1.6" ry="0.7" fill="#7c963c" stroke="#6c7434" stroke-width="0.25" transform="rotate(36 504.9 56.6)"/><ellipse cx="531.8" cy="117.9" rx="2.4" ry="1.3" fill="#9cb452" stroke="#6c7434" stroke-width="0.25" transform="rotate(66 531.8 117.9)"/><ellipse cx="532.0" cy="100.2" rx="1.8" ry="1.5" fill="#7c963c" stroke="#6c7434" stroke-width="0.25" transform="rotate(152 532.0 100.2)"/><ellipse cx="551.7" cy="30.3" rx="1.8" ry="1.1" fill="#7c963c" stroke="#6c7434" stroke-width="0.25" transform="rotate(122 551.7 30.3)"/><ellipse cx="573.5" cy="106.3" rx="1.0" ry="1.2" fill="#c6d680" stroke="#6c7434" stroke-width="0.25" transform="rotate(173 573.5 106.3)"/><ellipse cx="564.2" cy="115.4" rx="1.7" ry="0.8" fill="#b6cc6a" stroke="#6c7434" stroke-width="0.25" transform="rotate(67 564.2 115.4)"/><ellipse cx="540.1" cy="11.5" rx="2.1" ry="1.1" fill="#b6cc6a" stroke="#6c7434" stroke-width="0.25" transform="rotate(61 540.1 11.5)"/><ellipse cx="555.7" cy="72.5" rx="1.6" ry="1.1" fill="#9cb452" stroke="#6c7434" stroke-width="0.25" transform="rotate(74 555.7 72.5)"/><ellipse cx="560.4" cy="74.9" rx="1.9" ry="1.3" fill="#a4c05a" stroke="#6c7434" stroke-width="0.25" transform="rotate(63 560.4 74.9)"/><ellipse cx="516.1" cy="55.5" rx="1.8" ry="0.9" fill="#d2dc92" stroke="#6c7434" stroke-width="0.25" transform="rotate(155 516.1 55.5)"/><ellipse cx="541.5" cy="79.8" rx="1.4" ry="1.1" fill="#a4c05a" stroke="#6c7434" stroke-width="0.25" transform="rotate(99 541.5 79.8)"/><ellipse cx="553.1" cy="81.9" rx="2.3" ry="1.1" fill="#d2dc92" stroke="#6c7434" stroke-width="0.25" transform="rotate(67 553.1 81.9)"/><ellipse cx="552.5" cy="90.8" rx="2.4" ry="1.0" fill="#9cb452" stroke="#6c7434" stroke-width="0.25" transform="rotate(76 552.5 90.8)"/><ellipse cx="566.9" cy="84.3" rx="1.7" ry="1.0" fill="#8eaa48" stroke="#6c7434" stroke-width="0.25" transform="rotate(30 566.9 84.3)"/><ellipse cx="526.9" cy="47.1" rx="1.3" ry="1.6" fill="#c6d680" stroke="#6c7434" stroke-width="0.25" transform="rotate(166 526.9 47.1)"/><ellipse cx="548.5" cy="60.2" rx="2.3" ry="1.4" fill="#7c963c" stroke="#6c7434" stroke-width="0.25" transform="rotate(32 548.5 60.2)"/><ellipse cx="555.5" cy="53.0" rx="2.0" ry="1.1" fill="#d2dc92" stroke="#6c7434" stroke-width="0.25" transform="rotate(125 555.5 53.0)"/><ellipse cx="543.8" cy="58.1" rx="1.4" ry="0.9" fill="#b6cc6a" stroke="#6c7434" stroke-width="0.25" transform="rotate(80 543.8 58.1)"/><ellipse cx="558.6" cy="91.4" rx="1.1" ry="1.2" fill="#9cb452" stroke="#6c7434" stroke-width="0.25" transform="rotate(50 558.6 91.4)"/><ellipse cx="537.2" cy="103.3" rx="1.5" ry="0.7" fill="#a4c05a" stroke="#6c7434" stroke-width="0.25" transform="rotate(96 537.2 103.3)"/><ellipse cx="532.0" cy="61.5" rx="1.9" ry="0.9" fill="#b6cc6a" stroke="#6c7434" stroke-width="0.25" transform="rotate(136 532.0 61.5)"/><ellipse cx="528.4" cy="30.4" rx="1.9" ry="1.2" fill="#d2dc92" stroke="#6c7434" stroke-width="0.25" transform="rotate(97 528.4 30.4)"/><ellipse cx="538.8" cy="125.4" rx="1.5" ry="1.2" fill="#8a6030" stroke="#6c7434" stroke-width="0.25" transform="rotate(91 538.8 125.4)"/><ellipse cx="537.1" cy="93.1" rx="1.3" ry="1.6" fill="#8eaa48" stroke="#6c7434" stroke-width="0.25" transform="rotate(52 537.1 93.1)"/><ellipse cx="516.8" cy="51.9" rx="2.1" ry="1.2" fill="#8eaa48" stroke="#6c7434" stroke-width="0.25" transform="rotate(29 516.8 51.9)"/><ellipse cx="536.3" cy="80.3" rx="1.3" ry="1.5" fill="#9cb452" stroke="#6c7434" stroke-width="0.25" transform="rotate(19 536.3 80.3)"/><ellipse cx="546.8" cy="14.9" rx="1.3" ry="0.9" fill="#9cb452" stroke="#6c7434" stroke-width="0.25" transform="rotate(150 546.8 14.9)"/><ellipse cx="521.3" cy="53.3" rx="1.7" ry="1.0" fill="#8eaa48" stroke="#6c7434" stroke-width="0.25" transform="rotate(55 521.3 53.3)"/><ellipse cx="531.4" cy="111.5" rx="2.3" ry="0.9" fill="#d2dc92" stroke="#6c7434" stroke-width="0.25" transform="rotate(119 531.4 111.5)"/><ellipse cx="524.8" cy="76.4" rx="1.9" ry="0.8" fill="#a4c05a" stroke="#6c7434" stroke-width="0.25" transform="rotate(78 524.8 76.4)"/><ellipse cx="539.7" cy="123.6" rx="2.2" ry="1.5" fill="#5c6a2c" stroke="#6c7434" stroke-width="0.25" transform="rotate(5 539.7 123.6)"/><ellipse cx="540.5" cy="116.7" rx="1.1" ry="1.0" fill="#7c963c" stroke="#6c7434" stroke-width="0.25" transform="rotate(125 540.5 116.7)"/><ellipse cx="559.5" cy="53.0" rx="1.6" ry="0.7" fill="#a4c05a" stroke="#6c7434" stroke-width="0.25" transform="rotate(162 559.5 53.0)"/><ellipse cx="541.0" cy="45.8" rx="1.7" ry="1.0" fill="#8eaa48" stroke="#6c7434" stroke-width="0.25" transform="rotate(99 541.0 45.8)"/><ellipse cx="560.7" cy="49.3" rx="1.6" ry="1.4" fill="#c6d680" stroke="#6c7434" stroke-width="0.25" transform="rotate(163 560.7 49.3)"/><ellipse cx="541.3" cy="103.6" rx="2.4" ry="0.9" fill="#d2dc92" stroke="#6c7434" stroke-width="0.25" transform="rotate(53 541.3 103.6)"/><ellipse cx="546.2" cy="67.4" rx="1.6" ry="0.8" fill="#8a6030" stroke="#6c7434" stroke-width="0.25" transform="rotate(84 546.2 67.4)"/><ellipse cx="519.7" cy="100.2" rx="2.0" ry="1.0" fill="#a4c05a" stroke="#6c7434" stroke-width="0.25" transform="rotate(159 519.7 100.2)"/><ellipse cx="560.3" cy="45.3" rx="1.9" ry="1.2" fill="#8eaa48" stroke="#6c7434" stroke-width="0.25" transform="rotate(118 560.3 45.3)"/><ellipse cx="556.5" cy="79.8" rx="1.3" ry="1.2" fill="#b6cc6a" stroke="#6c7434" stroke-width="0.25" transform="rotate(170 556.5 79.8)"/><ellipse cx="552.2" cy="42.3" rx="2.1" ry="1.6" fill="#6a5a2a" stroke="#6c7434" stroke-width="0.25" transform="rotate(120 552.2 42.3)"/><ellipse cx="572.2" cy="76.8" rx="1.7" ry="1.1" fill="#8eaa48" stroke="#6c7434" stroke-width="0.25" transform="rotate(102 572.2 76.8)"/><ellipse cx="549.0" cy="101.3" rx="1.7" ry="1.5" fill="#d2dc92" stroke="#6c7434" stroke-width="0.25" transform="rotate(138 549.0 101.3)"/><ellipse cx="542.0" cy="20.5" rx="2.1" ry="1.3" fill="#a4c05a" stroke="#6c7434" stroke-width="0.25" transform="rotate(121 542.0 20.5)"/><ellipse cx="542.7" cy="61.4" rx="1.8" ry="1.0" fill="#8eaa48" stroke="#6c7434" stroke-width="0.25" transform="rotate(163 542.7 61.4)"/><ellipse cx="535.4" cy="117.4" rx="2.2" ry="1.0" fill="#b6cc6a" stroke="#6c7434" stroke-width="0.25" transform="rotate(100 535.4 117.4)"/><ellipse cx="546.1" cy="74.8" rx="1.5" ry="1.1" fill="#c6d680" stroke="#6c7434" stroke-width="0.25" transform="rotate(49 546.1 74.8)"/><ellipse cx="555.4" cy="107.7" rx="1.5" ry="1.2" fill="#7c963c" stroke="#6c7434" stroke-width="0.25" transform="rotate(54 555.4 107.7)"/><ellipse cx="522.3" cy="76.7" rx="1.4" ry="1.4" fill="#b6cc6a" stroke="#6c7434" stroke-width="0.25" transform="rotate(55 522.3 76.7)"/><ellipse cx="519.2" cy="109.4" rx="1.3" ry="0.9" fill="#7c963c" stroke="#6c7434" stroke-width="0.25" transform="rotate(141 519.2 109.4)"/><ellipse cx="529.5" cy="71.5" rx="1.4" ry="1.2" fill="#7c963c" stroke="#6c7434" stroke-width="0.25" transform="rotate(117 529.5 71.5)"/><ellipse cx="576.1" cy="73.9" rx="1.1" ry="1.3" fill="#d2dc92" stroke="#6c7434" stroke-width="0.25" transform="rotate(97 576.1 73.9)"/><ellipse cx="563.8" cy="83.6" rx="1.7" ry="1.3" fill="#8eaa48" stroke="#6c7434" stroke-width="0.25" transform="rotate(47 563.8 83.6)"/><ellipse cx="553.8" cy="104.6" rx="2.0" ry="1.4" fill="#7c963c" stroke="#6c7434" stroke-width="0.25" transform="rotate(27 553.8 104.6)"/><ellipse cx="517.2" cy="99.5" rx="1.9" ry="0.7" fill="#a4c05a" stroke="#6c7434" stroke-width="0.25" transform="rotate(95 517.2 99.5)"/><ellipse cx="539.9" cy="127.2" rx="2.4" ry="1.4" fill="#6a5a2a" stroke="#6c7434" stroke-width="0.25" transform="rotate(102 539.9 127.2)"/><ellipse cx="521.6" cy="89.3" rx="2.1" ry="1.2" fill="#a4c05a" stroke="#6c7434" stroke-width="0.25" transform="rotate(21 521.6 89.3)"/><ellipse cx="556.0" cy="109.8" rx="2.1" ry="1.5" fill="#a4c05a" stroke="#6c7434" stroke-width="0.25" transform="rotate(61 556.0 109.8)"/><ellipse cx="548.2" cy="86.1" rx="1.7" ry="0.9" fill="#7c963c" stroke="#6c7434" stroke-width="0.25" transform="rotate(57 548.2 86.1)"/><ellipse cx="539.3" cy="63.9" rx="1.1" ry="1.3" fill="#b6cc6a" stroke="#6c7434" stroke-width="0.25" transform="rotate(30 539.3 63.9)"/><ellipse cx="528.0" cy="84.5" rx="1.1" ry="1.6" fill="#9cb452" stroke="#6c7434" stroke-width="0.25" transform="rotate(176 528.0 84.5)"/><ellipse cx="563.6" cy="47.2" rx="1.2" ry="1.2" fill="#a4c05a" stroke="#6c7434" stroke-width="0.25" transform="rotate(83 563.6 47.2)"/><ellipse cx="549.5" cy="101.4" rx="2.0" ry="1.1" fill="#c6d680" stroke="#6c7434" stroke-width="0.25" transform="rotate(99 549.5 101.4)"/><ellipse cx="565.4" cy="72.7" rx="2.2" ry="1.4" fill="#c6d680" stroke="#6c7434" stroke-width="0.25" transform="rotate(76 565.4 72.7)"/><ellipse cx="534.8" cy="55.4" rx="2.2" ry="0.7" fill="#b6cc6a" stroke="#6c7434" stroke-width="0.25" transform="rotate(177 534.8 55.4)"/><ellipse cx="530.0" cy="101.5" rx="1.9" ry="1.5" fill="#9cb452" stroke="#6c7434" stroke-width="0.25" transform="rotate(92 530.0 101.5)"/><ellipse cx="563.1" cy="50.8" rx="1.7" ry="1.0" fill="#7c963c" stroke="#6c7434" stroke-width="0.25" transform="rotate(74 563.1 50.8)"/><ellipse cx="520.6" cy="61.0" rx="2.3" ry="1.1" fill="#d2dc92" stroke="#6c7434" stroke-width="0.25" transform="rotate(146 520.6 61.0)"/><ellipse cx="541.2" cy="59.9" rx="1.3" ry="1.4" fill="#8eaa48" stroke="#6c7434" stroke-width="0.25" transform="rotate(30 541.2 59.9)"/><ellipse cx="559.1" cy="96.7" rx="1.7" ry="1.4" fill="#9cb452" stroke="#6c7434" stroke-width="0.25" transform="rotate(8 559.1 96.7)"/><ellipse cx="510.7" cy="61.7" rx="2.0" ry="1.2" fill="#b6cc6a" stroke="#6c7434" stroke-width="0.25" transform="rotate(38 510.7 61.7)"/><ellipse cx="563.2" cy="68.5" rx="1.2" ry="1.2" fill="#a4c05a" stroke="#6c7434" stroke-width="0.25" transform="rotate(136 563.2 68.5)"/><ellipse cx="560.4" cy="48.5" rx="1.8" ry="1.5" fill="#d2dc92" stroke="#6c7434" stroke-width="0.25" transform="rotate(104 560.4 48.5)"/><ellipse cx="547.0" cy="44.0" rx="1.2" ry="1.1" fill="#9cb452" stroke="#6c7434" stroke-width="0.25" transform="rotate(160 547.0 44.0)"/><ellipse cx="512.5" cy="63.5" rx="1.2" ry="0.8" fill="#7c963c" stroke="#6c7434" stroke-width="0.25" transform="rotate(171 512.5 63.5)"/><ellipse cx="542.9" cy="58.4" rx="2.3" ry="1.3" fill="#b6cc6a" stroke="#6c7434" stroke-width="0.25" transform="rotate(41 542.9 58.4)"/><ellipse cx="556.8" cy="38.7" rx="1.4" ry="0.7" fill="#8eaa48" stroke="#6c7434" stroke-width="0.25" transform="rotate(81 556.8 38.7)"/><ellipse cx="533.2" cy="49.2" rx="1.5" ry="1.5" fill="#7c963c" stroke="#6c7434" stroke-width="0.25" transform="rotate(164 533.2 49.2)"/><ellipse cx="570.2" cy="93.0" rx="1.2" ry="1.5" fill="#9cb452" stroke="#6c7434" stroke-width="0.25" transform="rotate(30 570.2 93.0)"/><ellipse cx="561.9" cy="85.6" rx="2.1" ry="1.3" fill="#c6d680" stroke="#6c7434" stroke-width="0.25" transform="rotate(21 561.9 85.6)"/><ellipse cx="514.8" cy="91.4" rx="1.6" ry="0.7" fill="#c6d680" stroke="#6c7434" stroke-width="0.25" transform="rotate(51 514.8 91.4)"/><ellipse cx="550.9" cy="100.7" rx="2.2" ry="1.2" fill="#d2dc92" stroke="#6c7434" stroke-width="0.25" transform="rotate(38 550.9 100.7)"/><ellipse cx="510.9" cy="47.2" rx="1.4" ry="1.1" fill="#9cb452" stroke="#6c7434" stroke-width="0.25" transform="rotate(169 510.9 47.2)"/><ellipse cx="570.9" cy="53.3" rx="1.2" ry="1.3" fill="#d2dc92" stroke="#6c7434" stroke-width="0.25" transform="rotate(51 570.9 53.3)"/><ellipse cx="541.6" cy="98.3" rx="1.5" ry="1.6" fill="#7c963c" stroke="#6c7434" stroke-width="0.25" transform="rotate(133 541.6 98.3)"/><ellipse cx="566.1" cy="94.5" rx="1.2" ry="1.2" fill="#7c963c" stroke="#6c7434" stroke-width="0.25" transform="rotate(70 566.1 94.5)"/><ellipse cx="542.3" cy="78.1" rx="1.8" ry="1.5" fill="#a4c05a" stroke="#6c7434" stroke-width="0.25" transform="rotate(153 542.3 78.1)"/><ellipse cx="544.0" cy="119.0" rx="2.2" ry="1.4" fill="#d2dc92" stroke="#6c7434" stroke-width="0.25" transform="rotate(147 544.0 119.0)"/><ellipse cx="506.6" cy="49.6" rx="1.4" ry="1.1" fill="#c6d680" stroke="#6c7434" stroke-width="0.25" transform="rotate(7 506.6 49.6)"/><ellipse cx="530.1" cy="59.6" rx="1.1" ry="0.8" fill="#d2dc92" stroke="#6c7434" stroke-width="0.25" transform="rotate(171 530.1 59.6)"/><ellipse cx="530.7" cy="62.3" rx="1.9" ry="1.0" fill="#7c963c" stroke="#6c7434" stroke-width="0.25" transform="rotate(9 530.7 62.3)"/><ellipse cx="566.8" cy="75.1" rx="1.7" ry="1.3" fill="#b6cc6a" stroke="#6c7434" stroke-width="0.25" transform="rotate(66 566.8 75.1)"/><ellipse cx="534.7" cy="56.0" rx="1.5" ry="0.8" fill="#c6d680" stroke="#6c7434" stroke-width="0.25" transform="rotate(180 534.7 56.0)"/><ellipse cx="558.3" cy="118.5" rx="1.7" ry="0.8" fill="#4a3e22" stroke="#6c7434" stroke-width="0.25" transform="rotate(7 558.3 118.5)"/><ellipse cx="508.6" cy="46.0" rx="2.0" ry="0.9" fill="#c6d680" stroke="#6c7434" stroke-width="0.25" transform="rotate(83 508.6 46.0)"/><ellipse cx="539.3" cy="106.1" rx="1.3" ry="1.2" fill="#8eaa48" stroke="#6c7434" stroke-width="0.25" transform="rotate(7 539.3 106.1)"/><ellipse cx="531.5" cy="71.8" rx="1.4" ry="1.4" fill="#a4c05a" stroke="#6c7434" stroke-width="0.25" transform="rotate(157 531.5 71.8)"/><ellipse cx="558.3" cy="119.3" rx="2.4" ry="1.6" fill="#7c963c" stroke="#6c7434" stroke-width="0.25" transform="rotate(146 558.3 119.3)"/><ellipse cx="544.3" cy="117.5" rx="1.4" ry="0.9" fill="#9cb452" stroke="#6c7434" stroke-width="0.25" transform="rotate(114 544.3 117.5)"/><ellipse cx="521.9" cy="107.2" rx="1.5" ry="1.2" fill="#9cb452" stroke="#6c7434" stroke-width="0.25" transform="rotate(123 521.9 107.2)"/><ellipse cx="543.0" cy="33.4" rx="1.5" ry="0.8" fill="#8eaa48" stroke="#6c7434" stroke-width="0.25" transform="rotate(126 543.0 33.4)"/><ellipse cx="512.5" cy="59.7" rx="1.2" ry="1.2" fill="#c6d680" stroke="#6c7434" stroke-width="0.25" transform="rotate(32 512.5 59.7)"/><ellipse cx="516.3" cy="90.2" rx="1.7" ry="1.3" fill="#8eaa48" stroke="#6c7434" stroke-width="0.25" transform="rotate(109 516.3 90.2)"/><ellipse cx="553.5" cy="44.5" rx="1.4" ry="0.9" fill="#a4c05a" stroke="#6c7434" stroke-width="0.25" transform="rotate(99 553.5 44.5)"/><ellipse cx="573.7" cy="101.6" rx="1.6" ry="0.9" fill="#7c963c" stroke="#6c7434" stroke-width="0.25" transform="rotate(168 573.7 101.6)"/><ellipse cx="570.3" cy="75.1" rx="1.0" ry="1.0" fill="#a4c05a" stroke="#6c7434" stroke-width="0.25" transform="rotate(114 570.3 75.1)"/><ellipse cx="570.6" cy="106.6" rx="1.1" ry="1.2" fill="#a4c05a" stroke="#6c7434" stroke-width="0.25" transform="rotate(179 570.6 106.6)"/><ellipse cx="535.5" cy="105.4" rx="1.1" ry="1.0" fill="#c6d680" stroke="#6c7434" stroke-width="0.25" transform="rotate(95 535.5 105.4)"/><ellipse cx="526.6" cy="34.1" rx="1.3" ry="1.1" fill="#a4c05a" stroke="#6c7434" stroke-width="0.25" transform="rotate(8 526.6 34.1)"/><ellipse cx="526.2" cy="72.3" rx="2.0" ry="0.8" fill="#7c963c" stroke="#6c7434" stroke-width="0.25" transform="rotate(17 526.2 72.3)"/><ellipse cx="555.5" cy="53.6" rx="2.4" ry="1.4" fill="#d2dc92" stroke="#6c7434" stroke-width="0.25" transform="rotate(24 555.5 53.6)"/><ellipse cx="538.1" cy="100.7" rx="1.2" ry="1.0" fill="#c6d680" stroke="#6c7434" stroke-width="0.25" transform="rotate(114 538.1 100.7)"/><ellipse cx="538.4" cy="74.5" rx="1.0" ry="1.5" fill="#8eaa48" stroke="#6c7434" stroke-width="0.25" transform="rotate(154 538.4 74.5)"/><ellipse cx="563.3" cy="115.6" rx="1.6" ry="1.2" fill="#a4c05a" stroke="#6c7434" stroke-width="0.25" transform="rotate(118 563.3 115.6)"/><ellipse cx="510.7" cy="46.4" rx="2.2" ry="0.7" fill="#c6d680" stroke="#6c7434" stroke-width="0.25" transform="rotate(117 510.7 46.4)"/><ellipse cx="568.0" cy="52.4" rx="1.5" ry="1.6" fill="#8eaa48" stroke="#6c7434" stroke-width="0.25" transform="rotate(122 568.0 52.4)"/><ellipse cx="514.2" cy="66.9" rx="1.7" ry="0.9" fill="#d2dc92" stroke="#6c7434" stroke-width="0.25" transform="rotate(119 514.2 66.9)"/><ellipse cx="569.4" cy="113.4" rx="2.1" ry="1.6" fill="#7c963c" stroke="#6c7434" stroke-width="0.25" transform="rotate(155 569.4 113.4)"/><ellipse cx="553.8" cy="42.3" rx="1.3" ry="1.6" fill="#a4c05a" stroke="#6c7434" stroke-width="0.25" transform="rotate(99 553.8 42.3)"/><ellipse cx="522.1" cy="40.1" rx="1.1" ry="0.8" fill="#8eaa48" stroke="#6c7434" stroke-width="0.25" transform="rotate(68 522.1 40.1)"/><ellipse cx="516.8" cy="50.7" rx="2.4" ry="0.8" fill="#d2dc92" stroke="#6c7434" stroke-width="0.25" transform="rotate(75 516.8 50.7)"/><ellipse cx="575.3" cy="71.3" rx="2.3" ry="1.1" fill="#b6cc6a" stroke="#6c7434" stroke-width="0.25" transform="rotate(42 575.3 71.3)"/><ellipse cx="535.9" cy="45.4" rx="1.5" ry="1.0" fill="#c6d680" stroke="#6c7434" stroke-width="0.25" transform="rotate(29 535.9 45.4)"/><ellipse cx="536.1" cy="67.3" rx="1.6" ry="1.4" fill="#d2dc92" stroke="#6c7434" stroke-width="0.25" transform="rotate(42 536.1 67.3)"/><ellipse cx="524.5" cy="41.8" rx="2.2" ry="1.6" fill="#b6cc6a" stroke="#6c7434" stroke-width="0.25" transform="rotate(99 524.5 41.8)"/><ellipse cx="552.9" cy="79.6" rx="1.0" ry="0.9" fill="#4a3e22" stroke="#6c7434" stroke-width="0.25" transform="rotate(95 552.9 79.6)"/><ellipse cx="519.3" cy="84.3" rx="1.9" ry="1.1" fill="#8eaa48" stroke="#6c7434" stroke-width="0.25" transform="rotate(49 519.3 84.3)"/><ellipse cx="530.7" cy="107.0" rx="1.8" ry="1.3" fill="#d2dc92" stroke="#6c7434" stroke-width="0.25" transform="rotate(10 530.7 107.0)"/><ellipse cx="557.8" cy="48.4" rx="2.4" ry="1.1" fill="#9cb452" stroke="#6c7434" stroke-width="0.25" transform="rotate(23 557.8 48.4)"/><ellipse cx="558.7" cy="53.0" rx="1.0" ry="1.6" fill="#b6cc6a" stroke="#6c7434" stroke-width="0.25" transform="rotate(12 558.7 53.0)"/><ellipse cx="538.1" cy="93.4" rx="2.2" ry="1.1" fill="#b6cc6a" stroke="#6c7434" stroke-width="0.25" transform="rotate(160 538.1 93.4)"/><ellipse cx="519.6" cy="91.3" rx="2.1" ry="1.5" fill="#a4c05a" stroke="#6c7434" stroke-width="0.25" transform="rotate(24 519.6 91.3)"/><ellipse cx="537.8" cy="118.5" rx="2.3" ry="1.0" fill="#8eaa48" stroke="#6c7434" stroke-width="0.25" transform="rotate(37 537.8 118.5)"/><ellipse cx="552.3" cy="42.1" rx="1.6" ry="1.2" fill="#6a5a2a" stroke="#6c7434" stroke-width="0.25" transform="rotate(171 552.3 42.1)"/><ellipse cx="555.7" cy="85.3" rx="1.3" ry="1.5" fill="#c6d680" stroke="#6c7434" stroke-width="0.25" transform="rotate(85 555.7 85.3)"/><ellipse cx="518.0" cy="96.3" rx="1.9" ry="1.6" fill="#c6d680" stroke="#6c7434" stroke-width="0.25" transform="rotate(89 518.0 96.3)"/><ellipse cx="519.2" cy="83.9" rx="1.1" ry="0.9" fill="#9cb452" stroke="#6c7434" stroke-width="0.25" transform="rotate(58 519.2 83.9)"/><ellipse cx="568.5" cy="102.6" rx="1.3" ry="1.3" fill="#8eaa48" stroke="#6c7434" stroke-width="0.25" transform="rotate(178 568.5 102.6)"/><ellipse cx="520.8" cy="44.0" rx="1.6" ry="1.5" fill="#9cb452" stroke="#6c7434" stroke-width="0.25" transform="rotate(99 520.8 44.0)"/><ellipse cx="514.5" cy="86.3" rx="1.5" ry="1.4" fill="#a4c05a" stroke="#6c7434" stroke-width="0.25" transform="rotate(8 514.5 86.3)"/><ellipse cx="530.0" cy="112.7" rx="2.1" ry="1.1" fill="#a4c05a" stroke="#6c7434" stroke-width="0.25" transform="rotate(32 530.0 112.7)"/><ellipse cx="540.4" cy="114.8" rx="2.3" ry="1.2" fill="#7c963c" stroke="#6c7434" stroke-width="0.25" transform="rotate(88 540.4 114.8)"/><ellipse cx="559.8" cy="77.1" rx="1.7" ry="0.7" fill="#7c963c" stroke="#6c7434" stroke-width="0.25" transform="rotate(131 559.8 77.1)"/><ellipse cx="536.0" cy="64.5" rx="1.2" ry="1.6" fill="#7c963c" stroke="#6c7434" stroke-width="0.25" transform="rotate(2 536.0 64.5)"/><ellipse cx="525.3" cy="43.0" rx="1.6" ry="1.0" fill="#d2dc92" stroke="#6c7434" stroke-width="0.25" transform="rotate(21 525.3 43.0)"/><ellipse cx="546.8" cy="95.7" rx="1.1" ry="1.0" fill="#8eaa48" stroke="#6c7434" stroke-width="0.25" transform="rotate(49 546.8 95.7)"/><ellipse cx="540.6" cy="118.3" rx="1.8" ry="1.3" fill="#9cb452" stroke="#6c7434" stroke-width="0.25" transform="rotate(77 540.6 118.3)"/><ellipse cx="548.7" cy="32.7" rx="1.9" ry="1.1" fill="#7c963c" stroke="#6c7434" stroke-width="0.25" transform="rotate(51 548.7 32.7)"/><ellipse cx="535.2" cy="108.1" rx="1.6" ry="1.3" fill="#d2dc92" stroke="#6c7434" stroke-width="0.25" transform="rotate(122 535.2 108.1)"/><ellipse cx="539.3" cy="99.1" rx="1.7" ry="0.9" fill="#d2dc92" stroke="#6c7434" stroke-width="0.25" transform="rotate(64 539.3 99.1)"/><ellipse cx="573.5" cy="73.9" rx="2.2" ry="1.4" fill="#8a6030" stroke="#6c7434" stroke-width="0.25" transform="rotate(12 573.5 73.9)"/><ellipse cx="543.5" cy="121.9" rx="2.2" ry="1.5" fill="#6a5a2a" stroke="#6c7434" stroke-width="0.25" transform="rotate(80 543.5 121.9)"/><ellipse cx="528.5" cy="29.7" rx="2.0" ry="0.8" fill="#a4c05a" stroke="#6c7434" stroke-width="0.25" transform="rotate(19 528.5 29.7)"/><ellipse cx="530.1" cy="75.3" rx="1.6" ry="1.5" fill="#8eaa48" stroke="#6c7434" stroke-width="0.25" transform="rotate(154 530.1 75.3)"/><ellipse cx="565.1" cy="89.3" rx="1.7" ry="1.5" fill="#7c963c" stroke="#6c7434" stroke-width="0.25" transform="rotate(67 565.1 89.3)"/><ellipse cx="556.9" cy="99.2" rx="2.1" ry="0.9" fill="#d2dc92" stroke="#6c7434" stroke-width="0.25" transform="rotate(167 556.9 99.2)"/><ellipse cx="550.9" cy="110.6" rx="1.3" ry="0.9" fill="#d2dc92" stroke="#6c7434" stroke-width="0.25" transform="rotate(39 550.9 110.6)"/><ellipse cx="525.1" cy="46.6" rx="1.8" ry="1.0" fill="#9cb452" stroke="#6c7434" stroke-width="0.25" transform="rotate(54 525.1 46.6)"/><ellipse cx="541.0" cy="105.4" rx="2.2" ry="1.0" fill="#7c963c" stroke="#6c7434" stroke-width="0.25" transform="rotate(3 541.0 105.4)"/><ellipse cx="541.2" cy="87.2" rx="1.1" ry="0.8" fill="#b6cc6a" stroke="#6c7434" stroke-width="0.25" transform="rotate(158 541.2 87.2)"/><ellipse cx="514.7" cy="72.3" rx="2.2" ry="1.2" fill="#4a3e22" stroke="#6c7434" stroke-width="0.25" transform="rotate(97 514.7 72.3)"/><ellipse cx="528.8" cy="53.7" rx="1.8" ry="1.2" fill="#9cb452" stroke="#6c7434" stroke-width="0.25" transform="rotate(74 528.8 53.7)"/><ellipse cx="518.7" cy="100.6" rx="2.3" ry="0.9" fill="#8eaa48" stroke="#6c7434" stroke-width="0.25" transform="rotate(54 518.7 100.6)"/><ellipse cx="574.2" cy="94.6" rx="2.1" ry="1.2" fill="#b6cc6a" stroke="#6c7434" stroke-width="0.25" transform="rotate(59 574.2 94.6)"/><ellipse cx="519.1" cy="109.5" rx="2.1" ry="1.2" fill="#9cb452" stroke="#6c7434" stroke-width="0.25" transform="rotate(99 519.1 109.5)"/><ellipse cx="528.7" cy="59.1" rx="2.0" ry="1.0" fill="#7c963c" stroke="#6c7434" stroke-width="0.25" transform="rotate(128 528.7 59.1)"/><ellipse cx="554.1" cy="46.2" rx="1.6" ry="1.1" fill="#4a3e22" stroke="#6c7434" stroke-width="0.25" transform="rotate(167 554.1 46.2)"/><ellipse cx="518.2" cy="89.1" rx="1.5" ry="1.2" fill="#d2dc92" stroke="#6c7434" stroke-width="0.25" transform="rotate(177 518.2 89.1)"/><ellipse cx="505.1" cy="47.6" rx="2.3" ry="1.6" fill="#c6d680" stroke="#6c7434" stroke-width="0.25" transform="rotate(39 505.1 47.6)"/><ellipse cx="534.9" cy="59.8" rx="1.3" ry="1.1" fill="#8eaa48" stroke="#6c7434" stroke-width="0.25" transform="rotate(13 534.9 59.8)"/><ellipse cx="542.7" cy="43.8" rx="1.8" ry="1.2" fill="#8eaa48" stroke="#6c7434" stroke-width="0.25" transform="rotate(70 542.7 43.8)"/><ellipse cx="537.0" cy="82.3" rx="2.0" ry="1.4" fill="#7c963c" stroke="#6c7434" stroke-width="0.25" transform="rotate(170 537.0 82.3)"/><ellipse cx="572.7" cy="93.8" rx="1.9" ry="1.2" fill="#d2dc92" stroke="#6c7434" stroke-width="0.25" transform="rotate(131 572.7 93.8)"/><ellipse cx="521.5" cy="64.1" rx="1.8" ry="1.4" fill="#7c963c" stroke="#6c7434" stroke-width="0.25" transform="rotate(155 521.5 64.1)"/><ellipse cx="558.9" cy="119.2" rx="2.4" ry="1.3" fill="#8eaa48" stroke="#6c7434" stroke-width="0.25" transform="rotate(108 558.9 119.2)"/><ellipse cx="515.7" cy="65.2" rx="1.3" ry="1.0" fill="#9cb452" stroke="#6c7434" stroke-width="0.25" transform="rotate(62 515.7 65.2)"/><ellipse cx="568.6" cy="109.9" rx="2.0" ry="0.9" fill="#b6cc6a" stroke="#6c7434" stroke-width="0.25" transform="rotate(0 568.6 109.9)"/><ellipse cx="534.8" cy="37.7" rx="1.2" ry="1.1" fill="#8eaa48" stroke="#6c7434" stroke-width="0.25" transform="rotate(145 534.8 37.7)"/><ellipse cx="523.8" cy="99.0" rx="2.4" ry="0.9" fill="#7c963c" stroke="#6c7434" stroke-width="0.25" transform="rotate(43 523.8 99.0)"/><ellipse cx="547.6" cy="107.6" rx="2.4" ry="1.3" fill="#a4c05a" stroke="#6c7434" stroke-width="0.25" transform="rotate(45 547.6 107.6)"/><ellipse cx="579.4" cy="89.1" rx="1.3" ry="1.1" fill="#7c963c" stroke="#6c7434" stroke-width="0.25" transform="rotate(54 579.4 89.1)"/><ellipse cx="532.8" cy="88.5" rx="1.7" ry="0.8" fill="#9cb452" stroke="#6c7434" stroke-width="0.25" transform="rotate(120 532.8 88.5)"/><ellipse cx="549.6" cy="63.6" rx="1.2" ry="1.6" fill="#b6cc6a" stroke="#6c7434" stroke-width="0.25" transform="rotate(125 549.6 63.6)"/><ellipse cx="519.5" cy="79.0" rx="1.9" ry="0.9" fill="#6a5a2a" stroke="#6c7434" stroke-width="0.25" transform="rotate(140 519.5 79.0)"/><ellipse cx="542.7" cy="63.1" rx="1.4" ry="1.6" fill="#a4c05a" stroke="#6c7434" stroke-width="0.25" transform="rotate(22 542.7 63.1)"/><ellipse cx="566.1" cy="76.5" rx="1.4" ry="0.9" fill="#7c963c" stroke="#6c7434" stroke-width="0.25" transform="rotate(39 566.1 76.5)"/><ellipse cx="545.5" cy="12.2" rx="1.8" ry="1.0" fill="#a4c05a" stroke="#6c7434" stroke-width="0.25" transform="rotate(163 545.5 12.2)"/><ellipse cx="523.2" cy="88.2" rx="1.2" ry="0.9" fill="#b6cc6a" stroke="#6c7434" stroke-width="0.25" transform="rotate(32 523.2 88.2)"/><ellipse cx="554.6" cy="91.8" rx="1.8" ry="1.2" fill="#c6d680" stroke="#6c7434" stroke-width="0.25" transform="rotate(133 554.6 91.8)"/><ellipse cx="546.0" cy="94.8" rx="1.8" ry="0.8" fill="#d2dc92" stroke="#6c7434" stroke-width="0.25" transform="rotate(150 546.0 94.8)"/><ellipse cx="538.6" cy="86.4" rx="1.8" ry="1.4" fill="#7c963c" stroke="#6c7434" stroke-width="0.25" transform="rotate(151 538.6 86.4)"/><ellipse cx="536.5" cy="61.9" rx="2.0" ry="1.5" fill="#9cb452" stroke="#6c7434" stroke-width="0.25" transform="rotate(82 536.5 61.9)"/><ellipse cx="509.9" cy="57.8" rx="1.6" ry="0.7" fill="#9cb452" stroke="#6c7434" stroke-width="0.25" transform="rotate(123 509.9 57.8)"/><ellipse cx="566.9" cy="91.9" rx="1.4" ry="0.8" fill="#9cb452" stroke="#6c7434" stroke-width="0.25" transform="rotate(121 566.9 91.9)"/><ellipse cx="555.3" cy="113.6" rx="1.9" ry="1.2" fill="#c6d680" stroke="#6c7434" stroke-width="0.25" transform="rotate(54 555.3 113.6)"/><ellipse cx="513.7" cy="55.9" rx="2.4" ry="1.6" fill="#7c963c" stroke="#6c7434" stroke-width="0.25" transform="rotate(147 513.7 55.9)"/><ellipse cx="567.8" cy="109.6" rx="2.0" ry="1.1" fill="#8eaa48" stroke="#6c7434" stroke-width="0.25" transform="rotate(12 567.8 109.6)"/><ellipse cx="530.1" cy="105.4" rx="2.1" ry="1.5" fill="#8eaa48" stroke="#6c7434" stroke-width="0.25" transform="rotate(13 530.1 105.4)"/><ellipse cx="550.1" cy="98.0" rx="1.3" ry="1.4" fill="#d2dc92" stroke="#6c7434" stroke-width="0.25" transform="rotate(109 550.1 98.0)"/><ellipse cx="534.2" cy="84.4" rx="2.3" ry="1.1" fill="#9cb452" stroke="#6c7434" stroke-width="0.25" transform="rotate(157 534.2 84.4)"/><ellipse cx="543.7" cy="42.0" rx="1.9" ry="1.3" fill="#9cb452" stroke="#6c7434" stroke-width="0.25" transform="rotate(101 543.7 42.0)"/><ellipse cx="540.3" cy="86.0" rx="1.5" ry="1.2" fill="#a4c05a" stroke="#6c7434" stroke-width="0.25" transform="rotate(17 540.3 86.0)"/><ellipse cx="551.3" cy="56.5" rx="2.1" ry="1.0" fill="#9cb452" stroke="#6c7434" stroke-width="0.25" transform="rotate(84 551.3 56.5)"/><ellipse cx="515.3" cy="67.1" rx="1.2" ry="0.8" fill="#b6cc6a" stroke="#6c7434" stroke-width="0.25" transform="rotate(132 515.3 67.1)"/><ellipse cx="556.6" cy="114.0" rx="1.6" ry="1.6" fill="#5c6a2c" stroke="#6c7434" stroke-width="0.25" transform="rotate(11 556.6 114.0)"/><ellipse cx="552.4" cy="75.7" rx="1.7" ry="1.2" fill="#7c963c" stroke="#6c7434" stroke-width="0.25" transform="rotate(80 552.4 75.7)"/><ellipse cx="560.2" cy="105.6" rx="2.1" ry="0.8" fill="#7c963c" stroke="#6c7434" stroke-width="0.25" transform="rotate(87 560.2 105.6)"/><ellipse cx="515.3" cy="66.3" rx="2.1" ry="0.9" fill="#9cb452" stroke="#6c7434" stroke-width="0.25" transform="rotate(31 515.3 66.3)"/><ellipse cx="552.2" cy="94.5" rx="2.3" ry="1.0" fill="#8eaa48" stroke="#6c7434" stroke-width="0.25" transform="rotate(89 552.2 94.5)"/><ellipse cx="546.5" cy="60.9" rx="1.7" ry="0.8" fill="#b6cc6a" stroke="#6c7434" stroke-width="0.25" transform="rotate(63 546.5 60.9)"/><ellipse cx="531.6" cy="110.2" rx="1.4" ry="1.0" fill="#7c963c" stroke="#6c7434" stroke-width="0.25" transform="rotate(121 531.6 110.2)"/><ellipse cx="528.5" cy="75.4" rx="1.6" ry="0.8" fill="#9cb452" stroke="#6c7434" stroke-width="0.25" transform="rotate(46 528.5 75.4)"/><ellipse cx="538.7" cy="129.4" rx="1.9" ry="1.3" fill="#7c963c" stroke="#6c7434" stroke-width="0.25" transform="rotate(97 538.7 129.4)"/><ellipse cx="530.5" cy="114.5" rx="1.4" ry="1.5" fill="#a4c05a" stroke="#6c7434" stroke-width="0.25" transform="rotate(4 530.5 114.5)"/><ellipse cx="537.9" cy="67.8" rx="1.7" ry="1.6" fill="#d2dc92" stroke="#6c7434" stroke-width="0.25" transform="rotate(77 537.9 67.8)"/><ellipse cx="516.8" cy="42.8" rx="2.0" ry="0.9" fill="#b6cc6a" stroke="#6c7434" stroke-width="0.25" transform="rotate(63 516.8 42.8)"/><ellipse cx="537.3" cy="41.5" rx="2.3" ry="0.9" fill="#4a3e22" stroke="#6c7434" stroke-width="0.25" transform="rotate(148 537.3 41.5)"/><ellipse cx="506.3" cy="54.4" rx="2.3" ry="1.5" fill="#d2dc92" stroke="#6c7434" stroke-width="0.25" transform="rotate(84 506.3 54.4)"/><ellipse cx="533.2" cy="110.2" rx="1.5" ry="0.8" fill="#b6cc6a" stroke="#6c7434" stroke-width="0.25" transform="rotate(98 533.2 110.2)"/><ellipse cx="513.1" cy="68.3" rx="1.4" ry="1.2" fill="#d2dc92" stroke="#6c7434" stroke-width="0.25" transform="rotate(45 513.1 68.3)"/><ellipse cx="552.1" cy="67.8" rx="1.3" ry="0.8" fill="#b6cc6a" stroke="#6c7434" stroke-width="0.25" transform="rotate(75 552.1 67.8)"/><ellipse cx="542.0" cy="90.5" rx="1.4" ry="0.9" fill="#7c963c" stroke="#6c7434" stroke-width="0.25" transform="rotate(73 542.0 90.5)"/><ellipse cx="550.2" cy="41.9" rx="1.1" ry="1.6" fill="#4a3e22" stroke="#6c7434" stroke-width="0.25" transform="rotate(168 550.2 41.9)"/><ellipse cx="565.9" cy="54.1" rx="1.8" ry="1.3" fill="#7c963c" stroke="#6c7434" stroke-width="0.25" transform="rotate(96 565.9 54.1)"/><ellipse cx="524.0" cy="84.4" rx="1.8" ry="1.4" fill="#8eaa48" stroke="#6c7434" stroke-width="0.25" transform="rotate(31 524.0 84.4)"/><ellipse cx="533.1" cy="118.8" rx="1.0" ry="0.9" fill="#9cb452" stroke="#6c7434" stroke-width="0.25" transform="rotate(98 533.1 118.8)"/><ellipse cx="544.0" cy="84.7" rx="1.1" ry="1.5" fill="#a4c05a" stroke="#6c7434" stroke-width="0.25" transform="rotate(127 544.0 84.7)"/><ellipse cx="562.3" cy="85.9" rx="1.1" ry="1.2" fill="#9cb452" stroke="#6c7434" stroke-width="0.25" transform="rotate(178 562.3 85.9)"/><ellipse cx="523.7" cy="32.4" rx="1.4" ry="1.5" fill="#7c963c" stroke="#6c7434" stroke-width="0.25" transform="rotate(168 523.7 32.4)"/><ellipse cx="526.2" cy="114.7" rx="1.2" ry="1.6" fill="#8eaa48" stroke="#6c7434" stroke-width="0.25" transform="rotate(61 526.2 114.7)"/><ellipse cx="556.2" cy="50.4" rx="1.8" ry="0.9" fill="#c6d680" stroke="#6c7434" stroke-width="0.25" transform="rotate(38 556.2 50.4)"/><ellipse cx="570.4" cy="106.3" rx="2.1" ry="0.9" fill="#b6cc6a" stroke="#6c7434" stroke-width="0.25" transform="rotate(102 570.4 106.3)"/><ellipse cx="540.5" cy="103.7" rx="2.0" ry="1.4" fill="#7c963c" stroke="#6c7434" stroke-width="0.25" transform="rotate(156 540.5 103.7)"/><ellipse cx="570.5" cy="62.5" rx="1.1" ry="1.4" fill="#a4c05a" stroke="#6c7434" stroke-width="0.25" transform="rotate(59 570.5 62.5)"/><ellipse cx="542.3" cy="50.6" rx="2.0" ry="1.6" fill="#9cb452" stroke="#6c7434" stroke-width="0.25" transform="rotate(115 542.3 50.6)"/><ellipse cx="572.7" cy="61.1" rx="2.0" ry="1.5" fill="#9cb452" stroke="#6c7434" stroke-width="0.25" transform="rotate(107 572.7 61.1)"/><ellipse cx="523.0" cy="79.9" rx="1.2" ry="0.8" fill="#8eaa48" stroke="#6c7434" stroke-width="0.25" transform="rotate(147 523.0 79.9)"/><ellipse cx="519.0" cy="87.3" rx="1.4" ry="1.0" fill="#8eaa48" stroke="#6c7434" stroke-width="0.25" transform="rotate(51 519.0 87.3)"/><ellipse cx="573.5" cy="105.9" rx="1.8" ry="1.1" fill="#8eaa48" stroke="#6c7434" stroke-width="0.25" transform="rotate(7 573.5 105.9)"/><ellipse cx="519.7" cy="37.4" rx="1.1" ry="1.0" fill="#c6d680" stroke="#6c7434" stroke-width="0.25" transform="rotate(172 519.7 37.4)"/><ellipse cx="560.3" cy="100.1" rx="1.1" ry="1.2" fill="#c6d680" stroke="#6c7434" stroke-width="0.25" transform="rotate(138 560.3 100.1)"/><ellipse cx="564.7" cy="107.3" rx="1.8" ry="0.8" fill="#d2dc92" stroke="#6c7434" stroke-width="0.25" transform="rotate(122 564.7 107.3)"/><ellipse cx="574.0" cy="66.9" rx="1.5" ry="0.9" fill="#a4c05a" stroke="#6c7434" stroke-width="0.25" transform="rotate(154 574.0 66.9)"/><ellipse cx="534.6" cy="73.6" rx="1.6" ry="0.8" fill="#a4c05a" stroke="#6c7434" stroke-width="0.25" transform="rotate(66 534.6 73.6)"/><ellipse cx="530.8" cy="117.9" rx="2.2" ry="1.2" fill="#b6cc6a" stroke="#6c7434" stroke-width="0.25" transform="rotate(165 530.8 117.9)"/><ellipse cx="529.8" cy="27.0" rx="2.2" ry="1.2" fill="#d2dc92" stroke="#6c7434" stroke-width="0.25" transform="rotate(107 529.8 27.0)"/><ellipse cx="522.3" cy="57.9" rx="1.0" ry="0.7" fill="#d2dc92" stroke="#6c7434" stroke-width="0.25" transform="rotate(97 522.3 57.9)"/><ellipse cx="538.7" cy="34.4" rx="1.5" ry="0.9" fill="#8eaa48" stroke="#6c7434" stroke-width="0.25" transform="rotate(40 538.7 34.4)"/><ellipse cx="544.1" cy="44.3" rx="2.0" ry="0.9" fill="#d2dc92" stroke="#6c7434" stroke-width="0.25" transform="rotate(64 544.1 44.3)"/><ellipse cx="517.4" cy="104.6" rx="1.5" ry="1.0" fill="#a4c05a" stroke="#6c7434" stroke-width="0.25" transform="rotate(0 517.4 104.6)"/><ellipse cx="563.2" cy="57.6" rx="1.2" ry="0.7" fill="#b6cc6a" stroke="#6c7434" stroke-width="0.25" transform="rotate(55 563.2 57.6)"/><ellipse cx="551.8" cy="47.9" rx="2.2" ry="1.0" fill="#7c963c" stroke="#6c7434" stroke-width="0.25" transform="rotate(80 551.8 47.9)"/><ellipse cx="548.4" cy="119.8" rx="2.4" ry="1.6" fill="#6a5a2a" stroke="#6c7434" stroke-width="0.25" transform="rotate(36 548.4 119.8)"/><ellipse cx="544.3" cy="66.4" rx="2.1" ry="0.9" fill="#a4c05a" stroke="#6c7434" stroke-width="0.25" transform="rotate(78 544.3 66.4)"/><ellipse cx="520.9" cy="52.4" rx="1.7" ry="0.9" fill="#a4c05a" stroke="#6c7434" stroke-width="0.25" transform="rotate(92 520.9 52.4)"/><ellipse cx="539.2" cy="49.3" rx="2.0" ry="1.1" fill="#b6cc6a" stroke="#6c7434" stroke-width="0.25" transform="rotate(53 539.2 49.3)"/><ellipse cx="531.3" cy="39.9" rx="2.2" ry="0.8" fill="#7c963c" stroke="#6c7434" stroke-width="0.25" transform="rotate(101 531.3 39.9)"/><ellipse cx="529.4" cy="115.4" rx="2.3" ry="0.7" fill="#d2dc92" stroke="#6c7434" stroke-width="0.25" transform="rotate(155 529.4 115.4)"/><ellipse cx="565.2" cy="108.2" rx="2.1" ry="0.8" fill="#9cb452" stroke="#6c7434" stroke-width="0.25" transform="rotate(49 565.2 108.2)"/><ellipse cx="573.0" cy="75.0" rx="1.7" ry="0.8" fill="#c6d680" stroke="#6c7434" stroke-width="0.25" transform="rotate(119 573.0 75.0)"/><ellipse cx="505.3" cy="51.5" rx="2.1" ry="1.3" fill="#9cb452" stroke="#6c7434" stroke-width="0.25" transform="rotate(39 505.3 51.5)"/><ellipse cx="536.7" cy="110.9" rx="1.6" ry="1.3" fill="#b6cc6a" stroke="#6c7434" stroke-width="0.25" transform="rotate(172 536.7 110.9)"/><ellipse cx="525.2" cy="73.4" rx="1.8" ry="1.1" fill="#a4c05a" stroke="#6c7434" stroke-width="0.25" transform="rotate(68 525.2 73.4)"/><ellipse cx="513.5" cy="51.8" rx="2.3" ry="0.9" fill="#9cb452" stroke="#6c7434" stroke-width="0.25" transform="rotate(37 513.5 51.8)"/><ellipse cx="536.5" cy="100.2" rx="2.2" ry="1.4" fill="#c6d680" stroke="#6c7434" stroke-width="0.25" transform="rotate(143 536.5 100.2)"/><ellipse cx="515.9" cy="54.4" rx="1.7" ry="1.1" fill="#9cb452" stroke="#6c7434" stroke-width="0.25" transform="rotate(106 515.9 54.4)"/><ellipse cx="535.4" cy="16.5" rx="1.2" ry="1.4" fill="#9cb452" stroke="#6c7434" stroke-width="0.25" transform="rotate(167 535.4 16.5)"/><ellipse cx="524.7" cy="94.1" rx="2.0" ry="1.2" fill="#c6d680" stroke="#6c7434" stroke-width="0.25" transform="rotate(27 524.7 94.1)"/><ellipse cx="510.7" cy="70.6" rx="2.1" ry="0.9" fill="#6a5a2a" stroke="#6c7434" stroke-width="0.25" transform="rotate(104 510.7 70.6)"/><ellipse cx="511.8" cy="56.5" rx="2.0" ry="1.2" fill="#a4c05a" stroke="#6c7434" stroke-width="0.25" transform="rotate(58 511.8 56.5)"/><ellipse cx="527.8" cy="113.0" rx="2.3" ry="1.4" fill="#a4c05a" stroke="#6c7434" stroke-width="0.25" transform="rotate(97 527.8 113.0)"/><ellipse cx="554.9" cy="70.8" rx="1.6" ry="1.2" fill="#7c963c" stroke="#6c7434" stroke-width="0.25" transform="rotate(3 554.9 70.8)"/><ellipse cx="523.9" cy="31.5" rx="2.1" ry="1.5" fill="#6a5a2a" stroke="#6c7434" stroke-width="0.25" transform="rotate(105 523.9 31.5)"/><ellipse cx="509.7" cy="49.0" rx="2.3" ry="1.4" fill="#8eaa48" stroke="#6c7434" stroke-width="0.25" transform="rotate(33 509.7 49.0)"/><ellipse cx="515.4" cy="82.3" rx="2.1" ry="0.8" fill="#8a6030" stroke="#6c7434" stroke-width="0.25" transform="rotate(48 515.4 82.3)"/><ellipse cx="538.7" cy="62.2" rx="1.8" ry="1.5" fill="#7c963c" stroke="#6c7434" stroke-width="0.25" transform="rotate(74 538.7 62.2)"/><ellipse cx="541.1" cy="91.9" rx="1.1" ry="1.1" fill="#a4c05a" stroke="#6c7434" stroke-width="0.25" transform="rotate(118 541.1 91.9)"/><ellipse cx="547.1" cy="79.0" rx="1.3" ry="0.9" fill="#c6d680" stroke="#6c7434" stroke-width="0.25" transform="rotate(152 547.1 79.0)"/><ellipse cx="563.6" cy="47.7" rx="1.5" ry="1.2" fill="#8eaa48" stroke="#6c7434" stroke-width="0.25" transform="rotate(80 563.6 47.7)"/><ellipse cx="550.5" cy="53.2" rx="1.5" ry="1.1" fill="#a4c05a" stroke="#6c7434" stroke-width="0.25" transform="rotate(151 550.5 53.2)"/><ellipse cx="542.5" cy="33.8" rx="2.3" ry="0.9" fill="#7c963c" stroke="#6c7434" stroke-width="0.25" transform="rotate(81 542.5 33.8)"/><ellipse cx="542.2" cy="80.3" rx="2.0" ry="1.6" fill="#c6d680" stroke="#6c7434" stroke-width="0.25" transform="rotate(8 542.2 80.3)"/><ellipse cx="524.9" cy="69.8" rx="1.5" ry="1.0" fill="#d2dc92" stroke="#6c7434" stroke-width="0.25" transform="rotate(19 524.9 69.8)"/><ellipse cx="546.4" cy="53.1" rx="2.2" ry="1.1" fill="#6a5a2a" stroke="#6c7434" stroke-width="0.25" transform="rotate(136 546.4 53.1)"/><ellipse cx="549.9" cy="45.5" rx="2.0" ry="1.3" fill="#7c963c" stroke="#6c7434" stroke-width="0.25" transform="rotate(91 549.9 45.5)"/><ellipse cx="512.3" cy="64.4" rx="2.3" ry="1.5" fill="#a4c05a" stroke="#6c7434" stroke-width="0.25" transform="rotate(115 512.3 64.4)"/><ellipse cx="527.8" cy="51.2" rx="1.5" ry="1.6" fill="#c6d680" stroke="#6c7434" stroke-width="0.25" transform="rotate(3 527.8 51.2)"/><ellipse cx="558.2" cy="92.5" rx="2.4" ry="1.4" fill="#d2dc92" stroke="#6c7434" stroke-width="0.25" transform="rotate(148 558.2 92.5)"/><ellipse cx="517.0" cy="96.0" rx="2.3" ry="0.9" fill="#7c963c" stroke="#6c7434" stroke-width="0.25" transform="rotate(136 517.0 96.0)"/><ellipse cx="537.2" cy="96.5" rx="1.5" ry="0.8" fill="#8eaa48" stroke="#6c7434" stroke-width="0.25" transform="rotate(57 537.2 96.5)"/><ellipse cx="557.7" cy="66.9" rx="1.8" ry="0.9" fill="#d2dc92" stroke="#6c7434" stroke-width="0.25" transform="rotate(60 557.7 66.9)"/><ellipse cx="553.5" cy="107.3" rx="2.0" ry="0.9" fill="#b6cc6a" stroke="#6c7434" stroke-width="0.25" transform="rotate(99 553.5 107.3)"/><ellipse cx="525.3" cy="77.9" rx="2.2" ry="1.2" fill="#d2dc92" stroke="#6c7434" stroke-width="0.25" transform="rotate(104 525.3 77.9)"/><ellipse cx="554.1" cy="75.2" rx="1.7" ry="0.8" fill="#7c963c" stroke="#6c7434" stroke-width="0.25" transform="rotate(6 554.1 75.2)"/><ellipse cx="539.8" cy="100.0" rx="2.2" ry="1.4" fill="#d2dc92" stroke="#6c7434" stroke-width="0.25" transform="rotate(111 539.8 100.0)"/><ellipse cx="563.9" cy="96.8" rx="2.0" ry="0.8" fill="#9cb452" stroke="#6c7434" stroke-width="0.25" transform="rotate(63 563.9 96.8)"/><ellipse cx="527.5" cy="94.2" rx="2.2" ry="1.5" fill="#a4c05a" stroke="#6c7434" stroke-width="0.25" transform="rotate(111 527.5 94.2)"/><ellipse cx="508.4" cy="59.6" rx="1.5" ry="0.8" fill="#8eaa48" stroke="#6c7434" stroke-width="0.25" transform="rotate(32 508.4 59.6)"/><ellipse cx="516.7" cy="101.9" rx="1.9" ry="1.1" fill="#8eaa48" stroke="#6c7434" stroke-width="0.25" transform="rotate(136 516.7 101.9)"/><ellipse cx="538.5" cy="25.1" rx="2.0" ry="1.6" fill="#b6cc6a" stroke="#6c7434" stroke-width="0.25" transform="rotate(127 538.5 25.1)"/><ellipse cx="544.3" cy="93.1" rx="2.2" ry="0.9" fill="#9cb452" stroke="#6c7434" stroke-width="0.25" transform="rotate(166 544.3 93.1)"/><ellipse cx="528.8" cy="89.6" rx="1.7" ry="1.3" fill="#7c963c" stroke="#6c7434" stroke-width="0.25" transform="rotate(79 528.8 89.6)"/><ellipse cx="560.9" cy="112.7" rx="1.7" ry="1.1" fill="#8eaa48" stroke="#6c7434" stroke-width="0.25" transform="rotate(62 560.9 112.7)"/><ellipse cx="545.3" cy="118.7" rx="1.1" ry="1.4" fill="#9cb452" stroke="#6c7434" stroke-width="0.25" transform="rotate(121 545.3 118.7)"/><ellipse cx="574.0" cy="93.7" rx="2.3" ry="1.2" fill="#8eaa48" stroke="#6c7434" stroke-width="0.25" transform="rotate(99 574.0 93.7)"/><ellipse cx="534.3" cy="36.6" rx="1.4" ry="1.1" fill="#b6cc6a" stroke="#6c7434" stroke-width="0.25" transform="rotate(33 534.3 36.6)"/><ellipse cx="574.5" cy="83.6" rx="1.3" ry="1.2" fill="#7c963c" stroke="#6c7434" stroke-width="0.25" transform="rotate(29 574.5 83.6)"/><ellipse cx="544.7" cy="44.2" rx="1.5" ry="1.5" fill="#6a5a2a" stroke="#6c7434" stroke-width="0.25" transform="rotate(20 544.7 44.2)"/><ellipse cx="554.8" cy="60.7" rx="1.2" ry="1.5" fill="#a4c05a" stroke="#6c7434" stroke-width="0.25" transform="rotate(38 554.8 60.7)"/><ellipse cx="538.9" cy="122.1" rx="2.1" ry="1.2" fill="#9cb452" stroke="#6c7434" stroke-width="0.25" transform="rotate(17 538.9 122.1)"/><ellipse cx="566.0" cy="104.9" rx="2.0" ry="1.4" fill="#a4c05a" stroke="#6c7434" stroke-width="0.25" transform="rotate(119 566.0 104.9)"/><ellipse cx="544.4" cy="19.1" rx="1.9" ry="0.8" fill="#9cb452" stroke="#6c7434" stroke-width="0.25" transform="rotate(11 544.4 19.1)"/><ellipse cx="550.6" cy="84.9" rx="2.3" ry="0.7" fill="#b6cc6a" stroke="#6c7434" stroke-width="0.25" transform="rotate(56 550.6 84.9)"/><ellipse cx="509.8" cy="67.0" rx="2.1" ry="0.8" fill="#b6cc6a" stroke="#6c7434" stroke-width="0.25" transform="rotate(74 509.8 67.0)"/><ellipse cx="550.8" cy="68.3" rx="1.8" ry="0.9" fill="#a4c05a" stroke="#6c7434" stroke-width="0.25" transform="rotate(11 550.8 68.3)"/><ellipse cx="531.1" cy="105.0" rx="1.9" ry="1.4" fill="#7c963c" stroke="#6c7434" stroke-width="0.25" transform="rotate(92 531.1 105.0)"/><ellipse cx="530.1" cy="67.0" rx="1.1" ry="0.8" fill="#8eaa48" stroke="#6c7434" stroke-width="0.25" transform="rotate(9 530.1 67.0)"/><ellipse cx="537.8" cy="53.9" rx="1.2" ry="1.2" fill="#c6d680" stroke="#6c7434" stroke-width="0.25" transform="rotate(131 537.8 53.9)"/><ellipse cx="541.5" cy="89.6" rx="2.3" ry="0.8" fill="#c6d680" stroke="#6c7434" stroke-width="0.25" transform="rotate(172 541.5 89.6)"/><ellipse cx="516.9" cy="48.3" rx="1.5" ry="0.9" fill="#a4c05a" stroke="#6c7434" stroke-width="0.25" transform="rotate(49 516.9 48.3)"/><ellipse cx="527.9" cy="76.9" rx="1.4" ry="1.2" fill="#9cb452" stroke="#6c7434" stroke-width="0.25" transform="rotate(36 527.9 76.9)"/><ellipse cx="546.7" cy="52.9" rx="1.6" ry="1.3" fill="#5c6a2c" stroke="#6c7434" stroke-width="0.25" transform="rotate(169 546.7 52.9)"/><ellipse cx="550.9" cy="101.4" rx="1.6" ry="1.4" fill="#c6d680" stroke="#6c7434" stroke-width="0.25" transform="rotate(39 550.9 101.4)"/><ellipse cx="518.8" cy="78.0" rx="2.3" ry="1.2" fill="#7c963c" stroke="#6c7434" stroke-width="0.25" transform="rotate(108 518.8 78.0)"/><ellipse cx="562.8" cy="86.0" rx="1.0" ry="1.2" fill="#9cb452" stroke="#6c7434" stroke-width="0.25" transform="rotate(145 562.8 86.0)"/><ellipse cx="534.5" cy="123.5" rx="1.8" ry="1.1" fill="#9cb452" stroke="#6c7434" stroke-width="0.25" transform="rotate(38 534.5 123.5)"/><ellipse cx="536.9" cy="46.3" rx="1.2" ry="1.4" fill="#b6cc6a" stroke="#6c7434" stroke-width="0.25" transform="rotate(167 536.9 46.3)"/><ellipse cx="557.9" cy="115.2" rx="2.2" ry="0.7" fill="#a4c05a" stroke="#6c7434" stroke-width="0.25" transform="rotate(115 557.9 115.2)"/><ellipse cx="517.4" cy="69.4" rx="2.0" ry="0.9" fill="#d2dc92" stroke="#6c7434" stroke-width="0.25" transform="rotate(140 517.4 69.4)"/><ellipse cx="557.8" cy="77.9" rx="1.8" ry="1.4" fill="#a4c05a" stroke="#6c7434" stroke-width="0.25" transform="rotate(82 557.8 77.9)"/><ellipse cx="560.0" cy="97.8" rx="1.5" ry="1.0" fill="#b6cc6a" stroke="#6c7434" stroke-width="0.25" transform="rotate(110 560.0 97.8)"/><ellipse cx="554.4" cy="109.6" rx="1.4" ry="0.9" fill="#4a3e22" stroke="#6c7434" stroke-width="0.25" transform="rotate(78 554.4 109.6)"/><ellipse cx="560.8" cy="45.4" rx="1.4" ry="0.7" fill="#c6d680" stroke="#6c7434" stroke-width="0.25" transform="rotate(105 560.8 45.4)"/><ellipse cx="554.8" cy="89.8" rx="1.2" ry="1.0" fill="#b6cc6a" stroke="#6c7434" stroke-width="0.25" transform="rotate(153 554.8 89.8)"/><ellipse cx="566.0" cy="72.7" rx="1.2" ry="1.1" fill="#8eaa48" stroke="#6c7434" stroke-width="0.25" transform="rotate(136 566.0 72.7)"/><ellipse cx="551.0" cy="83.1" rx="2.3" ry="1.6" fill="#8eaa48" stroke="#6c7434" stroke-width="0.25" transform="rotate(120 551.0 83.1)"/><ellipse cx="543.2" cy="41.7" rx="1.7" ry="1.0" fill="#c6d680" stroke="#6c7434" stroke-width="0.25" transform="rotate(137 543.2 41.7)"/><ellipse cx="536.6" cy="22.6" rx="1.2" ry="1.0" fill="#7c963c" stroke="#6c7434" stroke-width="0.25" transform="rotate(49 536.6 22.6)"/><ellipse cx="525.9" cy="52.8" rx="1.1" ry="1.3" fill="#9cb452" stroke="#6c7434" stroke-width="0.25" transform="rotate(13 525.9 52.8)"/><ellipse cx="574.0" cy="56.7" rx="1.0" ry="1.0" fill="#9cb452" stroke="#6c7434" stroke-width="0.25" transform="rotate(89 574.0 56.7)"/><ellipse cx="535.4" cy="122.7" rx="2.0" ry="0.8" fill="#7c963c" stroke="#6c7434" stroke-width="0.25" transform="rotate(135 535.4 122.7)"/><ellipse cx="536.1" cy="21.3" rx="1.8" ry="1.0" fill="#8eaa48" stroke="#6c7434" stroke-width="0.25" transform="rotate(57 536.1 21.3)"/><ellipse cx="546.8" cy="106.2" rx="2.2" ry="0.8" fill="#d2dc92" stroke="#6c7434" stroke-width="0.25" transform="rotate(34 546.8 106.2)"/><ellipse cx="536.5" cy="56.4" rx="2.2" ry="0.9" fill="#a4c05a" stroke="#6c7434" stroke-width="0.25" transform="rotate(103 536.5 56.4)"/><ellipse cx="533.5" cy="34.9" rx="1.5" ry="1.2" fill="#6a5a2a" stroke="#6c7434" stroke-width="0.25" transform="rotate(5 533.5 34.9)"/><ellipse cx="529.9" cy="94.9" rx="1.2" ry="0.8" fill="#7c963c" stroke="#6c7434" stroke-width="0.25" transform="rotate(164 529.9 94.9)"/><ellipse cx="508.7" cy="67.9" rx="1.3" ry="1.1" fill="#a4c05a" stroke="#6c7434" stroke-width="0.25" transform="rotate(68 508.7 67.9)"/><ellipse cx="556.0" cy="65.8" rx="1.7" ry="0.8" fill="#a4c05a" stroke="#6c7434" stroke-width="0.25" transform="rotate(171 556.0 65.8)"/><ellipse cx="532.9" cy="25.0" rx="1.9" ry="1.3" fill="#5c6a2c" stroke="#6c7434" stroke-width="0.25" transform="rotate(152 532.9 25.0)"/><ellipse cx="555.5" cy="53.2" rx="2.4" ry="1.1" fill="#7c963c" stroke="#6c7434" stroke-width="0.25" transform="rotate(177 555.5 53.2)"/><ellipse cx="529.8" cy="100.9" rx="2.0" ry="1.6" fill="#d2dc92" stroke="#6c7434" stroke-width="0.25" transform="rotate(174 529.8 100.9)"/><ellipse cx="531.4" cy="51.1" rx="2.0" ry="1.2" fill="#7c963c" stroke="#6c7434" stroke-width="0.25" transform="rotate(76 531.4 51.1)"/><ellipse cx="552.8" cy="104.4" rx="1.2" ry="1.2" fill="#8eaa48" stroke="#6c7434" stroke-width="0.25" transform="rotate(20 552.8 104.4)"/><ellipse cx="544.9" cy="70.7" rx="1.2" ry="1.3" fill="#7c963c" stroke="#6c7434" stroke-width="0.25" transform="rotate(17 544.9 70.7)"/><ellipse cx="537.4" cy="65.8" rx="2.1" ry="0.8" fill="#8eaa48" stroke="#6c7434" stroke-width="0.25" transform="rotate(64 537.4 65.8)"/><ellipse cx="521.3" cy="79.9" rx="2.4" ry="1.1" fill="#7c963c" stroke="#6c7434" stroke-width="0.25" transform="rotate(56 521.3 79.9)"/><ellipse cx="543.8" cy="36.2" rx="1.8" ry="1.0" fill="#d2dc92" stroke="#6c7434" stroke-width="0.25" transform="rotate(129 543.8 36.2)"/><ellipse cx="532.0" cy="103.0" rx="1.9" ry="0.8" fill="#c6d680" stroke="#6c7434" stroke-width="0.25" transform="rotate(64 532.0 103.0)"/><ellipse cx="561.6" cy="61.3" rx="1.7" ry="0.8" fill="#c6d680" stroke="#6c7434" stroke-width="0.25" transform="rotate(53 561.6 61.3)"/><ellipse cx="570.4" cy="98.7" rx="1.9" ry="0.8" fill="#9cb452" stroke="#6c7434" stroke-width="0.25" transform="rotate(51 570.4 98.7)"/><ellipse cx="552.7" cy="45.1" rx="1.6" ry="1.2" fill="#7c963c" stroke="#6c7434" stroke-width="0.25" transform="rotate(76 552.7 45.1)"/><ellipse cx="513.0" cy="61.8" rx="1.4" ry="0.8" fill="#a4c05a" stroke="#6c7434" stroke-width="0.25" transform="rotate(56 513.0 61.8)"/><ellipse cx="564.0" cy="60.6" rx="1.3" ry="1.1" fill="#d2dc92" stroke="#6c7434" stroke-width="0.25" transform="rotate(60 564.0 60.6)"/><ellipse cx="547.5" cy="24.2" rx="1.2" ry="0.8" fill="#b6cc6a" stroke="#6c7434" stroke-width="0.25" transform="rotate(15 547.5 24.2)"/><ellipse cx="572.3" cy="109.6" rx="1.6" ry="1.1" fill="#d2dc92" stroke="#6c7434" stroke-width="0.25" transform="rotate(142 572.3 109.6)"/><ellipse cx="520.3" cy="90.9" rx="2.1" ry="1.5" fill="#a4c05a" stroke="#6c7434" stroke-width="0.25" transform="rotate(173 520.3 90.9)"/><ellipse cx="552.1" cy="14.8" rx="1.6" ry="0.7" fill="#7c963c" stroke="#6c7434" stroke-width="0.25" transform="rotate(123 552.1 14.8)"/><ellipse cx="553.7" cy="51.6" rx="1.6" ry="1.0" fill="#8eaa48" stroke="#6c7434" stroke-width="0.25" transform="rotate(56 553.7 51.6)"/><ellipse cx="517.7" cy="89.1" rx="2.3" ry="1.4" fill="#8eaa48" stroke="#6c7434" stroke-width="0.25" transform="rotate(82 517.7 89.1)"/><ellipse cx="541.0" cy="50.7" rx="2.2" ry="0.9" fill="#9cb452" stroke="#6c7434" stroke-width="0.25" transform="rotate(141 541.0 50.7)"/><ellipse cx="559.0" cy="70.6" rx="1.5" ry="1.6" fill="#c6d680" stroke="#6c7434" stroke-width="0.25" transform="rotate(66 559.0 70.6)"/><ellipse cx="562.8" cy="78.3" rx="2.3" ry="1.2" fill="#9cb452" stroke="#6c7434" stroke-width="0.25" transform="rotate(8 562.8 78.3)"/><ellipse cx="528.8" cy="83.9" rx="1.7" ry="1.6" fill="#b6cc6a" stroke="#6c7434" stroke-width="0.25" transform="rotate(107 528.8 83.9)"/><ellipse cx="529.6" cy="32.2" rx="1.3" ry="1.4" fill="#6a5a2a" stroke="#6c7434" stroke-width="0.25" transform="rotate(21 529.6 32.2)"/><ellipse cx="542.3" cy="111.4" rx="1.7" ry="0.9" fill="#a4c05a" stroke="#6c7434" stroke-width="0.25" transform="rotate(24 542.3 111.4)"/><ellipse cx="545.5" cy="17.2" rx="2.3" ry="1.0" fill="#b6cc6a" stroke="#6c7434" stroke-width="0.25" transform="rotate(57 545.5 17.2)"/><ellipse cx="571.4" cy="62.3" rx="1.8" ry="0.9" fill="#8eaa48" stroke="#6c7434" stroke-width="0.25" transform="rotate(126 571.4 62.3)"/><ellipse cx="533.4" cy="64.9" rx="1.3" ry="0.8" fill="#9cb452" stroke="#6c7434" stroke-width="0.25" transform="rotate(18 533.4 64.9)"/><ellipse cx="548.5" cy="78.8" rx="2.2" ry="0.9" fill="#8eaa48" stroke="#6c7434" stroke-width="0.25" transform="rotate(166 548.5 78.8)"/><ellipse cx="528.4" cy="54.1" rx="1.3" ry="1.3" fill="#d2dc92" stroke="#6c7434" stroke-width="0.25" transform="rotate(34 528.4 54.1)"/><ellipse cx="533.6" cy="63.4" rx="1.7" ry="0.9" fill="#d2dc92" stroke="#6c7434" stroke-width="0.25" transform="rotate(165 533.6 63.4)"/><ellipse cx="542.1" cy="98.5" rx="1.3" ry="1.0" fill="#d2dc92" stroke="#6c7434" stroke-width="0.25" transform="rotate(83 542.1 98.5)"/><ellipse cx="531.9" cy="58.6" rx="1.4" ry="1.3" fill="#7c963c" stroke="#6c7434" stroke-width="0.25" transform="rotate(89 531.9 58.6)"/><ellipse cx="519.1" cy="57.2" rx="2.0" ry="1.3" fill="#b6cc6a" stroke="#6c7434" stroke-width="0.25" transform="rotate(93 519.1 57.2)"/><ellipse cx="545.2" cy="116.9" rx="1.3" ry="1.5" fill="#7c963c" stroke="#6c7434" stroke-width="0.25" transform="rotate(55 545.2 116.9)"/><ellipse cx="571.0" cy="109.2" rx="2.2" ry="1.2" fill="#c6d680" stroke="#6c7434" stroke-width="0.25" transform="rotate(133 571.0 109.2)"/><ellipse cx="541.8" cy="65.9" rx="1.9" ry="1.5" fill="#6a5a2a" stroke="#6c7434" stroke-width="0.25" transform="rotate(127 541.8 65.9)"/><ellipse cx="559.3" cy="60.5" rx="2.1" ry="1.1" fill="#9cb452" stroke="#6c7434" stroke-width="0.25" transform="rotate(100 559.3 60.5)"/><ellipse cx="566.1" cy="93.3" rx="2.4" ry="1.0" fill="#d2dc92" stroke="#6c7434" stroke-width="0.25" transform="rotate(104 566.1 93.3)"/><ellipse cx="567.2" cy="102.7" rx="1.3" ry="0.8" fill="#7c963c" stroke="#6c7434" stroke-width="0.25" transform="rotate(13 567.2 102.7)"/><ellipse cx="536.2" cy="109.8" rx="1.2" ry="0.8" fill="#a4c05a" stroke="#6c7434" stroke-width="0.25" transform="rotate(111 536.2 109.8)"/><ellipse cx="537.0" cy="66.0" rx="2.1" ry="0.8" fill="#8eaa48" stroke="#6c7434" stroke-width="0.25" transform="rotate(48 537.0 66.0)"/><ellipse cx="567.9" cy="107.5" rx="1.5" ry="0.8" fill="#c6d680" stroke="#6c7434" stroke-width="0.25" transform="rotate(5 567.9 107.5)"/><ellipse cx="523.6" cy="61.1" rx="2.3" ry="0.8" fill="#7c963c" stroke="#6c7434" stroke-width="0.25" transform="rotate(92 523.6 61.1)"/><ellipse cx="561.0" cy="81.5" rx="2.1" ry="1.5" fill="#d2dc92" stroke="#6c7434" stroke-width="0.25" transform="rotate(45 561.0 81.5)"/><ellipse cx="569.5" cy="105.6" rx="1.9" ry="1.3" fill="#7c963c" stroke="#6c7434" stroke-width="0.25" transform="rotate(157 569.5 105.6)"/><ellipse cx="540.7" cy="65.4" rx="1.4" ry="1.1" fill="#7c963c" stroke="#6c7434" stroke-width="0.25" transform="rotate(26 540.7 65.4)"/><ellipse cx="515.6" cy="101.6" rx="2.2" ry="0.8" fill="#7c963c" stroke="#6c7434" stroke-width="0.25" transform="rotate(36 515.6 101.6)"/><ellipse cx="548.9" cy="29.0" rx="2.2" ry="0.9" fill="#7c963c" stroke="#6c7434" stroke-width="0.25" transform="rotate(23 548.9 29.0)"/><ellipse cx="540.1" cy="130.4" rx="2.0" ry="0.9" fill="#5c6a2c" stroke="#6c7434" stroke-width="0.25" transform="rotate(139 540.1 130.4)"/><ellipse cx="532.0" cy="68.1" rx="1.7" ry="0.8" fill="#d2dc92" stroke="#6c7434" stroke-width="0.25" transform="rotate(4 532.0 68.1)"/><ellipse cx="567.2" cy="83.4" rx="2.0" ry="1.5" fill="#a4c05a" stroke="#6c7434" stroke-width="0.25" transform="rotate(47 567.2 83.4)"/><ellipse cx="554.6" cy="40.2" rx="1.7" ry="0.8" fill="#a4c05a" stroke="#6c7434" stroke-width="0.25" transform="rotate(121 554.6 40.2)"/><ellipse cx="578.1" cy="86.4" rx="1.4" ry="1.4" fill="#d2dc92" stroke="#6c7434" stroke-width="0.25" transform="rotate(101 578.1 86.4)"/><ellipse cx="565.8" cy="83.7" rx="2.0" ry="0.7" fill="#b6cc6a" stroke="#6c7434" stroke-width="0.25" transform="rotate(71 565.8 83.7)"/><ellipse cx="542.1" cy="52.4" rx="2.4" ry="1.4" fill="#a4c05a" stroke="#6c7434" stroke-width="0.25" transform="rotate(154 542.1 52.4)"/><ellipse cx="531.7" cy="61.6" rx="1.0" ry="0.8" fill="#a4c05a" stroke="#6c7434" stroke-width="0.25" transform="rotate(167 531.7 61.6)"/><ellipse cx="550.7" cy="79.7" rx="2.1" ry="1.4" fill="#c6d680" stroke="#6c7434" stroke-width="0.25" transform="rotate(143 550.7 79.7)"/><ellipse cx="516.7" cy="56.1" rx="1.8" ry="1.3" fill="#b6cc6a" stroke="#6c7434" stroke-width="0.25" transform="rotate(102 516.7 56.1)"/><ellipse cx="538.1" cy="90.5" rx="1.3" ry="1.5" fill="#d2dc92" stroke="#6c7434" stroke-width="0.25" transform="rotate(47 538.1 90.5)"/><ellipse cx="546.5" cy="45.1" rx="2.4" ry="1.3" fill="#a4c05a" stroke="#6c7434" stroke-width="0.25" transform="rotate(158 546.5 45.1)"/><ellipse cx="522.1" cy="35.1" rx="2.3" ry="1.5" fill="#8eaa48" stroke="#6c7434" stroke-width="0.25" transform="rotate(73 522.1 35.1)"/><ellipse cx="551.8" cy="84.8" rx="1.3" ry="1.1" fill="#b6cc6a" stroke="#6c7434" stroke-width="0.25" transform="rotate(160 551.8 84.8)"/><ellipse cx="550.8" cy="27.3" rx="1.0" ry="1.0" fill="#d2dc92" stroke="#6c7434" stroke-width="0.25" transform="rotate(89 550.8 27.3)"/><ellipse cx="526.4" cy="96.5" rx="1.5" ry="1.4" fill="#c6d680" stroke="#6c7434" stroke-width="0.25" transform="rotate(11 526.4 96.5)"/><ellipse cx="520.3" cy="100.5" rx="1.5" ry="0.7" fill="#a4c05a" stroke="#6c7434" stroke-width="0.25" transform="rotate(97 520.3 100.5)"/><ellipse cx="543.0" cy="79.8" rx="1.3" ry="1.1" fill="#7c963c" stroke="#6c7434" stroke-width="0.25" transform="rotate(65 543.0 79.8)"/><ellipse cx="552.6" cy="97.2" rx="1.1" ry="1.5" fill="#9cb452" stroke="#6c7434" stroke-width="0.25" transform="rotate(145 552.6 97.2)"/><ellipse cx="563.6" cy="59.5" rx="2.2" ry="1.0" fill="#9cb452" stroke="#6c7434" stroke-width="0.25" transform="rotate(113 563.6 59.5)"/><ellipse cx="542.0" cy="31.7" rx="2.0" ry="1.4" fill="#b6cc6a" stroke="#6c7434" stroke-width="0.25" transform="rotate(42 542.0 31.7)"/><ellipse cx="551.7" cy="92.9" rx="1.9" ry="1.2" fill="#9cb452" stroke="#6c7434" stroke-width="0.25" transform="rotate(37 551.7 92.9)"/><ellipse cx="542.9" cy="81.6" rx="1.5" ry="1.2" fill="#7c963c" stroke="#6c7434" stroke-width="0.25" transform="rotate(111 542.9 81.6)"/><ellipse cx="574.6" cy="72.1" rx="1.9" ry="1.5" fill="#8eaa48" stroke="#6c7434" stroke-width="0.25" transform="rotate(104 574.6 72.1)"/><ellipse cx="527.0" cy="30.4" rx="2.0" ry="1.4" fill="#9cb452" stroke="#6c7434" stroke-width="0.25" transform="rotate(73 527.0 30.4)"/><ellipse cx="552.1" cy="81.5" rx="1.1" ry="1.0" fill="#8eaa48" stroke="#6c7434" stroke-width="0.25" transform="rotate(105 552.1 81.5)"/><ellipse cx="568.3" cy="111.8" rx="1.1" ry="0.9" fill="#a4c05a" stroke="#6c7434" stroke-width="0.25" transform="rotate(99 568.3 111.8)"/><ellipse cx="540.9" cy="64.8" rx="1.4" ry="1.1" fill="#b6cc6a" stroke="#6c7434" stroke-width="0.25" transform="rotate(12 540.9 64.8)"/><ellipse cx="558.3" cy="114.9" rx="2.1" ry="1.2" fill="#7c963c" stroke="#6c7434" stroke-width="0.25" transform="rotate(151 558.3 114.9)"/><ellipse cx="559.9" cy="66.3" rx="1.6" ry="1.4" fill="#8eaa48" stroke="#6c7434" stroke-width="0.25" transform="rotate(155 559.9 66.3)"/><ellipse cx="542.4" cy="22.0" rx="1.8" ry="1.5" fill="#9cb452" stroke="#6c7434" stroke-width="0.25" transform="rotate(56 542.4 22.0)"/><ellipse cx="512.3" cy="48.1" rx="1.0" ry="1.0" fill="#d2dc92" stroke="#6c7434" stroke-width="0.25" transform="rotate(101 512.3 48.1)"/><ellipse cx="568.2" cy="101.6" rx="1.6" ry="0.8" fill="#c6d680" stroke="#6c7434" stroke-width="0.25" transform="rotate(92 568.2 101.6)"/><ellipse cx="518.1" cy="109.1" rx="2.2" ry="1.5" fill="#7c963c" stroke="#6c7434" stroke-width="0.25" transform="rotate(122 518.1 109.1)"/><ellipse cx="537.0" cy="69.0" rx="1.2" ry="0.8" fill="#b6cc6a" stroke="#6c7434" stroke-width="0.25" transform="rotate(94 537.0 69.0)"/><ellipse cx="550.7" cy="115.2" rx="1.9" ry="1.5" fill="#6a5a2a" stroke="#6c7434" stroke-width="0.25" transform="rotate(158 550.7 115.2)"/><ellipse cx="525.3" cy="46.0" rx="2.2" ry="0.8" fill="#7c963c" stroke="#6c7434" stroke-width="0.25" transform="rotate(64 525.3 46.0)"/><ellipse cx="528.5" cy="108.8" rx="1.9" ry="0.9" fill="#9cb452" stroke="#6c7434" stroke-width="0.25" transform="rotate(26 528.5 108.8)"/><ellipse cx="535.0" cy="41.1" rx="2.0" ry="0.7" fill="#8eaa48" stroke="#6c7434" stroke-width="0.25" transform="rotate(53 535.0 41.1)"/><ellipse cx="528.6" cy="58.1" rx="1.5" ry="1.1" fill="#a4c05a" stroke="#6c7434" stroke-width="0.25" transform="rotate(174 528.6 58.1)"/><ellipse cx="542.6" cy="37.2" rx="1.7" ry="1.6" fill="#c6d680" stroke="#6c7434" stroke-width="0.25" transform="rotate(150 542.6 37.2)"/><ellipse cx="541.0" cy="74.7" rx="2.2" ry="1.4" fill="#8eaa48" stroke="#6c7434" stroke-width="0.25" transform="rotate(122 541.0 74.7)"/><ellipse cx="562.6" cy="54.5" rx="2.1" ry="1.5" fill="#c6d680" stroke="#6c7434" stroke-width="0.25" transform="rotate(121 562.6 54.5)"/><ellipse cx="548.3" cy="18.6" rx="1.9" ry="0.9" fill="#7c963c" stroke="#6c7434" stroke-width="0.25" transform="rotate(146 548.3 18.6)"/><ellipse cx="538.2" cy="96.1" rx="1.1" ry="1.2" fill="#7c963c" stroke="#6c7434" stroke-width="0.25" transform="rotate(119 538.2 96.1)"/><ellipse cx="562.4" cy="84.6" rx="1.6" ry="1.6" fill="#7c963c" stroke="#6c7434" stroke-width="0.25" transform="rotate(13 562.4 84.6)"/><ellipse cx="553.2" cy="104.4" rx="1.0" ry="1.5" fill="#7c963c" stroke="#6c7434" stroke-width="0.25" transform="rotate(55 553.2 104.4)"/><ellipse cx="549.2" cy="40.0" rx="2.1" ry="1.5" fill="#b6cc6a" stroke="#6c7434" stroke-width="0.25" transform="rotate(142 549.2 40.0)"/><ellipse cx="565.4" cy="58.5" rx="1.2" ry="1.2" fill="#8eaa48" stroke="#6c7434" stroke-width="0.25" transform="rotate(164 565.4 58.5)"/><ellipse cx="539.8" cy="60.0" rx="2.0" ry="1.5" fill="#7c963c" stroke="#6c7434" stroke-width="0.25" transform="rotate(1 539.8 60.0)"/><ellipse cx="537.6" cy="95.0" rx="1.1" ry="0.9" fill="#d2dc92" stroke="#6c7434" stroke-width="0.25" transform="rotate(81 537.6 95.0)"/><ellipse cx="565.9" cy="66.6" rx="2.1" ry="1.5" fill="#c6d680" stroke="#6c7434" stroke-width="0.25" transform="rotate(93 565.9 66.6)"/><ellipse cx="530.6" cy="90.1" rx="1.4" ry="1.5" fill="#d2dc92" stroke="#6c7434" stroke-width="0.25" transform="rotate(82 530.6 90.1)"/><ellipse cx="548.5" cy="27.5" rx="1.5" ry="1.1" fill="#c6d680" stroke="#6c7434" stroke-width="0.25" transform="rotate(26 548.5 27.5)"/><ellipse cx="551.5" cy="98.7" rx="2.3" ry="0.8" fill="#c6d680" stroke="#6c7434" stroke-width="0.25" transform="rotate(179 551.5 98.7)"/><ellipse cx="563.0" cy="108.2" rx="1.6" ry="1.6" fill="#c6d680" stroke="#6c7434" stroke-width="0.25" transform="rotate(111 563.0 108.2)"/><ellipse cx="530.5" cy="49.9" rx="1.6" ry="1.0" fill="#8eaa48" stroke="#6c7434" stroke-width="0.25" transform="rotate(143 530.5 49.9)"/><ellipse cx="546.7" cy="93.6" rx="2.2" ry="0.8" fill="#b6cc6a" stroke="#6c7434" stroke-width="0.25" transform="rotate(84 546.7 93.6)"/><ellipse cx="531.5" cy="108.2" rx="1.6" ry="1.6" fill="#b6cc6a" stroke="#6c7434" stroke-width="0.25" transform="rotate(132 531.5 108.2)"/><ellipse cx="533.5" cy="50.3" rx="1.8" ry="1.5" fill="#d2dc92" stroke="#6c7434" stroke-width="0.25" transform="rotate(14 533.5 50.3)"/><ellipse cx="546.8" cy="104.9" rx="2.0" ry="0.8" fill="#b6cc6a" stroke="#6c7434" stroke-width="0.25" transform="rotate(57 546.8 104.9)"/><ellipse cx="555.3" cy="44.8" rx="2.2" ry="0.9" fill="#5c6a2c" stroke="#6c7434" stroke-width="0.25" transform="rotate(38 555.3 44.8)"/><ellipse cx="542.3" cy="87.7" rx="1.5" ry="1.2" fill="#7c963c" stroke="#6c7434" stroke-width="0.25" transform="rotate(20 542.3 87.7)"/><ellipse cx="549.1" cy="41.9" rx="1.4" ry="1.6" fill="#8eaa48" stroke="#6c7434" stroke-width="0.25" transform="rotate(174 549.1 41.9)"/><ellipse cx="541.2" cy="16.5" rx="1.9" ry="1.2" fill="#c6d680" stroke="#6c7434" stroke-width="0.25" transform="rotate(138 541.2 16.5)"/><ellipse cx="515.3" cy="93.2" rx="1.2" ry="1.3" fill="#d2dc92" stroke="#6c7434" stroke-width="0.25" transform="rotate(154 515.3 93.2)"/><ellipse cx="555.9" cy="107.7" rx="1.3" ry="0.7" fill="#d2dc92" stroke="#6c7434" stroke-width="0.25" transform="rotate(92 555.9 107.7)"/><ellipse cx="576.0" cy="87.8" rx="1.7" ry="1.6" fill="#7c963c" stroke="#6c7434" stroke-width="0.25" transform="rotate(126 576.0 87.8)"/><ellipse cx="520.1" cy="37.0" rx="1.6" ry="1.5" fill="#d2dc92" stroke="#6c7434" stroke-width="0.25" transform="rotate(158 520.1 37.0)"/><ellipse cx="533.5" cy="31.1" rx="1.1" ry="1.1" fill="#6a5a2a" stroke="#6c7434" stroke-width="0.25" transform="rotate(29 533.5 31.1)"/><ellipse cx="571.4" cy="75.6" rx="1.9" ry="0.8" fill="#c6d680" stroke="#6c7434" stroke-width="0.25" transform="rotate(147 571.4 75.6)"/><ellipse cx="528.4" cy="63.6" rx="2.1" ry="1.5" fill="#b6cc6a" stroke="#6c7434" stroke-width="0.25" transform="rotate(99 528.4 63.6)"/><ellipse cx="519.3" cy="59.9" rx="1.6" ry="1.4" fill="#b6cc6a" stroke="#6c7434" stroke-width="0.25" transform="rotate(22 519.3 59.9)"/><ellipse cx="543.0" cy="60.7" rx="2.2" ry="0.9" fill="#9cb452" stroke="#6c7434" stroke-width="0.25" transform="rotate(117 543.0 60.7)"/><ellipse cx="517.0" cy="56.2" rx="1.4" ry="1.4" fill="#b6cc6a" stroke="#6c7434" stroke-width="0.25" transform="rotate(46 517.0 56.2)"/><ellipse cx="517.0" cy="44.8" rx="1.9" ry="0.8" fill="#c6d680" stroke="#6c7434" stroke-width="0.25" transform="rotate(31 517.0 44.8)"/><ellipse cx="533.2" cy="39.4" rx="1.8" ry="1.4" fill="#8a6030" stroke="#6c7434" stroke-width="0.25" transform="rotate(105 533.2 39.4)"/><ellipse cx="541.2" cy="124.4" rx="1.5" ry="0.9" fill="#4a3e22" stroke="#6c7434" stroke-width="0.25" transform="rotate(79 541.2 124.4)"/><ellipse cx="552.9" cy="112.8" rx="1.7" ry="0.9" fill="#b6cc6a" stroke="#6c7434" stroke-width="0.25" transform="rotate(164 552.9 112.8)"/><ellipse cx="564.7" cy="103.7" rx="1.5" ry="1.5" fill="#c6d680" stroke="#6c7434" stroke-width="0.25" transform="rotate(3 564.7 103.7)"/><ellipse cx="544.0" cy="69.3" rx="1.3" ry="1.1" fill="#4a3e22" stroke="#6c7434" stroke-width="0.25" transform="rotate(39 544.0 69.3)"/><ellipse cx="549.0" cy="61.6" rx="2.2" ry="1.0" fill="#7c963c" stroke="#6c7434" stroke-width="0.25" transform="rotate(89 549.0 61.6)"/><ellipse cx="518.8" cy="96.2" rx="1.4" ry="1.5" fill="#7c963c" stroke="#6c7434" stroke-width="0.25" transform="rotate(1 518.8 96.2)"/><ellipse cx="533.6" cy="52.0" rx="1.3" ry="1.0" fill="#9cb452" stroke="#6c7434" stroke-width="0.25" transform="rotate(64 533.6 52.0)"/><ellipse cx="506.6" cy="62.0" rx="1.8" ry="1.0" fill="#d2dc92" stroke="#6c7434" stroke-width="0.25" transform="rotate(56 506.6 62.0)"/><ellipse cx="523.3" cy="100.1" rx="2.1" ry="0.7" fill="#c6d680" stroke="#6c7434" stroke-width="0.25" transform="rotate(86 523.3 100.1)"/><ellipse cx="560.0" cy="109.2" rx="2.3" ry="1.2" fill="#7c963c" stroke="#6c7434" stroke-width="0.25" transform="rotate(35 560.0 109.2)"/><ellipse cx="557.3" cy="55.1" rx="1.8" ry="1.1" fill="#c6d680" stroke="#6c7434" stroke-width="0.25" transform="rotate(134 557.3 55.1)"/><ellipse cx="554.0" cy="26.4" rx="1.8" ry="1.2" fill="#c6d680" stroke="#6c7434" stroke-width="0.25" transform="rotate(161 554.0 26.4)"/><ellipse cx="534.7" cy="22.9" rx="2.0" ry="1.0" fill="#c6d680" stroke="#6c7434" stroke-width="0.25" transform="rotate(92 534.7 22.9)"/><ellipse cx="535.8" cy="74.2" rx="2.0" ry="1.1" fill="#b6cc6a" stroke="#6c7434" stroke-width="0.25" transform="rotate(60 535.8 74.2)"/><ellipse cx="543.2" cy="124.4" rx="1.6" ry="0.7" fill="#a4c05a" stroke="#6c7434" stroke-width="0.25" transform="rotate(71 543.2 124.4)"/><ellipse cx="537.4" cy="33.4" rx="1.6" ry="0.8" fill="#c6d680" stroke="#6c7434" stroke-width="0.25" transform="rotate(32 537.4 33.4)"/><ellipse cx="566.6" cy="78.9" rx="1.7" ry="1.1" fill="#7c963c" stroke="#6c7434" stroke-width="0.25" transform="rotate(116 566.6 78.9)"/><ellipse cx="538.5" cy="57.1" rx="1.7" ry="1.1" fill="#d2dc92" stroke="#6c7434" stroke-width="0.25" transform="rotate(178 538.5 57.1)"/><ellipse cx="567.4" cy="82.5" rx="1.1" ry="0.8" fill="#c6d680" stroke="#6c7434" stroke-width="0.25" transform="rotate(135 567.4 82.5)"/><ellipse cx="558.8" cy="48.1" rx="1.8" ry="0.8" fill="#8eaa48" stroke="#6c7434" stroke-width="0.25" transform="rotate(154 558.8 48.1)"/><ellipse cx="532.3" cy="75.5" rx="2.3" ry="0.9" fill="#d2dc92" stroke="#6c7434" stroke-width="0.25" transform="rotate(35 532.3 75.5)"/><ellipse cx="541.7" cy="70.9" rx="2.0" ry="1.4" fill="#7c963c" stroke="#6c7434" stroke-width="0.25" transform="rotate(30 541.7 70.9)"/><ellipse cx="506.0" cy="63.0" rx="1.1" ry="0.8" fill="#a4c05a" stroke="#6c7434" stroke-width="0.25" transform="rotate(155 506.0 63.0)"/><ellipse cx="550.3" cy="71.0" rx="1.7" ry="1.0" fill="#8eaa48" stroke="#6c7434" stroke-width="0.25" transform="rotate(157 550.3 71.0)"/><ellipse cx="529.6" cy="39.2" rx="1.9" ry="1.3" fill="#a4c05a" stroke="#6c7434" stroke-width="0.25" transform="rotate(88 529.6 39.2)"/><ellipse cx="541.6" cy="39.7" rx="1.3" ry="0.8" fill="#7c963c" stroke="#6c7434" stroke-width="0.25" transform="rotate(167 541.6 39.7)"/><ellipse cx="560.4" cy="45.4" rx="2.3" ry="1.2" fill="#d2dc92" stroke="#6c7434" stroke-width="0.25" transform="rotate(132 560.4 45.4)"/><ellipse cx="548.5" cy="20.9" rx="1.5" ry="1.0" fill="#8eaa48" stroke="#6c7434" stroke-width="0.25" transform="rotate(18 548.5 20.9)"/><ellipse cx="523.6" cy="32.6" rx="1.2" ry="0.9" fill="#8eaa48" stroke="#6c7434" stroke-width="0.25" transform="rotate(5 523.6 32.6)"/><ellipse cx="570.8" cy="79.7" rx="1.3" ry="1.6" fill="#a4c05a" stroke="#6c7434" stroke-width="0.25" transform="rotate(152 570.8 79.7)"/><ellipse cx="536.3" cy="116.0" rx="1.6" ry="1.1" fill="#9cb452" stroke="#6c7434" stroke-width="0.25" transform="rotate(46 536.3 116.0)"/><ellipse cx="542.1" cy="97.3" rx="1.3" ry="1.2" fill="#d2dc92" stroke="#6c7434" stroke-width="0.25" transform="rotate(52 542.1 97.3)"/><ellipse cx="573.6" cy="104.8" rx="1.0" ry="0.9" fill="#b6cc6a" stroke="#6c7434" stroke-width="0.25" transform="rotate(74 573.6 104.8)"/><ellipse cx="549.9" cy="104.2" rx="1.4" ry="1.0" fill="#8eaa48" stroke="#6c7434" stroke-width="0.25" transform="rotate(8 549.9 104.2)"/><ellipse cx="517.4" cy="86.3" rx="1.0" ry="1.4" fill="#b6cc6a" stroke="#6c7434" stroke-width="0.25" transform="rotate(166 517.4 86.3)"/><ellipse cx="537.5" cy="113.3" rx="1.1" ry="1.6" fill="#9cb452" stroke="#6c7434" stroke-width="0.25" transform="rotate(110 537.5 113.3)"/><ellipse cx="528.2" cy="39.3" rx="1.1" ry="0.8" fill="#b6cc6a" stroke="#6c7434" stroke-width="0.25" transform="rotate(33 528.2 39.3)"/><ellipse cx="519.6" cy="48.6" rx="1.6" ry="1.4" fill="#a4c05a" stroke="#6c7434" stroke-width="0.25" transform="rotate(42 519.6 48.6)"/><ellipse cx="536.7" cy="80.5" rx="1.7" ry="1.5" fill="#7c963c" stroke="#6c7434" stroke-width="0.25" transform="rotate(162 536.7 80.5)"/><ellipse cx="557.9" cy="112.8" rx="2.2" ry="1.4" fill="#7c963c" stroke="#6c7434" stroke-width="0.25" transform="rotate(2 557.9 112.8)"/><ellipse cx="535.1" cy="79.8" rx="1.5" ry="0.9" fill="#8eaa48" stroke="#6c7434" stroke-width="0.25" transform="rotate(58 535.1 79.8)"/><ellipse cx="547.8" cy="73.4" rx="1.1" ry="1.4" fill="#5c6a2c" stroke="#6c7434" stroke-width="0.25" transform="rotate(21 547.8 73.4)"/><ellipse cx="540.0" cy="72.5" rx="1.4" ry="1.2" fill="#4a3e22" stroke="#6c7434" stroke-width="0.25" transform="rotate(56 540.0 72.5)"/><ellipse cx="571.6" cy="91.3" rx="1.7" ry="1.5" fill="#a4c05a" stroke="#6c7434" stroke-width="0.25" transform="rotate(9 571.6 91.3)"/><ellipse cx="556.4" cy="55.1" rx="1.8" ry="1.0" fill="#7c963c" stroke="#6c7434" stroke-width="0.25" transform="rotate(82 556.4 55.1)"/><ellipse cx="553.7" cy="31.0" rx="2.3" ry="1.5" fill="#a4c05a" stroke="#6c7434" stroke-width="0.25" transform="rotate(61 553.7 31.0)"/><ellipse cx="530.3" cy="36.1" rx="2.2" ry="1.0" fill="#7c963c" stroke="#6c7434" stroke-width="0.25" transform="rotate(171 530.3 36.1)"/><ellipse cx="550.4" cy="110.7" rx="1.9" ry="0.8" fill="#a4c05a" stroke="#6c7434" stroke-width="0.25" transform="rotate(31 550.4 110.7)"/><ellipse cx="506.4" cy="52.5" rx="1.1" ry="1.6" fill="#d2dc92" stroke="#6c7434" stroke-width="0.25" transform="rotate(0 506.4 52.5)"/><ellipse cx="529.8" cy="73.2" rx="1.8" ry="0.8" fill="#d2dc92" stroke="#6c7434" stroke-width="0.25" transform="rotate(83 529.8 73.2)"/><ellipse cx="552.8" cy="76.4" rx="2.1" ry="1.2" fill="#6a5a2a" stroke="#6c7434" stroke-width="0.25" transform="rotate(138 552.8 76.4)"/><ellipse cx="548.4" cy="20.9" rx="1.1" ry="0.9" fill="#a4c05a" stroke="#6c7434" stroke-width="0.25" transform="rotate(42 548.4 20.9)"/><ellipse cx="523.7" cy="68.6" rx="1.9" ry="1.5" fill="#b6cc6a" stroke="#6c7434" stroke-width="0.25" transform="rotate(124 523.7 68.6)"/><ellipse cx="518.4" cy="51.1" rx="1.0" ry="0.9" fill="#c6d680" stroke="#6c7434" stroke-width="0.25" transform="rotate(32 518.4 51.1)"/><ellipse cx="525.2" cy="87.5" rx="2.1" ry="1.4" fill="#d2dc92" stroke="#6c7434" stroke-width="0.25" transform="rotate(109 525.2 87.5)"/><ellipse cx="554.1" cy="55.8" rx="2.3" ry="1.1" fill="#b6cc6a" stroke="#6c7434" stroke-width="0.25" transform="rotate(19 554.1 55.8)"/><ellipse cx="530.4" cy="107.3" rx="2.2" ry="1.4" fill="#c6d680" stroke="#6c7434" stroke-width="0.25" transform="rotate(124 530.4 107.3)"/><ellipse cx="547.6" cy="55.4" rx="2.0" ry="1.5" fill="#6a5a2a" stroke="#6c7434" stroke-width="0.25" transform="rotate(72 547.6 55.4)"/><ellipse cx="546.5" cy="59.5" rx="1.1" ry="1.3" fill="#a4c05a" stroke="#6c7434" stroke-width="0.25" transform="rotate(84 546.5 59.5)"/><ellipse cx="530.8" cy="93.5" rx="1.3" ry="1.3" fill="#8eaa48" stroke="#6c7434" stroke-width="0.25" transform="rotate(51 530.8 93.5)"/><ellipse cx="573.7" cy="97.3" rx="1.1" ry="1.4" fill="#9cb452" stroke="#6c7434" stroke-width="0.25" transform="rotate(74 573.7 97.3)"/><ellipse cx="550.5" cy="15.0" rx="1.1" ry="0.9" fill="#c6d680" stroke="#6c7434" stroke-width="0.25" transform="rotate(36 550.5 15.0)"/><ellipse cx="536.4" cy="72.2" rx="1.4" ry="1.6" fill="#d2dc92" stroke="#6c7434" stroke-width="0.25" transform="rotate(162 536.4 72.2)"/><ellipse cx="555.9" cy="111.1" rx="1.8" ry="0.8" fill="#c6d680" stroke="#6c7434" stroke-width="0.25" transform="rotate(180 555.9 111.1)"/><ellipse cx="542.1" cy="18.9" rx="2.3" ry="1.0" fill="#b6cc6a" stroke="#6c7434" stroke-width="0.25" transform="rotate(178 542.1 18.9)"/><ellipse cx="553.8" cy="91.1" rx="1.6" ry="1.4" fill="#b6cc6a" stroke="#6c7434" stroke-width="0.25" transform="rotate(109 553.8 91.1)"/><ellipse cx="512.4" cy="46.2" rx="1.1" ry="1.5" fill="#d2dc92" stroke="#6c7434" stroke-width="0.25" transform="rotate(82 512.4 46.2)"/><ellipse cx="530.7" cy="104.0" rx="2.1" ry="1.0" fill="#a4c05a" stroke="#6c7434" stroke-width="0.25" transform="rotate(55 530.7 104.0)"/><ellipse cx="544.7" cy="39.2" rx="2.1" ry="1.0" fill="#b6cc6a" stroke="#6c7434" stroke-width="0.25" transform="rotate(35 544.7 39.2)"/><ellipse cx="537.3" cy="104.3" rx="2.2" ry="0.9" fill="#d2dc92" stroke="#6c7434" stroke-width="0.25" transform="rotate(91 537.3 104.3)"/><ellipse cx="541.2" cy="72.5" rx="1.5" ry="0.9" fill="#8eaa48" stroke="#6c7434" stroke-width="0.25" transform="rotate(48 541.2 72.5)"/><ellipse cx="506.2" cy="52.4" rx="2.2" ry="1.2" fill="#b6cc6a" stroke="#6c7434" stroke-width="0.25" transform="rotate(154 506.2 52.4)"/><ellipse cx="541.2" cy="100.4" rx="1.4" ry="1.5" fill="#a4c05a" stroke="#6c7434" stroke-width="0.25" transform="rotate(22 541.2 100.4)"/><ellipse cx="570.0" cy="101.6" rx="1.5" ry="1.0" fill="#8eaa48" stroke="#6c7434" stroke-width="0.25" transform="rotate(91 570.0 101.6)"/><ellipse cx="549.3" cy="76.6" rx="1.2" ry="1.4" fill="#9cb452" stroke="#6c7434" stroke-width="0.25" transform="rotate(74 549.3 76.6)"/><ellipse cx="541.0" cy="21.6" rx="1.5" ry="0.8" fill="#a4c05a" stroke="#6c7434" stroke-width="0.25" transform="rotate(160 541.0 21.6)"/><ellipse cx="560.9" cy="82.7" rx="2.2" ry="1.3" fill="#9cb452" stroke="#6c7434" stroke-width="0.25" transform="rotate(65 560.9 82.7)"/><ellipse cx="561.7" cy="52.2" rx="1.4" ry="1.2" fill="#d2dc92" stroke="#6c7434" stroke-width="0.25" transform="rotate(121 561.7 52.2)"/><ellipse cx="554.2" cy="50.0" rx="1.3" ry="1.4" fill="#7c963c" stroke="#6c7434" stroke-width="0.25" transform="rotate(137 554.2 50.0)"/><ellipse cx="553.9" cy="41.8" rx="1.5" ry="1.5" fill="#c6d680" stroke="#6c7434" stroke-width="0.25" transform="rotate(57 553.9 41.8)"/><ellipse cx="574.6" cy="71.7" rx="2.1" ry="1.4" fill="#4a3e22" stroke="#6c7434" stroke-width="0.25" transform="rotate(0 574.6 71.7)"/><ellipse cx="537.7" cy="63.1" rx="1.1" ry="1.3" fill="#8eaa48" stroke="#6c7434" stroke-width="0.25" transform="rotate(4 537.7 63.1)"/><ellipse cx="563.2" cy="88.1" rx="1.2" ry="1.3" fill="#a4c05a" stroke="#6c7434" stroke-width="0.25" transform="rotate(52 563.2 88.1)"/><ellipse cx="535.2" cy="112.5" rx="1.4" ry="1.1" fill="#a4c05a" stroke="#6c7434" stroke-width="0.25" transform="rotate(78 535.2 112.5)"/><ellipse cx="538.9" cy="28.3" rx="2.0" ry="1.4" fill="#b6cc6a" stroke="#6c7434" stroke-width="0.25" transform="rotate(80 538.9 28.3)"/><ellipse cx="515.5" cy="90.6" rx="1.1" ry="1.1" fill="#8eaa48" stroke="#6c7434" stroke-width="0.25" transform="rotate(33 515.5 90.6)"/><ellipse cx="571.3" cy="96.1" rx="1.1" ry="1.2" fill="#a4c05a" stroke="#6c7434" stroke-width="0.25" transform="rotate(65 571.3 96.1)"/><ellipse cx="534.2" cy="51.3" rx="1.7" ry="0.8" fill="#c6d680" stroke="#6c7434" stroke-width="0.25" transform="rotate(73 534.2 51.3)"/><ellipse cx="545.1" cy="106.3" rx="1.7" ry="1.0" fill="#8eaa48" stroke="#6c7434" stroke-width="0.25" transform="rotate(139 545.1 106.3)"/><ellipse cx="518.4" cy="42.8" rx="1.3" ry="1.3" fill="#a4c05a" stroke="#6c7434" stroke-width="0.25" transform="rotate(55 518.4 42.8)"/><ellipse cx="534.6" cy="113.3" rx="1.4" ry="1.2" fill="#d2dc92" stroke="#6c7434" stroke-width="0.25" transform="rotate(153 534.6 113.3)"/><ellipse cx="543.9" cy="64.7" rx="1.8" ry="1.3" fill="#9cb452" stroke="#6c7434" stroke-width="0.25" transform="rotate(138 543.9 64.7)"/><ellipse cx="568.9" cy="93.3" rx="2.3" ry="1.1" fill="#a4c05a" stroke="#6c7434" stroke-width="0.25" transform="rotate(82 568.9 93.3)"/><ellipse cx="549.8" cy="40.9" rx="1.5" ry="1.5" fill="#4a3e22" stroke="#6c7434" stroke-width="0.25" transform="rotate(52 549.8 40.9)"/><ellipse cx="532.3" cy="104.1" rx="2.2" ry="0.9" fill="#a4c05a" stroke="#6c7434" stroke-width="0.25" transform="rotate(128 532.3 104.1)"/><ellipse cx="575.7" cy="75.0" rx="1.4" ry="0.9" fill="#7c963c" stroke="#6c7434" stroke-width="0.25" transform="rotate(147 575.7 75.0)"/><ellipse cx="524.3" cy="92.4" rx="1.2" ry="1.1" fill="#a4c05a" stroke="#6c7434" stroke-width="0.25" transform="rotate(77 524.3 92.4)"/><ellipse cx="532.1" cy="86.4" rx="2.1" ry="0.9" fill="#7c963c" stroke="#6c7434" stroke-width="0.25" transform="rotate(2 532.1 86.4)"/><ellipse cx="527.0" cy="98.1" rx="2.2" ry="1.3" fill="#8eaa48" stroke="#6c7434" stroke-width="0.25" transform="rotate(150 527.0 98.1)"/><ellipse cx="547.5" cy="27.5" rx="1.4" ry="0.9" fill="#7c963c" stroke="#6c7434" stroke-width="0.25" transform="rotate(46 547.5 27.5)"/><ellipse cx="532.2" cy="82.8" rx="2.4" ry="0.9" fill="#b6cc6a" stroke="#6c7434" stroke-width="0.25" transform="rotate(107 532.2 82.8)"/><ellipse cx="566.7" cy="91.1" rx="2.3" ry="1.0" fill="#a4c05a" stroke="#6c7434" stroke-width="0.25" transform="rotate(1 566.7 91.1)"/><ellipse cx="558.1" cy="46.9" rx="2.0" ry="0.7" fill="#9cb452" stroke="#6c7434" stroke-width="0.25" transform="rotate(84 558.1 46.9)"/><ellipse cx="572.3" cy="62.2" rx="1.6" ry="1.5" fill="#9cb452" stroke="#6c7434" stroke-width="0.25" transform="rotate(43 572.3 62.2)"/><ellipse cx="555.3" cy="61.2" rx="2.4" ry="1.6" fill="#7c963c" stroke="#6c7434" stroke-width="0.25" transform="rotate(173 555.3 61.2)"/><ellipse cx="572.6" cy="107.4" rx="1.1" ry="1.4" fill="#a4c05a" stroke="#6c7434" stroke-width="0.25" transform="rotate(151 572.6 107.4)"/><ellipse cx="524.6" cy="42.7" rx="1.8" ry="1.1" fill="#7c963c" stroke="#6c7434" stroke-width="0.25" transform="rotate(84 524.6 42.7)"/><ellipse cx="528.6" cy="45.8" rx="1.3" ry="1.1" fill="#b6cc6a" stroke="#6c7434" stroke-width="0.25" transform="rotate(152 528.6 45.8)"/><ellipse cx="546.6" cy="121.4" rx="2.2" ry="1.3" fill="#a4c05a" stroke="#6c7434" stroke-width="0.25" transform="rotate(70 546.6 121.4)"/><ellipse cx="527.8" cy="54.7" rx="1.2" ry="1.5" fill="#b6cc6a" stroke="#6c7434" stroke-width="0.25" transform="rotate(84 527.8 54.7)"/><ellipse cx="553.4" cy="41.3" rx="1.8" ry="1.1" fill="#d2dc92" stroke="#6c7434" stroke-width="0.25" transform="rotate(160 553.4 41.3)"/><ellipse cx="532.8" cy="84.2" rx="1.7" ry="1.5" fill="#d2dc92" stroke="#6c7434" stroke-width="0.25" transform="rotate(16 532.8 84.2)"/><ellipse cx="538.1" cy="105.5" rx="1.1" ry="0.9" fill="#c6d680" stroke="#6c7434" stroke-width="0.25" transform="rotate(10 538.1 105.5)"/><ellipse cx="568.2" cy="75.7" rx="1.1" ry="1.6" fill="#7c963c" stroke="#6c7434" stroke-width="0.25" transform="rotate(33 568.2 75.7)"/><ellipse cx="554.7" cy="60.6" rx="1.3" ry="1.3" fill="#b6cc6a" stroke="#6c7434" stroke-width="0.25" transform="rotate(106 554.7 60.6)"/><ellipse cx="551.3" cy="25.8" rx="1.1" ry="0.8" fill="#7c963c" stroke="#6c7434" stroke-width="0.25" transform="rotate(9 551.3 25.8)"/><ellipse cx="537.2" cy="105.2" rx="2.1" ry="1.1" fill="#c6d680" stroke="#6c7434" stroke-width="0.25" transform="rotate(63 537.2 105.2)"/><ellipse cx="525.5" cy="89.8" rx="1.9" ry="0.9" fill="#a4c05a" stroke="#6c7434" stroke-width="0.25" transform="rotate(16 525.5 89.8)"/><ellipse cx="535.7" cy="20.5" rx="1.5" ry="1.0" fill="#8eaa48" stroke="#6c7434" stroke-width="0.25" transform="rotate(64 535.7 20.5)"/><ellipse cx="573.3" cy="71.2" rx="2.0" ry="1.0" fill="#d2dc92" stroke="#6c7434" stroke-width="0.25" transform="rotate(132 573.3 71.2)"/><ellipse cx="535.8" cy="34.9" rx="2.1" ry="1.6" fill="#d2dc92" stroke="#6c7434" stroke-width="0.25" transform="rotate(155 535.8 34.9)"/><ellipse cx="511.5" cy="70.3" rx="1.1" ry="1.0" fill="#8eaa48" stroke="#6c7434" stroke-width="0.25" transform="rotate(160 511.5 70.3)"/><ellipse cx="525.2" cy="62.3" rx="1.4" ry="1.3" fill="#8eaa48" stroke="#6c7434" stroke-width="0.25" transform="rotate(16 525.2 62.3)"/><ellipse cx="533.8" cy="110.2" rx="2.0" ry="1.0" fill="#7c963c" stroke="#6c7434" stroke-width="0.25" transform="rotate(147 533.8 110.2)"/><ellipse cx="535.9" cy="114.4" rx="1.9" ry="1.3" fill="#9cb452" stroke="#6c7434" stroke-width="0.25" transform="rotate(159 535.9 114.4)"/><ellipse cx="543.2" cy="27.7" rx="2.1" ry="0.8" fill="#a4c05a" stroke="#6c7434" stroke-width="0.25" transform="rotate(179 543.2 27.7)"/><ellipse cx="537.1" cy="83.9" rx="2.3" ry="0.7" fill="#c6d680" stroke="#6c7434" stroke-width="0.25" transform="rotate(1 537.1 83.9)"/><ellipse cx="548.2" cy="68.2" rx="1.3" ry="1.0" fill="#4a3e22" stroke="#6c7434" stroke-width="0.25" transform="rotate(68 548.2 68.2)"/><ellipse cx="539.6" cy="105.0" rx="1.1" ry="1.1" fill="#7c963c" stroke="#6c7434" stroke-width="0.25" transform="rotate(100 539.6 105.0)"/><ellipse cx="558.6" cy="73.9" rx="1.8" ry="1.6" fill="#a4c05a" stroke="#6c7434" stroke-width="0.25" transform="rotate(53 558.6 73.9)"/><ellipse cx="519.7" cy="106.6" rx="1.3" ry="0.7" fill="#d2dc92" stroke="#6c7434" stroke-width="0.25" transform="rotate(137 519.7 106.6)"/><ellipse cx="525.1" cy="65.2" rx="1.3" ry="1.2" fill="#d2dc92" stroke="#6c7434" stroke-width="0.25" transform="rotate(141 525.1 65.2)"/><ellipse cx="538.4" cy="61.2" rx="2.3" ry="0.9" fill="#d2dc92" stroke="#6c7434" stroke-width="0.25" transform="rotate(138 538.4 61.2)"/><ellipse cx="549.4" cy="32.8" rx="2.2" ry="1.6" fill="#7c963c" stroke="#6c7434" stroke-width="0.25" transform="rotate(0 549.4 32.8)"/><ellipse cx="534.4" cy="72.0" rx="2.1" ry="1.6" fill="#8eaa48" stroke="#6c7434" stroke-width="0.25" transform="rotate(18 534.4 72.0)"/><ellipse cx="530.4" cy="53.3" rx="1.1" ry="1.3" fill="#c6d680" stroke="#6c7434" stroke-width="0.25" transform="rotate(78 530.4 53.3)"/><ellipse cx="546.4" cy="19.3" rx="2.1" ry="0.8" fill="#7c963c" stroke="#6c7434" stroke-width="0.25" transform="rotate(89 546.4 19.3)"/><ellipse cx="536.0" cy="41.2" rx="1.1" ry="0.8" fill="#4a3e22" stroke="#6c7434" stroke-width="0.25" transform="rotate(21 536.0 41.2)"/><ellipse cx="569.9" cy="87.3" rx="1.5" ry="0.8" fill="#a4c05a" stroke="#6c7434" stroke-width="0.25" transform="rotate(51 569.9 87.3)"/><ellipse cx="533.6" cy="112.9" rx="1.3" ry="1.0" fill="#8eaa48" stroke="#6c7434" stroke-width="0.25" transform="rotate(41 533.6 112.9)"/><ellipse cx="573.9" cy="82.7" rx="2.3" ry="0.8" fill="#c6d680" stroke="#6c7434" stroke-width="0.25" transform="rotate(38 573.9 82.7)"/><ellipse cx="560.0" cy="87.4" rx="2.4" ry="1.5" fill="#b6cc6a" stroke="#6c7434" stroke-width="0.25" transform="rotate(13 560.0 87.4)"/><ellipse cx="507.3" cy="47.6" rx="1.4" ry="0.9" fill="#a4c05a" stroke="#6c7434" stroke-width="0.25" transform="rotate(69 507.3 47.6)"/><ellipse cx="559.8" cy="59.6" rx="2.2" ry="0.9" fill="#a4c05a" stroke="#6c7434" stroke-width="0.25" transform="rotate(167 559.8 59.6)"/><ellipse cx="566.9" cy="67.3" rx="2.4" ry="0.7" fill="#a4c05a" stroke="#6c7434" stroke-width="0.25" transform="rotate(7 566.9 67.3)"/><ellipse cx="547.0" cy="49.5" rx="1.2" ry="1.4" fill="#9cb452" stroke="#6c7434" stroke-width="0.25" transform="rotate(48 547.0 49.5)"/><ellipse cx="563.8" cy="102.9" rx="1.8" ry="1.0" fill="#8eaa48" stroke="#6c7434" stroke-width="0.25" transform="rotate(30 563.8 102.9)"/><ellipse cx="572.7" cy="81.8" rx="1.8" ry="1.5" fill="#c6d680" stroke="#6c7434" stroke-width="0.25" transform="rotate(41 572.7 81.8)"/><ellipse cx="541.8" cy="88.7" rx="1.9" ry="1.2" fill="#8eaa48" stroke="#6c7434" stroke-width="0.25" transform="rotate(118 541.8 88.7)"/><ellipse cx="530.0" cy="117.2" rx="1.7" ry="0.8" fill="#a4c05a" stroke="#6c7434" stroke-width="0.25" transform="rotate(174 530.0 117.2)"/><ellipse cx="518.9" cy="68.9" rx="1.0" ry="1.5" fill="#9cb452" stroke="#6c7434" stroke-width="0.25" transform="rotate(102 518.9 68.9)"/><ellipse cx="538.0" cy="63.4" rx="1.9" ry="1.2" fill="#b6cc6a" stroke="#6c7434" stroke-width="0.25" transform="rotate(180 538.0 63.4)"/><ellipse cx="522.1" cy="108.4" rx="1.8" ry="0.9" fill="#a4c05a" stroke="#6c7434" stroke-width="0.25" transform="rotate(92 522.1 108.4)"/><ellipse cx="531.0" cy="40.9" rx="2.1" ry="0.9" fill="#b6cc6a" stroke="#6c7434" stroke-width="0.25" transform="rotate(173 531.0 40.9)"/><ellipse cx="520.0" cy="50.7" rx="1.8" ry="1.6" fill="#8eaa48" stroke="#6c7434" stroke-width="0.25" transform="rotate(168 520.0 50.7)"/><ellipse cx="549.0" cy="60.2" rx="2.2" ry="1.5" fill="#d2dc92" stroke="#6c7434" stroke-width="0.25" transform="rotate(92 549.0 60.2)"/><ellipse cx="538.4" cy="37.5" rx="2.0" ry="1.0" fill="#a4c05a" stroke="#6c7434" stroke-width="0.25" transform="rotate(83 538.4 37.5)"/><ellipse cx="566.8" cy="88.7" rx="2.4" ry="1.6" fill="#a4c05a" stroke="#6c7434" stroke-width="0.25" transform="rotate(22 566.8 88.7)"/><ellipse cx="531.4" cy="82.5" rx="1.8" ry="1.1" fill="#a4c05a" stroke="#6c7434" stroke-width="0.25" transform="rotate(104 531.4 82.5)"/><ellipse cx="526.6" cy="62.8" rx="2.2" ry="0.7" fill="#7c963c" stroke="#6c7434" stroke-width="0.25" transform="rotate(165 526.6 62.8)"/><ellipse cx="564.5" cy="100.4" rx="2.4" ry="1.0" fill="#d2dc92" stroke="#6c7434" stroke-width="0.25" transform="rotate(121 564.5 100.4)"/><ellipse cx="558.8" cy="92.6" rx="2.1" ry="1.4" fill="#9cb452" stroke="#6c7434" stroke-width="0.25" transform="rotate(44 558.8 92.6)"/><ellipse cx="534.2" cy="72.1" rx="2.2" ry="0.7" fill="#4a3e22" stroke="#6c7434" stroke-width="0.25" transform="rotate(162 534.2 72.1)"/><ellipse cx="508.8" cy="59.6" rx="1.8" ry="1.1" fill="#a4c05a" stroke="#6c7434" stroke-width="0.25" transform="rotate(11 508.8 59.6)"/><ellipse cx="531.8" cy="38.7" rx="1.5" ry="1.6" fill="#5c6a2c" stroke="#6c7434" stroke-width="0.25" transform="rotate(109 531.8 38.7)"/><ellipse cx="540.0" cy="84.4" rx="2.3" ry="0.8" fill="#c6d680" stroke="#6c7434" stroke-width="0.25" transform="rotate(62 540.0 84.4)"/><ellipse cx="519.1" cy="89.9" rx="1.5" ry="0.9" fill="#9cb452" stroke="#6c7434" stroke-width="0.25" transform="rotate(107 519.1 89.9)"/><ellipse cx="530.2" cy="106.2" rx="2.1" ry="1.4" fill="#b6cc6a" stroke="#6c7434" stroke-width="0.25" transform="rotate(143 530.2 106.2)"/><ellipse cx="575.0" cy="92.4" rx="2.0" ry="1.0" fill="#7c963c" stroke="#6c7434" stroke-width="0.25" transform="rotate(121 575.0 92.4)"/><ellipse cx="516.1" cy="83.5" rx="1.2" ry="0.8" fill="#c6d680" stroke="#6c7434" stroke-width="0.25" transform="rotate(124 516.1 83.5)"/><ellipse cx="538.8" cy="25.1" rx="1.5" ry="0.7" fill="#7c963c" stroke="#6c7434" stroke-width="0.25" transform="rotate(92 538.8 25.1)"/><ellipse cx="557.6" cy="43.5" rx="1.4" ry="0.8" fill="#d2dc92" stroke="#6c7434" stroke-width="0.25" transform="rotate(121 557.6 43.5)"/><ellipse cx="546.7" cy="58.5" rx="2.1" ry="1.3" fill="#8eaa48" stroke="#6c7434" stroke-width="0.25" transform="rotate(117 546.7 58.5)"/><ellipse cx="546.1" cy="87.3" rx="2.3" ry="1.1" fill="#9cb452" stroke="#6c7434" stroke-width="0.25" transform="rotate(64 546.1 87.3)"/><ellipse cx="521.1" cy="108.5" rx="2.0" ry="1.0" fill="#9cb452" stroke="#6c7434" stroke-width="0.25" transform="rotate(92 521.1 108.5)"/><ellipse cx="554.0" cy="84.1" rx="1.7" ry="1.5" fill="#b6cc6a" stroke="#6c7434" stroke-width="0.25" transform="rotate(76 554.0 84.1)"/><ellipse cx="561.0" cy="93.7" rx="1.1" ry="1.2" fill="#a4c05a" stroke="#6c7434" stroke-width="0.25" transform="rotate(83 561.0 93.7)"/><ellipse cx="513.5" cy="56.7" rx="1.7" ry="1.3" fill="#a4c05a" stroke="#6c7434" stroke-width="0.25" transform="rotate(25 513.5 56.7)"/><ellipse cx="549.1" cy="60.8" rx="1.5" ry="1.1" fill="#a4c05a" stroke="#6c7434" stroke-width="0.25" transform="rotate(107 549.1 60.8)"/><ellipse cx="574.7" cy="81.5" rx="2.1" ry="0.9" fill="#a4c05a" stroke="#6c7434" stroke-width="0.25" transform="rotate(11 574.7 81.5)"/><ellipse cx="527.7" cy="85.8" rx="1.9" ry="1.0" fill="#b6cc6a" stroke="#6c7434" stroke-width="0.25" transform="rotate(96 527.7 85.8)"/><ellipse cx="574.0" cy="65.4" rx="1.1" ry="1.2" fill="#b6cc6a" stroke="#6c7434" stroke-width="0.25" transform="rotate(163 574.0 65.4)"/><ellipse cx="567.0" cy="102.6" rx="1.2" ry="1.2" fill="#8eaa48" stroke="#6c7434" stroke-width="0.25" transform="rotate(176 567.0 102.6)"/><ellipse cx="527.6" cy="61.1" rx="1.0" ry="1.5" fill="#d2dc92" stroke="#6c7434" stroke-width="0.25" transform="rotate(26 527.6 61.1)"/><ellipse cx="547.9" cy="113.7" rx="2.3" ry="1.1" fill="#d2dc92" stroke="#6c7434" stroke-width="0.25" transform="rotate(115 547.9 113.7)"/><ellipse cx="564.0" cy="54.7" rx="1.2" ry="1.1" fill="#d2dc92" stroke="#6c7434" stroke-width="0.25" transform="rotate(21 564.0 54.7)"/><ellipse cx="552.8" cy="72.5" rx="1.8" ry="1.0" fill="#d2dc92" stroke="#6c7434" stroke-width="0.25" transform="rotate(138 552.8 72.5)"/><ellipse cx="521.4" cy="41.2" rx="2.1" ry="1.0" fill="#c6d680" stroke="#6c7434" stroke-width="0.25" transform="rotate(6 521.4 41.2)"/><ellipse cx="520.4" cy="39.1" rx="1.5" ry="1.1" fill="#a4c05a" stroke="#6c7434" stroke-width="0.25" transform="rotate(13 520.4 39.1)"/><ellipse cx="545.3" cy="86.0" rx="2.0" ry="1.2" fill="#a4c05a" stroke="#6c7434" stroke-width="0.25" transform="rotate(115 545.3 86.0)"/><ellipse cx="529.6" cy="86.7" rx="1.3" ry="1.0" fill="#7c963c" stroke="#6c7434" stroke-width="0.25" transform="rotate(35 529.6 86.7)"/><ellipse cx="537.9" cy="31.8" rx="1.4" ry="1.5" fill="#9cb452" stroke="#6c7434" stroke-width="0.25" transform="rotate(80 537.9 31.8)"/><ellipse cx="533.5" cy="27.4" rx="2.1" ry="0.8" fill="#a4c05a" stroke="#6c7434" stroke-width="0.25" transform="rotate(76 533.5 27.4)"/><ellipse cx="570.6" cy="70.4" rx="2.3" ry="0.7" fill="#7c963c" stroke="#6c7434" stroke-width="0.25" transform="rotate(106 570.6 70.4)"/><ellipse cx="523.8" cy="59.8" rx="2.2" ry="0.8" fill="#9cb452" stroke="#6c7434" stroke-width="0.25" transform="rotate(80 523.8 59.8)"/><ellipse cx="511.7" cy="69.6" rx="1.2" ry="1.2" fill="#d2dc92" stroke="#6c7434" stroke-width="0.25" transform="rotate(125 511.7 69.6)"/><ellipse cx="526.9" cy="39.2" rx="2.0" ry="0.7" fill="#c6d680" stroke="#6c7434" stroke-width="0.25" transform="rotate(137 526.9 39.2)"/><ellipse cx="521.6" cy="110.4" rx="1.8" ry="0.8" fill="#9cb452" stroke="#6c7434" stroke-width="0.25" transform="rotate(110 521.6 110.4)"/><ellipse cx="568.9" cy="103.3" rx="1.6" ry="1.4" fill="#c6d680" stroke="#6c7434" stroke-width="0.25" transform="rotate(145 568.9 103.3)"/><ellipse cx="554.2" cy="71.8" rx="1.5" ry="1.2" fill="#d2dc92" stroke="#6c7434" stroke-width="0.25" transform="rotate(159 554.2 71.8)"/><ellipse cx="539.7" cy="80.0" rx="1.1" ry="1.6" fill="#7c963c" stroke="#6c7434" stroke-width="0.25" transform="rotate(115 539.7 80.0)"/><ellipse cx="519.6" cy="101.1" rx="2.0" ry="1.1" fill="#c6d680" stroke="#6c7434" stroke-width="0.25" transform="rotate(116 519.6 101.1)"/><ellipse cx="530.0" cy="57.2" rx="1.9" ry="1.2" fill="#8eaa48" stroke="#6c7434" stroke-width="0.25" transform="rotate(31 530.0 57.2)"/><ellipse cx="546.2" cy="101.2" rx="1.7" ry="1.4" fill="#a4c05a" stroke="#6c7434" stroke-width="0.25" transform="rotate(129 546.2 101.2)"/><ellipse cx="539.8" cy="55.0" rx="2.2" ry="1.1" fill="#8eaa48" stroke="#6c7434" stroke-width="0.25" transform="rotate(27 539.8 55.0)"/><ellipse cx="571.7" cy="88.0" rx="1.2" ry="1.5" fill="#c6d680" stroke="#6c7434" stroke-width="0.25" transform="rotate(26 571.7 88.0)"/><ellipse cx="526.1" cy="107.4" rx="1.9" ry="1.6" fill="#7c963c" stroke="#6c7434" stroke-width="0.25" transform="rotate(71 526.1 107.4)"/><ellipse cx="544.6" cy="51.8" rx="2.2" ry="1.1" fill="#4a3e22" stroke="#6c7434" stroke-width="0.25" transform="rotate(53 544.6 51.8)"/><ellipse cx="523.9" cy="86.8" rx="2.2" ry="0.7" fill="#b6cc6a" stroke="#6c7434" stroke-width="0.25" transform="rotate(36 523.9 86.8)"/><ellipse cx="508.4" cy="59.9" rx="1.3" ry="1.3" fill="#8eaa48" stroke="#6c7434" stroke-width="0.25" transform="rotate(98 508.4 59.9)"/><ellipse cx="535.4" cy="97.0" rx="1.6" ry="0.8" fill="#9cb452" stroke="#6c7434" stroke-width="0.25" transform="rotate(73 535.4 97.0)"/><ellipse cx="561.2" cy="46.2" rx="1.3" ry="1.2" fill="#b6cc6a" stroke="#6c7434" stroke-width="0.25" transform="rotate(115 561.2 46.2)"/><ellipse cx="563.1" cy="101.6" rx="1.2" ry="1.0" fill="#8eaa48" stroke="#6c7434" stroke-width="0.25" transform="rotate(76 563.1 101.6)"/><ellipse cx="549.3" cy="117.5" rx="1.7" ry="0.9" fill="#c6d680" stroke="#6c7434" stroke-width="0.25" transform="rotate(172 549.3 117.5)"/><ellipse cx="537.2" cy="47.2" rx="2.1" ry="0.7" fill="#b6cc6a" stroke="#6c7434" stroke-width="0.25" transform="rotate(93 537.2 47.2)"/><ellipse cx="541.3" cy="101.7" rx="1.2" ry="1.6" fill="#c6d680" stroke="#6c7434" stroke-width="0.25" transform="rotate(156 541.3 101.7)"/><ellipse cx="547.7" cy="96.0" rx="2.0" ry="0.9" fill="#a4c05a" stroke="#6c7434" stroke-width="0.25" transform="rotate(157 547.7 96.0)"/><ellipse cx="513.1" cy="56.6" rx="1.7" ry="0.7" fill="#a4c05a" stroke="#6c7434" stroke-width="0.25" transform="rotate(76 513.1 56.6)"/><ellipse cx="540.8" cy="64.7" rx="1.9" ry="0.8" fill="#c6d680" stroke="#6c7434" stroke-width="0.25" transform="rotate(94 540.8 64.7)"/><ellipse cx="546.2" cy="112.4" rx="1.3" ry="1.0" fill="#b6cc6a" stroke="#6c7434" stroke-width="0.25" transform="rotate(134 546.2 112.4)"/><ellipse cx="525.8" cy="52.5" rx="1.5" ry="1.1" fill="#7c963c" stroke="#6c7434" stroke-width="0.25" transform="rotate(43 525.8 52.5)"/><ellipse cx="514.4" cy="83.8" rx="1.8" ry="1.5" fill="#a4c05a" stroke="#6c7434" stroke-width="0.25" transform="rotate(155 514.4 83.8)"/><ellipse cx="553.8" cy="55.9" rx="1.2" ry="0.7" fill="#a4c05a" stroke="#6c7434" stroke-width="0.25" transform="rotate(80 553.8 55.9)"/><ellipse cx="556.7" cy="115.3" rx="1.6" ry="1.3" fill="#7c963c" stroke="#6c7434" stroke-width="0.25" transform="rotate(2 556.7 115.3)"/><ellipse cx="549.5" cy="41.8" rx="2.2" ry="1.3" fill="#a4c05a" stroke="#6c7434" stroke-width="0.25" transform="rotate(76 549.5 41.8)"/><ellipse cx="577.5" cy="91.9" rx="1.2" ry="1.4" fill="#b6cc6a" stroke="#6c7434" stroke-width="0.25" transform="rotate(53 577.5 91.9)"/><ellipse cx="567.7" cy="63.6" rx="1.0" ry="1.5" fill="#7c963c" stroke="#6c7434" stroke-width="0.25" transform="rotate(44 567.7 63.6)"/><ellipse cx="541.7" cy="36.8" rx="2.0" ry="1.5" fill="#c6d680" stroke="#6c7434" stroke-width="0.25" transform="rotate(28 541.7 36.8)"/><ellipse cx="576.2" cy="96.5" rx="1.7" ry="1.4" fill="#c6d680" stroke="#6c7434" stroke-width="0.25" transform="rotate(107 576.2 96.5)"/><ellipse cx="544.0" cy="70.3" rx="1.4" ry="1.0" fill="#8eaa48" stroke="#6c7434" stroke-width="0.25" transform="rotate(59 544.0 70.3)"/><ellipse cx="521.0" cy="46.4" rx="2.2" ry="0.9" fill="#a4c05a" stroke="#6c7434" stroke-width="0.25" transform="rotate(29 521.0 46.4)"/><ellipse cx="552.1" cy="56.4" rx="2.2" ry="1.6" fill="#7c963c" stroke="#6c7434" stroke-width="0.25" transform="rotate(64 552.1 56.4)"/><ellipse cx="554.5" cy="79.1" rx="1.7" ry="1.6" fill="#6a5a2a" stroke="#6c7434" stroke-width="0.25" transform="rotate(80 554.5 79.1)"/><ellipse cx="553.1" cy="38.7" rx="2.2" ry="0.7" fill="#a4c05a" stroke="#6c7434" stroke-width="0.25" transform="rotate(17 553.1 38.7)"/><ellipse cx="543.8" cy="47.8" rx="1.4" ry="0.9" fill="#7c963c" stroke="#6c7434" stroke-width="0.25" transform="rotate(19 543.8 47.8)"/><ellipse cx="540.7" cy="49.9" rx="1.9" ry="1.4" fill="#7c963c" stroke="#6c7434" stroke-width="0.25" transform="rotate(137 540.7 49.9)"/><line x1="546.3" y1="76.8" x2="545.1" y2="78.9" stroke="#c8822e" stroke-width="0.9" opacity="0.8"/><line x1="528.5" y1="33.0" x2="531.0" y2="34.3" stroke="#d8a048" stroke-width="0.9" opacity="0.8"/><line x1="542.6" y1="79.4" x2="540.3" y2="81.4" stroke="#b8702a" stroke-width="0.9" opacity="0.8"/><line x1="549.7" y1="47.8" x2="552.9" y2="49.0" stroke="#d8a048" stroke-width="0.9" opacity="0.8"/><line x1="543.6" y1="80.9" x2="546.1" y2="81.2" stroke="#d8a048" stroke-width="0.9" opacity="0.8"/><line x1="544.6" y1="19.6" x2="547.0" y2="20.5" stroke="#c8822e" stroke-width="0.9" opacity="0.8"/><line x1="553.5" y1="61.4" x2="552.9" y2="63.1" stroke="#c8822e" stroke-width="0.9" opacity="0.8"/><line x1="550.1" y1="105.1" x2="551.8" y2="105.5" stroke="#d08a38" stroke-width="0.9" opacity="0.8"/><line x1="562.3" y1="52.2" x2="560.9" y2="53.5" stroke="#d08a38" stroke-width="0.9" opacity="0.8"/><line x1="548.4" y1="73.1" x2="547.9" y2="75.7" stroke="#d08a38" stroke-width="0.9" opacity="0.8"/><line x1="539.2" y1="104.7" x2="540.0" y2="106.5" stroke="#a86428" stroke-width="0.9" opacity="0.8"/><line x1="524.2" y1="115.4" x2="521.0" y2="115.9" stroke="#d8a048" stroke-width="0.9" opacity="0.8"/><line x1="566.1" y1="86.6" x2="567.0" y2="89.4" stroke="#c8822e" stroke-width="0.9" opacity="0.8"/><line x1="552.7" y1="48.8" x2="553.5" y2="51.6" stroke="#b8702a" stroke-width="0.9" opacity="0.8"/><line x1="542.0" y1="118.9" x2="540.5" y2="121.2" stroke="#a86428" stroke-width="0.9" opacity="0.8"/><line x1="524.5" y1="90.1" x2="525.8" y2="92.8" stroke="#c8822e" stroke-width="0.9" opacity="0.8"/><line x1="524.6" y1="61.8" x2="527.6" y2="62.8" stroke="#d8a048" stroke-width="0.9" opacity="0.8"/><line x1="545.6" y1="21.6" x2="547.4" y2="24.6" stroke="#d08a38" stroke-width="0.9" opacity="0.8"/><line x1="544.4" y1="43.2" x2="545.2" y2="46.2" stroke="#b8702a" stroke-width="0.9" opacity="0.8"/><line x1="563.0" y1="50.0" x2="561.1" y2="50.5" stroke="#d8a048" stroke-width="0.9" opacity="0.8"/><line x1="552.4" y1="113.5" x2="552.3" y2="115.0" stroke="#d08a38" stroke-width="0.9" opacity="0.8"/><line x1="509.8" y1="61.4" x2="509.0" y2="63.0" stroke="#d08a38" stroke-width="0.9" opacity="0.8"/><line x1="558.9" y1="89.6" x2="560.6" y2="91.9" stroke="#b8702a" stroke-width="0.9" opacity="0.8"/><line x1="523.8" y1="57.8" x2="520.6" y2="58.5" stroke="#a86428" stroke-width="0.9" opacity="0.8"/><line x1="546.9" y1="11.0" x2="543.8" y2="12.3" stroke="#a86428" stroke-width="0.9" opacity="0.8"/><line x1="555.0" y1="81.2" x2="554.8" y2="83.9" stroke="#a86428" stroke-width="0.9" opacity="0.8"/><line x1="532.5" y1="72.3" x2="531.9" y2="74.7" stroke="#c8822e" stroke-width="0.9" opacity="0.8"/><line x1="547.1" y1="26.0" x2="546.0" y2="28.0" stroke="#a86428" stroke-width="0.9" opacity="0.8"/><line x1="524.8" y1="50.0" x2="523.2" y2="51.7" stroke="#d08a38" stroke-width="0.9" opacity="0.8"/><line x1="542.7" y1="78.3" x2="544.8" y2="79.1" stroke="#a86428" stroke-width="0.9" opacity="0.8"/><line x1="539.1" y1="95.8" x2="537.7" y2="98.1" stroke="#d8a048" stroke-width="0.9" opacity="0.8"/><line x1="521.5" y1="56.6" x2="519.9" y2="57.1" stroke="#b8702a" stroke-width="0.9" opacity="0.8"/><line x1="547.0" y1="17.2" x2="544.0" y2="18.7" stroke="#d08a38" stroke-width="0.9" opacity="0.8"/><line x1="512.0" y1="70.9" x2="511.8" y2="72.4" stroke="#a86428" stroke-width="0.9" opacity="0.8"/><line x1="513.4" y1="72.1" x2="515.7" y2="72.8" stroke="#c8822e" stroke-width="0.9" opacity="0.8"/><line x1="561.1" y1="49.3" x2="558.5" y2="50.9" stroke="#b8702a" stroke-width="0.9" opacity="0.8"/><line x1="520.4" y1="68.2" x2="518.8" y2="69.2" stroke="#c8822e" stroke-width="0.9" opacity="0.8"/><line x1="532.7" y1="100.3" x2="529.9" y2="100.7" stroke="#a86428" stroke-width="0.9" opacity="0.8"/><line x1="537.6" y1="106.9" x2="537.4" y2="109.1" stroke="#c8822e" stroke-width="0.9" opacity="0.8"/><line x1="536.8" y1="80.9" x2="538.1" y2="83.3" stroke="#d08a38" stroke-width="0.9" opacity="0.8"/><line x1="520.3" y1="103.1" x2="518.0" y2="105.6" stroke="#c8822e" stroke-width="0.9" opacity="0.8"/><line x1="571.5" y1="101.3" x2="573.4" y2="101.8" stroke="#d08a38" stroke-width="0.9" opacity="0.8"/><line x1="543.1" y1="81.2" x2="542.2" y2="83.2" stroke="#b8702a" stroke-width="0.9" opacity="0.8"/><line x1="523.5" y1="103.0" x2="526.5" y2="104.1" stroke="#d8a048" stroke-width="0.9" opacity="0.8"/><line x1="533.3" y1="33.1" x2="533.8" y2="35.4" stroke="#c8822e" stroke-width="0.9" opacity="0.8"/><line x1="520.9" y1="82.3" x2="522.6" y2="84.1" stroke="#d08a38" stroke-width="0.9" opacity="0.8"/><line x1="538.8" y1="19.7" x2="541.4" y2="21.8" stroke="#d8a048" stroke-width="0.9" opacity="0.8"/><line x1="556.0" y1="112.1" x2="556.3" y2="114.8" stroke="#d8a048" stroke-width="0.9" opacity="0.8"/><line x1="516.2" y1="89.7" x2="519.7" y2="90.1" stroke="#a86428" stroke-width="0.9" opacity="0.8"/><line x1="536.5" y1="76.4" x2="538.5" y2="78.5" stroke="#b8702a" stroke-width="0.9" opacity="0.8"/><line x1="554.9" y1="36.4" x2="553.1" y2="36.8" stroke="#d08a38" stroke-width="0.9" opacity="0.8"/><line x1="561.5" y1="77.6" x2="563.2" y2="79.7" stroke="#d08a38" stroke-width="0.9" opacity="0.8"/><line x1="550.1" y1="32.9" x2="547.5" y2="33.2" stroke="#b8702a" stroke-width="0.9" opacity="0.8"/><line x1="549.8" y1="61.8" x2="548.3" y2="63.9" stroke="#a86428" stroke-width="0.9" opacity="0.8"/><line x1="564.6" y1="87.1" x2="565.2" y2="89.0" stroke="#c8822e" stroke-width="0.9" opacity="0.8"/><line x1="552.6" y1="77.1" x2="552.0" y2="78.7" stroke="#a86428" stroke-width="0.9" opacity="0.8"/><line x1="576.1" y1="94.1" x2="574.5" y2="97.0" stroke="#d08a38" stroke-width="0.9" opacity="0.8"/><line x1="518.9" y1="103.0" x2="516.8" y2="104.9" stroke="#a86428" stroke-width="0.9" opacity="0.8"/><line x1="520.2" y1="56.9" x2="521.5" y2="59.9" stroke="#a86428" stroke-width="0.9" opacity="0.8"/><line x1="515.9" y1="84.6" x2="517.4" y2="86.7" stroke="#c8822e" stroke-width="0.9" opacity="0.8"/><line x1="554.9" y1="38.9" x2="554.9" y2="42.3" stroke="#c8822e" stroke-width="0.9" opacity="0.8"/><line x1="522.7" y1="66.9" x2="521.7" y2="69.1" stroke="#d8a048" stroke-width="0.9" opacity="0.8"/><line x1="515.4" y1="50.0" x2="513.6" y2="51.3" stroke="#d8a048" stroke-width="0.9" opacity="0.8"/><line x1="540.1" y1="94.9" x2="541.9" y2="95.8" stroke="#c8822e" stroke-width="0.9" opacity="0.8"/><line x1="541.1" y1="121.4" x2="544.3" y2="122.6" stroke="#d8a048" stroke-width="0.9" opacity="0.8"/><line x1="557.0" y1="85.4" x2="560.2" y2="85.7" stroke="#b8702a" stroke-width="0.9" opacity="0.8"/><line x1="523.5" y1="58.6" x2="522.3" y2="60.7" stroke="#d8a048" stroke-width="0.9" opacity="0.8"/><line x1="569.0" y1="93.1" x2="570.3" y2="93.8" stroke="#b8702a" stroke-width="0.9" opacity="0.8"/><line x1="543.2" y1="81.1" x2="545.3" y2="82.5" stroke="#c8822e" stroke-width="0.9" opacity="0.8"/><line x1="553.2" y1="85.7" x2="551.8" y2="86.8" stroke="#b8702a" stroke-width="0.9" opacity="0.8"/><line x1="555.1" y1="36.3" x2="556.7" y2="38.6" stroke="#d08a38" stroke-width="0.9" opacity="0.8"/><line x1="540.3" y1="94.4" x2="540.3" y2="97.5" stroke="#c8822e" stroke-width="0.9" opacity="0.8"/><line x1="563.0" y1="78.6" x2="562.2" y2="80.6" stroke="#a86428" stroke-width="0.9" opacity="0.8"/><line x1="515.1" y1="59.4" x2="513.4" y2="61.9" stroke="#d08a38" stroke-width="0.9" opacity="0.8"/><line x1="550.1" y1="48.6" x2="547.7" y2="49.5" stroke="#d8a048" stroke-width="0.9" opacity="0.8"/><line x1="526.8" y1="28.5" x2="526.4" y2="30.1" stroke="#d08a38" stroke-width="0.9" opacity="0.8"/><line x1="512.9" y1="48.6" x2="512.8" y2="50.3" stroke="#b8702a" stroke-width="0.9" opacity="0.8"/><line x1="539.0" y1="37.2" x2="535.9" y2="37.5" stroke="#d8a048" stroke-width="0.9" opacity="0.8"/><line x1="546.7" y1="20.0" x2="547.3" y2="21.8" stroke="#d8a048" stroke-width="0.9" opacity="0.8"/><line x1="547.7" y1="15.1" x2="546.4" y2="17.2" stroke="#d8a048" stroke-width="0.9" opacity="0.8"/><line x1="531.1" y1="45.5" x2="529.3" y2="47.3" stroke="#a86428" stroke-width="0.9" opacity="0.8"/><line x1="561.1" y1="44.8" x2="564.1" y2="46.0" stroke="#d8a048" stroke-width="0.9" opacity="0.8"/><line x1="555.9" y1="118.5" x2="554.2" y2="118.8" stroke="#d08a38" stroke-width="0.9" opacity="0.8"/><line x1="532.7" y1="51.6" x2="531.2" y2="52.6" stroke="#d08a38" stroke-width="0.9" opacity="0.8"/><line x1="562.8" y1="76.7" x2="561.1" y2="78.1" stroke="#d8a048" stroke-width="0.9" opacity="0.8"/><line x1="576.1" y1="76.6" x2="573.7" y2="78.2" stroke="#d08a38" stroke-width="0.9" opacity="0.8"/><line x1="524.5" y1="87.3" x2="523.3" y2="89.3" stroke="#d08a38" stroke-width="0.9" opacity="0.8"/><line x1="575.0" y1="79.9" x2="577.2" y2="82.0" stroke="#b8702a" stroke-width="0.9" opacity="0.8"/><line x1="527.8" y1="41.5" x2="528.8" y2="44.4" stroke="#c8822e" stroke-width="0.9" opacity="0.8"/><line x1="536.1" y1="91.4" x2="535.7" y2="93.4" stroke="#a86428" stroke-width="0.9" opacity="0.8"/><line x1="539.0" y1="29.1" x2="539.7" y2="31.7" stroke="#a86428" stroke-width="0.9" opacity="0.8"/><line x1="529.5" y1="42.4" x2="527.4" y2="44.1" stroke="#b8702a" stroke-width="0.9" opacity="0.8"/><line x1="576.6" y1="83.6" x2="578.7" y2="85.3" stroke="#d8a048" stroke-width="0.9" opacity="0.8"/><line x1="573.7" y1="90.1" x2="570.9" y2="91.1" stroke="#d08a38" stroke-width="0.9" opacity="0.8"/><line x1="514.2" y1="98.9" x2="512.5" y2="99.9" stroke="#b8702a" stroke-width="0.9" opacity="0.8"/><line x1="566.8" y1="102.6" x2="568.6" y2="103.6" stroke="#a86428" stroke-width="0.9" opacity="0.8"/><line x1="565.6" y1="67.0" x2="566.9" y2="70.2" stroke="#d08a38" stroke-width="0.9" opacity="0.8"/><line x1="554.2" y1="43.8" x2="554.2" y2="46.9" stroke="#c8822e" stroke-width="0.9" opacity="0.8"/><line x1="537.8" y1="120.5" x2="540.8" y2="121.5" stroke="#d8a048" stroke-width="0.9" opacity="0.8"/><line x1="544.8" y1="14.9" x2="542.9" y2="16.1" stroke="#a86428" stroke-width="0.9" opacity="0.8"/><line x1="568.6" y1="98.0" x2="566.8" y2="98.7" stroke="#b8702a" stroke-width="0.9" opacity="0.8"/><line x1="562.2" y1="97.5" x2="559.0" y2="97.6" stroke="#b8702a" stroke-width="0.9" opacity="0.8"/><line x1="561.2" y1="102.2" x2="559.7" y2="104.8" stroke="#a86428" stroke-width="0.9" opacity="0.8"/><line x1="554.7" y1="105.1" x2="553.2" y2="106.8" stroke="#b8702a" stroke-width="0.9" opacity="0.8"/><line x1="552.8" y1="98.3" x2="554.6" y2="99.3" stroke="#c8822e" stroke-width="0.9" opacity="0.8"/><line x1="566.3" y1="90.5" x2="564.8" y2="92.8" stroke="#d8a048" stroke-width="0.9" opacity="0.8"/><line x1="572.4" y1="57.0" x2="570.1" y2="58.6" stroke="#d8a048" stroke-width="0.9" opacity="0.8"/><line x1="551.2" y1="109.2" x2="553.5" y2="110.9" stroke="#d8a048" stroke-width="0.9" opacity="0.8"/><line x1="519.1" y1="64.8" x2="520.2" y2="68.1" stroke="#d08a38" stroke-width="0.9" opacity="0.8"/><line x1="559.2" y1="53.7" x2="559.5" y2="56.9" stroke="#c8822e" stroke-width="0.9" opacity="0.8"/><line x1="558.6" y1="93.9" x2="557.8" y2="95.5" stroke="#d08a38" stroke-width="0.9" opacity="0.8"/><line x1="557.4" y1="86.2" x2="555.5" y2="87.6" stroke="#d8a048" stroke-width="0.9" opacity="0.8"/><line x1="530.7" y1="70.6" x2="532.6" y2="71.3" stroke="#d08a38" stroke-width="0.9" opacity="0.8"/><line x1="530.2" y1="89.1" x2="528.3" y2="91.9" stroke="#d8a048" stroke-width="0.9" opacity="0.8"/><line x1="548.5" y1="43.4" x2="546.4" y2="44.2" stroke="#d8a048" stroke-width="0.9" opacity="0.8"/><line x1="529.7" y1="74.6" x2="532.4" y2="75.0" stroke="#b8702a" stroke-width="0.9" opacity="0.8"/><line x1="537.7" y1="54.6" x2="537.7" y2="56.9" stroke="#a86428" stroke-width="0.9" opacity="0.8"/><line x1="535.7" y1="23.5" x2="538.0" y2="24.4" stroke="#a86428" stroke-width="0.9" opacity="0.8"/><line x1="539.4" y1="104.2" x2="540.2" y2="107.1" stroke="#d8a048" stroke-width="0.9" opacity="0.8"/><line x1="527.3" y1="86.1" x2="525.7" y2="88.0" stroke="#d08a38" stroke-width="0.9" opacity="0.8"/><line x1="522.1" y1="88.9" x2="520.5" y2="91.8" stroke="#d8a048" stroke-width="0.9" opacity="0.8"/><line x1="553.0" y1="25.4" x2="554.1" y2="28.4" stroke="#d8a048" stroke-width="0.9" opacity="0.8"/><line x1="549.3" y1="54.5" x2="547.7" y2="56.8" stroke="#d8a048" stroke-width="0.9" opacity="0.8"/><line x1="533.9" y1="55.1" x2="533.8" y2="57.6" stroke="#c8822e" stroke-width="0.9" opacity="0.8"/><line x1="529.0" y1="101.9" x2="531.3" y2="102.0" stroke="#b8702a" stroke-width="0.9" opacity="0.8"/><line x1="522.9" y1="92.2" x2="525.8" y2="92.8" stroke="#c8822e" stroke-width="0.9" opacity="0.8"/><line x1="523.6" y1="57.9" x2="524.2" y2="59.3" stroke="#d08a38" stroke-width="0.9" opacity="0.8"/><line x1="538.9" y1="82.3" x2="540.5" y2="85.3" stroke="#d08a38" stroke-width="0.9" opacity="0.8"/><line x1="526.2" y1="103.6" x2="524.9" y2="105.4" stroke="#a86428" stroke-width="0.9" opacity="0.8"/><line x1="568.0" y1="113.2" x2="568.4" y2="114.9" stroke="#d8a048" stroke-width="0.9" opacity="0.8"/><line x1="539.4" y1="86.5" x2="537.5" y2="87.2" stroke="#a86428" stroke-width="0.9" opacity="0.8"/><line x1="528.6" y1="103.0" x2="531.1" y2="104.2" stroke="#c8822e" stroke-width="0.9" opacity="0.8"/><line x1="561.6" y1="96.0" x2="562.6" y2="97.6" stroke="#d08a38" stroke-width="0.9" opacity="0.8"/><line x1="542.2" y1="78.8" x2="543.6" y2="81.4" stroke="#a86428" stroke-width="0.9" opacity="0.8"/><line x1="557.6" y1="51.9" x2="556.5" y2="55.0" stroke="#b8702a" stroke-width="0.9" opacity="0.8"/><line x1="542.5" y1="69.7" x2="545.5" y2="71.5" stroke="#a86428" stroke-width="0.9" opacity="0.8"/><line x1="533.4" y1="33.3" x2="534.4" y2="35.1" stroke="#d08a38" stroke-width="0.9" opacity="0.8"/><line x1="551.5" y1="84.8" x2="553.8" y2="86.7" stroke="#a86428" stroke-width="0.9" opacity="0.8"/><line x1="514.4" y1="92.0" x2="512.3" y2="92.9" stroke="#b8702a" stroke-width="0.9" opacity="0.8"/><line x1="538.6" y1="59.5" x2="540.0" y2="60.2" stroke="#c8822e" stroke-width="0.9" opacity="0.8"/><line x1="570.3" y1="104.7" x2="569.6" y2="106.3" stroke="#a86428" stroke-width="0.9" opacity="0.8"/><line x1="539.8" y1="56.7" x2="537.7" y2="57.1" stroke="#d08a38" stroke-width="0.9" opacity="0.8"/><line x1="554.3" y1="24.7" x2="555.8" y2="25.3" stroke="#d8a048" stroke-width="0.9" opacity="0.8"/><line x1="519.6" y1="76.4" x2="517.1" y2="77.8" stroke="#d08a38" stroke-width="0.9" opacity="0.8"/><line x1="551.2" y1="24.5" x2="552.0" y2="26.0" stroke="#c8822e" stroke-width="0.9" opacity="0.8"/><line x1="543.4" y1="85.7" x2="544.9" y2="86.9" stroke="#b8702a" stroke-width="0.9" opacity="0.8"/><line x1="554.7" y1="52.2" x2="553.0" y2="53.9" stroke="#d08a38" stroke-width="0.9" opacity="0.8"/><line x1="554.4" y1="119.1" x2="554.4" y2="122.2" stroke="#c8822e" stroke-width="0.9" opacity="0.8"/><line x1="539.6" y1="15.2" x2="541.1" y2="16.7" stroke="#b8702a" stroke-width="0.9" opacity="0.8"/><line x1="533.9" y1="83.4" x2="531.8" y2="85.5" stroke="#d08a38" stroke-width="0.9" opacity="0.8"/><line x1="557.3" y1="100.8" x2="555.3" y2="102.6" stroke="#b8702a" stroke-width="0.9" opacity="0.8"/><line x1="545.5" y1="118.1" x2="544.7" y2="119.6" stroke="#d8a048" stroke-width="0.9" opacity="0.8"/><line x1="565.7" y1="68.6" x2="563.5" y2="69.2" stroke="#c8822e" stroke-width="0.9" opacity="0.8"/><line x1="505.8" y1="51.0" x2="503.1" y2="51.3" stroke="#b8702a" stroke-width="0.9" opacity="0.8"/><line x1="573.6" y1="59.0" x2="572.2" y2="60.6" stroke="#d8a048" stroke-width="0.9" opacity="0.8"/><line x1="557.5" y1="44.5" x2="557.8" y2="47.3" stroke="#d08a38" stroke-width="0.9" opacity="0.8"/><line x1="550.4" y1="46.0" x2="550.7" y2="49.2" stroke="#c8822e" stroke-width="0.9" opacity="0.8"/><line x1="519.7" y1="38.5" x2="517.6" y2="41.2" stroke="#d8a048" stroke-width="0.9" opacity="0.8"/><line x1="566.9" y1="103.6" x2="566.4" y2="105.9" stroke="#d08a38" stroke-width="0.9" opacity="0.8"/><line x1="543.5" y1="42.5" x2="545.6" y2="43.3" stroke="#c8822e" stroke-width="0.9" opacity="0.8"/><line x1="519.2" y1="53.4" x2="520.7" y2="55.0" stroke="#b8702a" stroke-width="0.9" opacity="0.8"/><line x1="517.6" y1="55.2" x2="515.2" y2="55.4" stroke="#d08a38" stroke-width="0.9" opacity="0.8"/><line x1="566.9" y1="79.5" x2="568.0" y2="81.9" stroke="#b8702a" stroke-width="0.9" opacity="0.8"/><line x1="532.8" y1="117.6" x2="530.2" y2="118.4" stroke="#c8822e" stroke-width="0.9" opacity="0.8"/><line x1="568.2" y1="90.7" x2="571.3" y2="91.1" stroke="#a86428" stroke-width="0.9" opacity="0.8"/><line x1="541.9" y1="23.3" x2="544.0" y2="24.6" stroke="#a86428" stroke-width="0.9" opacity="0.8"/><line x1="552.4" y1="75.8" x2="554.4" y2="76.5" stroke="#b8702a" stroke-width="0.9" opacity="0.8"/><line x1="539.3" y1="89.3" x2="540.3" y2="90.8" stroke="#b8702a" stroke-width="0.9" opacity="0.8"/><line x1="512.2" y1="48.5" x2="515.0" y2="48.9" stroke="#c8822e" stroke-width="0.9" opacity="0.8"/><line x1="513.1" y1="61.9" x2="512.0" y2="63.8" stroke="#c8822e" stroke-width="0.9" opacity="0.8"/><line x1="561.9" y1="64.0" x2="559.0" y2="64.3" stroke="#c8822e" stroke-width="0.9" opacity="0.8"/><line x1="514.3" y1="99.0" x2="512.9" y2="99.5" stroke="#b8702a" stroke-width="0.9" opacity="0.8"/><line x1="555.8" y1="89.6" x2="554.0" y2="90.3" stroke="#d08a38" stroke-width="0.9" opacity="0.8"/><line x1="514.8" y1="61.5" x2="513.8" y2="62.6" stroke="#c8822e" stroke-width="0.9" opacity="0.8"/><line x1="537.7" y1="15.5" x2="534.5" y2="15.8" stroke="#a86428" stroke-width="0.9" opacity="0.8"/><line x1="543.5" y1="98.8" x2="544.3" y2="101.2" stroke="#c8822e" stroke-width="0.9" opacity="0.8"/><line x1="537.4" y1="20.0" x2="538.1" y2="22.0" stroke="#c8822e" stroke-width="0.9" opacity="0.8"/><line x1="541.9" y1="58.4" x2="540.1" y2="59.6" stroke="#d08a38" stroke-width="0.9" opacity="0.8"/><line x1="555.0" y1="85.3" x2="556.8" y2="86.9" stroke="#d08a38" stroke-width="0.9" opacity="0.8"/><line x1="551.0" y1="60.1" x2="549.9" y2="63.4" stroke="#b8702a" stroke-width="0.9" opacity="0.8"/><line x1="528.6" y1="79.5" x2="531.5" y2="80.0" stroke="#b8702a" stroke-width="0.9" opacity="0.8"/><line x1="549.1" y1="14.2" x2="550.0" y2="16.1" stroke="#d08a38" stroke-width="0.9" opacity="0.8"/><line x1="516.5" y1="73.2" x2="513.7" y2="73.8" stroke="#b8702a" stroke-width="0.9" opacity="0.8"/><line x1="534.2" y1="105.8" x2="536.2" y2="107.8" stroke="#c8822e" stroke-width="0.9" opacity="0.8"/><line x1="558.0" y1="81.2" x2="556.7" y2="82.5" stroke="#b8702a" stroke-width="0.9" opacity="0.8"/><line x1="509.3" y1="54.6" x2="507.2" y2="55.5" stroke="#d8a048" stroke-width="0.9" opacity="0.8"/><line x1="520.6" y1="59.6" x2="521.1" y2="61.0" stroke="#b8702a" stroke-width="0.9" opacity="0.8"/><line x1="556.6" y1="39.4" x2="554.1" y2="41.4" stroke="#a86428" stroke-width="0.9" opacity="0.8"/><line x1="539.2" y1="88.6" x2="539.0" y2="91.0" stroke="#d8a048" stroke-width="0.9" opacity="0.8"/><line x1="529.8" y1="48.4" x2="528.7" y2="51.0" stroke="#b8702a" stroke-width="0.9" opacity="0.8"/><line x1="511.2" y1="59.2" x2="511.9" y2="60.6" stroke="#a86428" stroke-width="0.9" opacity="0.8"/><line x1="540.9" y1="105.2" x2="540.5" y2="106.7" stroke="#d8a048" stroke-width="0.9" opacity="0.8"/><line x1="569.0" y1="114.0" x2="570.6" y2="115.2" stroke="#c8822e" stroke-width="0.9" opacity="0.8"/><line x1="557.1" y1="43.7" x2="556.1" y2="46.5" stroke="#c8822e" stroke-width="0.9" opacity="0.8"/><line x1="569.5" y1="54.2" x2="566.6" y2="54.6" stroke="#d8a048" stroke-width="0.9" opacity="0.8"/><line x1="512.5" y1="55.3" x2="510.8" y2="56.2" stroke="#d08a38" stroke-width="0.9" opacity="0.8"/><line x1="568.8" y1="66.1" x2="570.2" y2="68.0" stroke="#d8a048" stroke-width="0.9" opacity="0.8"/><line x1="550.5" y1="30.4" x2="548.8" y2="31.7" stroke="#b8702a" stroke-width="0.9" opacity="0.8"/><line x1="573.8" y1="101.0" x2="574.3" y2="103.0" stroke="#c8822e" stroke-width="0.9" opacity="0.8"/><line x1="526.1" y1="54.6" x2="524.2" y2="56.6" stroke="#c8822e" stroke-width="0.9" opacity="0.8"/><line x1="557.5" y1="107.5" x2="558.2" y2="108.9" stroke="#c8822e" stroke-width="0.9" opacity="0.8"/><line x1="562.2" y1="89.9" x2="563.7" y2="90.1" stroke="#c8822e" stroke-width="0.9" opacity="0.8"/><line x1="536.8" y1="126.5" x2="535.9" y2="128.5" stroke="#c8822e" stroke-width="0.9" opacity="0.8"/><line x1="566.7" y1="74.6" x2="567.9" y2="75.8" stroke="#d08a38" stroke-width="0.9" opacity="0.8"/><line x1="538.8" y1="40.0" x2="540.0" y2="41.0" stroke="#b8702a" stroke-width="0.9" opacity="0.8"/><line x1="561.6" y1="56.1" x2="559.7" y2="56.4" stroke="#b8702a" stroke-width="0.9" opacity="0.8"/><line x1="558.8" y1="69.4" x2="557.5" y2="71.8" stroke="#a86428" stroke-width="0.9" opacity="0.8"/><line x1="546.4" y1="103.6" x2="548.4" y2="106.5" stroke="#d8a048" stroke-width="0.9" opacity="0.8"/><line x1="507.8" y1="65.3" x2="508.9" y2="67.5" stroke="#d8a048" stroke-width="0.9" opacity="0.8"/><line x1="531.4" y1="71.5" x2="532.1" y2="74.4" stroke="#d08a38" stroke-width="0.9" opacity="0.8"/><line x1="530.0" y1="40.4" x2="531.7" y2="41.8" stroke="#d08a38" stroke-width="0.9" opacity="0.8"/><line x1="545.7" y1="120.2" x2="546.4" y2="122.7" stroke="#d08a38" stroke-width="0.9" opacity="0.8"/><line x1="563.9" y1="56.9" x2="564.2" y2="58.4" stroke="#b8702a" stroke-width="0.9" opacity="0.8"/><line x1="540.9" y1="19.3" x2="542.5" y2="21.8" stroke="#b8702a" stroke-width="0.9" opacity="0.8"/><line x1="514.5" y1="84.4" x2="514.2" y2="86.9" stroke="#d8a048" stroke-width="0.9" opacity="0.8"/><line x1="530.8" y1="79.1" x2="529.1" y2="79.7" stroke="#a86428" stroke-width="0.9" opacity="0.8"/><line x1="548.6" y1="22.2" x2="549.6" y2="24.2" stroke="#d8a048" stroke-width="0.9" opacity="0.8"/><line x1="537.5" y1="59.5" x2="539.2" y2="60.4" stroke="#b8702a" stroke-width="0.9" opacity="0.8"/><line x1="577.7" y1="93.1" x2="580.2" y2="95.4" stroke="#d08a38" stroke-width="0.9" opacity="0.8"/><line x1="566.6" y1="54.8" x2="568.1" y2="56.0" stroke="#b8702a" stroke-width="0.9" opacity="0.8"/><line x1="507.8" y1="57.9" x2="507.6" y2="59.8" stroke="#d08a38" stroke-width="0.9" opacity="0.8"/><line x1="555.1" y1="46.6" x2="555.5" y2="48.6" stroke="#b8702a" stroke-width="0.9" opacity="0.8"/><line x1="569.2" y1="68.1" x2="570.2" y2="70.4" stroke="#b8702a" stroke-width="0.9" opacity="0.8"/><line x1="553.8" y1="31.4" x2="551.0" y2="32.4" stroke="#d8a048" stroke-width="0.9" opacity="0.8"/><line x1="511.3" y1="70.5" x2="512.1" y2="72.7" stroke="#d8a048" stroke-width="0.9" opacity="0.8"/><line x1="532.4" y1="53.5" x2="531.2" y2="55.1" stroke="#d8a048" stroke-width="0.9" opacity="0.8"/><line x1="530.6" y1="105.5" x2="528.3" y2="107.1" stroke="#b8702a" stroke-width="0.9" opacity="0.8"/><line x1="534.8" y1="70.2" x2="537.8" y2="71.1" stroke="#c8822e" stroke-width="0.9" opacity="0.8"/><line x1="526.6" y1="110.7" x2="525.8" y2="114.0" stroke="#a86428" stroke-width="0.9" opacity="0.8"/><line x1="561.9" y1="98.8" x2="561.2" y2="100.7" stroke="#d08a38" stroke-width="0.9" opacity="0.8"/><line x1="546.2" y1="91.0" x2="546.7" y2="93.4" stroke="#a86428" stroke-width="0.9" opacity="0.8"/><line x1="548.2" y1="24.7" x2="545.2" y2="26.1" stroke="#c8822e" stroke-width="0.9" opacity="0.8"/><line x1="547.1" y1="114.1" x2="545.6" y2="116.3" stroke="#a86428" stroke-width="0.9" opacity="0.8"/><line x1="536.2" y1="122.8" x2="535.8" y2="126.2" stroke="#a86428" stroke-width="0.9" opacity="0.8"/><line x1="563.3" y1="109.4" x2="564.3" y2="111.2" stroke="#c8822e" stroke-width="0.9" opacity="0.8"/><line x1="542.7" y1="15.6" x2="541.0" y2="16.3" stroke="#c8822e" stroke-width="0.9" opacity="0.8"/><line x1="576.3" y1="81.5" x2="576.9" y2="83.2" stroke="#d8a048" stroke-width="0.9" opacity="0.8"/><line x1="550.4" y1="29.7" x2="549.3" y2="31.3" stroke="#d8a048" stroke-width="0.9" opacity="0.8"/><line x1="537.0" y1="80.3" x2="538.9" y2="81.3" stroke="#d8a048" stroke-width="0.9" opacity="0.8"/><line x1="564.6" y1="109.1" x2="567.5" y2="109.7" stroke="#c8822e" stroke-width="0.9" opacity="0.8"/><line x1="537.9" y1="124.9" x2="537.4" y2="128.3" stroke="#a86428" stroke-width="0.9" opacity="0.8"/><line x1="540.9" y1="90.0" x2="543.0" y2="91.0" stroke="#c8822e" stroke-width="0.9" opacity="0.8"/><line x1="545.7" y1="116.5" x2="546.6" y2="118.5" stroke="#a86428" stroke-width="0.9" opacity="0.8"/><line x1="535.5" y1="98.8" x2="535.3" y2="101.1" stroke="#d08a38" stroke-width="0.9" opacity="0.8"/><line x1="529.7" y1="84.9" x2="528.9" y2="87.0" stroke="#c8822e" stroke-width="0.9" opacity="0.8"/><line x1="533.4" y1="123.6" x2="534.2" y2="125.3" stroke="#a86428" stroke-width="0.9" opacity="0.8"/><line x1="515.8" y1="66.0" x2="514.3" y2="66.6" stroke="#a86428" stroke-width="0.9" opacity="0.8"/><line x1="528.8" y1="82.6" x2="530.0" y2="84.4" stroke="#b8702a" stroke-width="0.9" opacity="0.8"/><line x1="573.8" y1="58.9" x2="574.8" y2="60.3" stroke="#d08a38" stroke-width="0.9" opacity="0.8"/><line x1="563.4" y1="84.3" x2="564.9" y2="85.3" stroke="#c8822e" stroke-width="0.9" opacity="0.8"/><line x1="517.8" y1="65.3" x2="520.2" y2="67.3" stroke="#c8822e" stroke-width="0.9" opacity="0.8"/><line x1="525.7" y1="35.4" x2="525.4" y2="37.0" stroke="#a86428" stroke-width="0.9" opacity="0.8"/><line x1="536.1" y1="97.3" x2="533.9" y2="99.2" stroke="#d08a38" stroke-width="0.9" opacity="0.8"/><line x1="523.3" y1="61.2" x2="524.8" y2="62.8" stroke="#b8702a" stroke-width="0.9" opacity="0.8"/><line x1="526.8" y1="40.6" x2="524.5" y2="41.7" stroke="#d08a38" stroke-width="0.9" opacity="0.8"/><line x1="558.3" y1="91.4" x2="557.4" y2="92.7" stroke="#c8822e" stroke-width="0.9" opacity="0.8"/><line x1="525.6" y1="73.6" x2="525.3" y2="75.8" stroke="#b8702a" stroke-width="0.9" opacity="0.8"/><line x1="543.2" y1="111.1" x2="542.5" y2="112.7" stroke="#b8702a" stroke-width="0.9" opacity="0.8"/><line x1="515.4" y1="98.5" x2="515.5" y2="100.3" stroke="#a86428" stroke-width="0.9" opacity="0.8"/><line x1="574.1" y1="83.3" x2="572.9" y2="84.7" stroke="#d8a048" stroke-width="0.9" opacity="0.8"/><line x1="537.8" y1="46.7" x2="538.8" y2="49.4" stroke="#c8822e" stroke-width="0.9" opacity="0.8"/><line x1="523.3" y1="84.5" x2="520.7" y2="84.6" stroke="#b8702a" stroke-width="0.9" opacity="0.8"/><line x1="543.6" y1="75.9" x2="545.4" y2="77.5" stroke="#c8822e" stroke-width="0.9" opacity="0.8"/><line x1="545.4" y1="111.0" x2="543.4" y2="112.8" stroke="#a86428" stroke-width="0.9" opacity="0.8"/><line x1="538.1" y1="27.9" x2="538.9" y2="30.7" stroke="#c8822e" stroke-width="0.9" opacity="0.8"/><line x1="528.1" y1="118.8" x2="529.9" y2="119.4" stroke="#c8822e" stroke-width="0.9" opacity="0.8"/><line x1="513.5" y1="57.6" x2="513.8" y2="59.5" stroke="#a86428" stroke-width="0.9" opacity="0.8"/><line x1="530.8" y1="92.1" x2="529.1" y2="92.6" stroke="#c8822e" stroke-width="0.9" opacity="0.8"/><line x1="522.8" y1="61.2" x2="521.6" y2="63.4" stroke="#d08a38" stroke-width="0.9" opacity="0.8"/><line x1="529.5" y1="77.2" x2="528.1" y2="78.4" stroke="#a86428" stroke-width="0.9" opacity="0.8"/><line x1="522.1" y1="58.7" x2="519.9" y2="58.8" stroke="#d08a38" stroke-width="0.9" opacity="0.8"/><line x1="544.1" y1="19.8" x2="545.4" y2="22.4" stroke="#c8822e" stroke-width="0.9" opacity="0.8"/><line x1="536.9" y1="16.1" x2="537.3" y2="17.8" stroke="#d08a38" stroke-width="0.9" opacity="0.8"/><line x1="529.9" y1="34.2" x2="530.9" y2="35.7" stroke="#a86428" stroke-width="0.9" opacity="0.8"/><line x1="532.2" y1="50.0" x2="533.0" y2="51.9" stroke="#c8822e" stroke-width="0.9" opacity="0.8"/><line x1="534.4" y1="65.4" x2="533.9" y2="68.5" stroke="#d08a38" stroke-width="0.9" opacity="0.8"/><line x1="546.0" y1="18.1" x2="543.4" y2="19.5" stroke="#b8702a" stroke-width="0.9" opacity="0.8"/><line x1="548.6" y1="36.6" x2="547.2" y2="37.8" stroke="#b8702a" stroke-width="0.9" opacity="0.8"/><line x1="521.5" y1="56.7" x2="523.0" y2="58.6" stroke="#b8702a" stroke-width="0.9" opacity="0.8"/><line x1="562.2" y1="88.9" x2="563.2" y2="91.8" stroke="#c8822e" stroke-width="0.9" opacity="0.8"/><line x1="558.6" y1="68.2" x2="561.2" y2="68.2" stroke="#d08a38" stroke-width="0.9" opacity="0.8"/><line x1="515.3" y1="54.6" x2="517.0" y2="56.0" stroke="#c8822e" stroke-width="0.9" opacity="0.8"/><line x1="544.3" y1="71.9" x2="545.3" y2="73.4" stroke="#d8a048" stroke-width="0.9" opacity="0.8"/><line x1="528.4" y1="97.2" x2="530.0" y2="98.6" stroke="#d8a048" stroke-width="0.9" opacity="0.8"/><line x1="555.1" y1="59.2" x2="552.5" y2="59.7" stroke="#c8822e" stroke-width="0.9" opacity="0.8"/><line x1="525.6" y1="46.3" x2="527.0" y2="48.9" stroke="#d8a048" stroke-width="0.9" opacity="0.8"/><line x1="566.3" y1="100.4" x2="569.6" y2="100.9" stroke="#b8702a" stroke-width="0.9" opacity="0.8"/><line x1="554.7" y1="27.8" x2="553.2" y2="28.8" stroke="#b8702a" stroke-width="0.9" opacity="0.8"/><line x1="566.2" y1="111.1" x2="567.3" y2="113.9" stroke="#d08a38" stroke-width="0.9" opacity="0.8"/><line x1="538.1" y1="50.1" x2="534.9" y2="50.4" stroke="#a86428" stroke-width="0.9" opacity="0.8"/><line x1="529.8" y1="30.8" x2="527.4" y2="32.1" stroke="#d8a048" stroke-width="0.9" opacity="0.8"/><line x1="577.5" y1="94.5" x2="576.1" y2="95.6" stroke="#d8a048" stroke-width="0.9" opacity="0.8"/><line x1="574.5" y1="90.6" x2="576.7" y2="93.1" stroke="#d08a38" stroke-width="0.9" opacity="0.8"/><line x1="575.3" y1="61.7" x2="572.6" y2="62.0" stroke="#d8a048" stroke-width="0.9" opacity="0.8"/><line x1="516.6" y1="93.1" x2="515.6" y2="94.9" stroke="#d08a38" stroke-width="0.9" opacity="0.8"/><line x1="514.3" y1="57.7" x2="513.1" y2="59.9" stroke="#c8822e" stroke-width="0.9" opacity="0.8"/><line x1="541.1" y1="51.4" x2="544.2" y2="51.6" stroke="#b8702a" stroke-width="0.9" opacity="0.8"/><line x1="558.3" y1="43.7" x2="561.4" y2="45.1" stroke="#c8822e" stroke-width="0.9" opacity="0.8"/><line x1="522.6" y1="91.1" x2="523.6" y2="94.2" stroke="#d08a38" stroke-width="0.9" opacity="0.8"/><line x1="517.8" y1="94.3" x2="516.0" y2="96.3" stroke="#b8702a" stroke-width="0.9" opacity="0.8"/><line x1="551.3" y1="44.8" x2="553.3" y2="45.8" stroke="#d08a38" stroke-width="0.9" opacity="0.8"/><line x1="577.2" y1="80.0" x2="574.9" y2="80.2" stroke="#d8a048" stroke-width="0.9" opacity="0.8"/><line x1="549.7" y1="94.8" x2="549.5" y2="97.4" stroke="#d08a38" stroke-width="0.9" opacity="0.8"/><line x1="535.9" y1="79.7" x2="535.0" y2="81.1" stroke="#d08a38" stroke-width="0.9" opacity="0.8"/><line x1="558.3" y1="87.0" x2="558.3" y2="90.4" stroke="#a86428" stroke-width="0.9" opacity="0.8"/><line x1="536.7" y1="94.5" x2="534.7" y2="96.9" stroke="#d08a38" stroke-width="0.9" opacity="0.8"/><line x1="525.0" y1="30.9" x2="523.9" y2="32.2" stroke="#b8702a" stroke-width="0.9" opacity="0.8"/><line x1="563.1" y1="58.6" x2="560.5" y2="59.0" stroke="#d8a048" stroke-width="0.9" opacity="0.8"/><line x1="547.0" y1="61.4" x2="545.0" y2="61.7" stroke="#c8822e" stroke-width="0.9" opacity="0.8"/><line x1="538.9" y1="52.9" x2="540.6" y2="55.9" stroke="#d08a38" stroke-width="0.9" opacity="0.8"/><line x1="548.0" y1="100.2" x2="550.5" y2="101.2" stroke="#b8702a" stroke-width="0.9" opacity="0.8"/><line x1="530.5" y1="56.7" x2="529.1" y2="57.4" stroke="#c8822e" stroke-width="0.9" opacity="0.8"/><line x1="516.9" y1="84.3" x2="518.4" y2="85.6" stroke="#c8822e" stroke-width="0.9" opacity="0.8"/><line x1="569.9" y1="77.0" x2="571.2" y2="78.2" stroke="#d8a048" stroke-width="0.9" opacity="0.8"/><line x1="539.2" y1="20.8" x2="540.3" y2="23.5" stroke="#d08a38" stroke-width="0.9" opacity="0.8"/><line x1="546.2" y1="48.3" x2="544.4" y2="48.6" stroke="#a86428" stroke-width="0.9" opacity="0.8"/><line x1="558.3" y1="107.6" x2="557.6" y2="110.1" stroke="#c8822e" stroke-width="0.9" opacity="0.8"/><line x1="553.4" y1="73.0" x2="555.8" y2="73.2" stroke="#d08a38" stroke-width="0.9" opacity="0.8"/><line x1="560.4" y1="48.3" x2="561.9" y2="50.3" stroke="#d8a048" stroke-width="0.9" opacity="0.8"/><line x1="550.0" y1="30.7" x2="548.0" y2="33.0" stroke="#c8822e" stroke-width="0.9" opacity="0.8"/><line x1="520.8" y1="73.8" x2="519.4" y2="74.6" stroke="#a86428" stroke-width="0.9" opacity="0.8"/><line x1="566.3" y1="85.0" x2="564.5" y2="85.5" stroke="#d08a38" stroke-width="0.9" opacity="0.8"/><line x1="562.3" y1="106.7" x2="564.4" y2="107.9" stroke="#b8702a" stroke-width="0.9" opacity="0.8"/><line x1="553.0" y1="108.2" x2="551.6" y2="111.3" stroke="#a86428" stroke-width="0.9" opacity="0.8"/><line x1="540.3" y1="26.5" x2="541.8" y2="26.6" stroke="#d8a048" stroke-width="0.9" opacity="0.8"/><line x1="523.6" y1="89.4" x2="520.8" y2="90.4" stroke="#a86428" stroke-width="0.9" opacity="0.8"/><line x1="549.4" y1="51.8" x2="546.7" y2="53.6" stroke="#d08a38" stroke-width="0.9" opacity="0.8"/><line x1="545.3" y1="40.9" x2="546.6" y2="43.1" stroke="#d08a38" stroke-width="0.9" opacity="0.8"/><line x1="550.2" y1="70.3" x2="547.0" y2="71.0" stroke="#c8822e" stroke-width="0.9" opacity="0.8"/><line x1="550.9" y1="32.2" x2="549.0" y2="32.9" stroke="#b8702a" stroke-width="0.9" opacity="0.8"/><line x1="562.1" y1="58.6" x2="560.4" y2="60.1" stroke="#d8a048" stroke-width="0.9" opacity="0.8"/><line x1="521.8" y1="58.4" x2="521.6" y2="61.9" stroke="#d08a38" stroke-width="0.9" opacity="0.8"/><line x1="564.4" y1="73.0" x2="561.7" y2="75.0" stroke="#d8a048" stroke-width="0.9" opacity="0.8"/><line x1="539.6" y1="32.7" x2="541.2" y2="35.5" stroke="#d8a048" stroke-width="0.9" opacity="0.8"/><line x1="570.0" y1="96.7" x2="569.3" y2="98.7" stroke="#d08a38" stroke-width="0.9" opacity="0.8"/><line x1="563.1" y1="47.9" x2="566.3" y2="47.9" stroke="#d08a38" stroke-width="0.9" opacity="0.8"/><line x1="563.1" y1="115.9" x2="563.0" y2="118.9" stroke="#d08a38" stroke-width="0.9" opacity="0.8"/><line x1="516.0" y1="60.2" x2="513.6" y2="60.2" stroke="#d8a048" stroke-width="0.9" opacity="0.8"/><line x1="539.0" y1="112.6" x2="540.2" y2="114.6" stroke="#a86428" stroke-width="0.9" opacity="0.8"/><line x1="535.3" y1="67.9" x2="535.6" y2="70.3" stroke="#b8702a" stroke-width="0.9" opacity="0.8"/><line x1="531.9" y1="119.2" x2="533.8" y2="120.3" stroke="#d08a38" stroke-width="0.9" opacity="0.8"/><line x1="519.3" y1="89.7" x2="520.1" y2="91.1" stroke="#a86428" stroke-width="0.9" opacity="0.8"/><line x1="529.3" y1="111.3" x2="531.2" y2="112.2" stroke="#c8822e" stroke-width="0.9" opacity="0.8"/><line x1="552.8" y1="109.7" x2="552.2" y2="111.1" stroke="#b8702a" stroke-width="0.9" opacity="0.8"/><line x1="514.4" y1="45.1" x2="512.7" y2="45.9" stroke="#d08a38" stroke-width="0.9" opacity="0.8"/><line x1="543.2" y1="41.2" x2="542.8" y2="43.3" stroke="#d08a38" stroke-width="0.9" opacity="0.8"/><line x1="564.5" y1="57.0" x2="562.7" y2="57.9" stroke="#a86428" stroke-width="0.9" opacity="0.8"/><line x1="540.0" y1="119.8" x2="539.1" y2="123.0" stroke="#a86428" stroke-width="0.9" opacity="0.8"/><line x1="560.6" y1="82.9" x2="558.7" y2="83.7" stroke="#d8a048" stroke-width="0.9" opacity="0.8"/><line x1="563.8" y1="84.1" x2="564.2" y2="86.3" stroke="#a86428" stroke-width="0.9" opacity="0.8"/><line x1="518.4" y1="44.4" x2="517.4" y2="45.7" stroke="#d8a048" stroke-width="0.9" opacity="0.8"/><line x1="536.8" y1="23.5" x2="538.8" y2="24.0" stroke="#d08a38" stroke-width="0.9" opacity="0.8"/><line x1="524.2" y1="95.2" x2="522.6" y2="98.0" stroke="#d8a048" stroke-width="0.9" opacity="0.8"/><line x1="560.3" y1="61.9" x2="558.8" y2="64.6" stroke="#d08a38" stroke-width="0.9" opacity="0.8"/><line x1="517.4" y1="101.3" x2="518.7" y2="102.3" stroke="#c8822e" stroke-width="0.9" opacity="0.8"/><line x1="570.3" y1="95.3" x2="567.6" y2="95.3" stroke="#d8a048" stroke-width="0.9" opacity="0.8"/><line x1="540.9" y1="86.7" x2="543.7" y2="88.4" stroke="#a86428" stroke-width="0.9" opacity="0.8"/><line x1="575.0" y1="62.0" x2="574.1" y2="65.3" stroke="#c8822e" stroke-width="0.9" opacity="0.8"/><line x1="555.4" y1="75.1" x2="553.9" y2="78.0" stroke="#d8a048" stroke-width="0.9" opacity="0.8"/><line x1="522.4" y1="80.5" x2="521.0" y2="82.0" stroke="#d08a38" stroke-width="0.9" opacity="0.8"/><line x1="533.0" y1="57.1" x2="533.9" y2="59.9" stroke="#b8702a" stroke-width="0.9" opacity="0.8"/><line x1="539.4" y1="99.1" x2="540.6" y2="100.7" stroke="#b8702a" stroke-width="0.9" opacity="0.8"/><line x1="548.1" y1="52.5" x2="549.6" y2="53.7" stroke="#c8822e" stroke-width="0.9" opacity="0.8"/><line x1="533.3" y1="96.0" x2="535.8" y2="98.3" stroke="#d08a38" stroke-width="0.9" opacity="0.8"/><line x1="518.1" y1="94.0" x2="519.0" y2="95.6" stroke="#b8702a" stroke-width="0.9" opacity="0.8"/><line x1="533.5" y1="68.1" x2="535.8" y2="69.9" stroke="#a86428" stroke-width="0.9" opacity="0.8"/><line x1="566.8" y1="115.2" x2="565.3" y2="115.5" stroke="#d8a048" stroke-width="0.9" opacity="0.8"/><line x1="530.1" y1="31.5" x2="530.9" y2="33.6" stroke="#b8702a" stroke-width="0.9" opacity="0.8"/><line x1="555.0" y1="63.7" x2="552.6" y2="66.3" stroke="#d08a38" stroke-width="0.9" opacity="0.8"/><line x1="524.8" y1="50.7" x2="523.9" y2="52.5" stroke="#d8a048" stroke-width="0.9" opacity="0.8"/><line x1="556.8" y1="74.1" x2="555.0" y2="75.0" stroke="#d08a38" stroke-width="0.9" opacity="0.8"/><line x1="551.0" y1="73.3" x2="550.4" y2="74.7" stroke="#c8822e" stroke-width="0.9" opacity="0.8"/><line x1="515.3" y1="92.5" x2="517.7" y2="93.4" stroke="#a86428" stroke-width="0.9" opacity="0.8"/><line x1="562.9" y1="61.1" x2="565.0" y2="63.8" stroke="#d08a38" stroke-width="0.9" opacity="0.8"/><line x1="550.2" y1="47.9" x2="553.5" y2="48.3" stroke="#d08a38" stroke-width="0.9" opacity="0.8"/><line x1="539.3" y1="71.2" x2="537.4" y2="72.8" stroke="#b8702a" stroke-width="0.9" opacity="0.8"/><line x1="554.0" y1="72.2" x2="552.5" y2="72.9" stroke="#b8702a" stroke-width="0.9" opacity="0.8"/><line x1="541.8" y1="103.8" x2="543.0" y2="105.2" stroke="#d08a38" stroke-width="0.9" opacity="0.8"/><line x1="512.3" y1="57.4" x2="514.0" y2="60.4" stroke="#d08a38" stroke-width="0.9" opacity="0.8"/><line x1="542.9" y1="12.4" x2="543.9" y2="15.1" stroke="#c8822e" stroke-width="0.9" opacity="0.8"/><line x1="531.8" y1="102.8" x2="534.2" y2="104.2" stroke="#b8702a" stroke-width="0.9" opacity="0.8"/><line x1="560.4" y1="96.0" x2="562.2" y2="96.4" stroke="#d08a38" stroke-width="0.9" opacity="0.8"/><line x1="532.9" y1="30.2" x2="532.0" y2="32.7" stroke="#d08a38" stroke-width="0.9" opacity="0.8"/><line x1="515.7" y1="71.1" x2="514.2" y2="71.7" stroke="#c8822e" stroke-width="0.9" opacity="0.8"/><line x1="521.1" y1="86.0" x2="522.4" y2="87.3" stroke="#b8702a" stroke-width="0.9" opacity="0.8"/><line x1="543.5" y1="96.1" x2="543.7" y2="97.9" stroke="#c8822e" stroke-width="0.9" opacity="0.8"/><line x1="512.4" y1="44.9" x2="509.6" y2="44.9" stroke="#a86428" stroke-width="0.9" opacity="0.8"/><line x1="569.8" y1="80.4" x2="569.1" y2="81.7" stroke="#c8822e" stroke-width="0.9" opacity="0.8"/><line x1="565.2" y1="92.7" x2="567.3" y2="94.8" stroke="#d8a048" stroke-width="0.9" opacity="0.8"/><line x1="522.7" y1="35.7" x2="525.9" y2="36.1" stroke="#c8822e" stroke-width="0.9" opacity="0.8"/><line x1="538.0" y1="35.2" x2="536.1" y2="36.3" stroke="#d8a048" stroke-width="0.9" opacity="0.8"/><line x1="527.8" y1="32.5" x2="529.7" y2="33.6" stroke="#a86428" stroke-width="0.9" opacity="0.8"/><line x1="543.1" y1="33.3" x2="541.3" y2="33.4" stroke="#b8702a" stroke-width="0.9" opacity="0.8"/><line x1="536.7" y1="42.9" x2="537.8" y2="43.9" stroke="#c8822e" stroke-width="0.9" opacity="0.8"/><line x1="568.7" y1="82.5" x2="566.3" y2="82.7" stroke="#d08a38" stroke-width="0.9" opacity="0.8"/><line x1="535.3" y1="122.8" x2="535.1" y2="124.3" stroke="#c8822e" stroke-width="0.9" opacity="0.8"/><line x1="546.6" y1="113.0" x2="548.0" y2="114.9" stroke="#d8a048" stroke-width="0.9" opacity="0.8"/><line x1="516.7" y1="41.9" x2="514.8" y2="43.5" stroke="#a86428" stroke-width="0.9" opacity="0.8"/><line x1="554.8" y1="88.1" x2="557.0" y2="89.1" stroke="#d8a048" stroke-width="0.9" opacity="0.8"/><line x1="521.9" y1="100.7" x2="521.5" y2="102.2" stroke="#d8a048" stroke-width="0.9" opacity="0.8"/><line x1="539.0" y1="41.1" x2="540.3" y2="42.5" stroke="#b8702a" stroke-width="0.9" opacity="0.8"/><line x1="550.5" y1="70.4" x2="547.9" y2="70.8" stroke="#d08a38" stroke-width="0.9" opacity="0.8"/><line x1="552.0" y1="30.2" x2="550.0" y2="30.3" stroke="#c8822e" stroke-width="0.9" opacity="0.8"/><line x1="534.6" y1="41.8" x2="534.0" y2="43.5" stroke="#d08a38" stroke-width="0.9" opacity="0.8"/><line x1="516.7" y1="97.7" x2="518.3" y2="98.9" stroke="#a86428" stroke-width="0.9" opacity="0.8"/><line x1="566.0" y1="78.6" x2="567.7" y2="81.6" stroke="#d8a048" stroke-width="0.9" opacity="0.8"/><line x1="531.4" y1="37.9" x2="529.8" y2="38.6" stroke="#c8822e" stroke-width="0.9" opacity="0.8"/><line x1="524.4" y1="101.1" x2="525.5" y2="103.3" stroke="#c8822e" stroke-width="0.9" opacity="0.8"/><line x1="518.9" y1="73.7" x2="519.6" y2="76.9" stroke="#d08a38" stroke-width="0.9" opacity="0.8"/><line x1="542.4" y1="17.5" x2="541.0" y2="18.0" stroke="#b8702a" stroke-width="0.9" opacity="0.8"/><line x1="546.1" y1="109.4" x2="543.8" y2="110.2" stroke="#d08a38" stroke-width="0.9" opacity="0.8"/><line x1="546.3" y1="24.0" x2="543.5" y2="24.5" stroke="#d08a38" stroke-width="0.9" opacity="0.8"/><line x1="514.5" y1="45.8" x2="512.7" y2="47.8" stroke="#a86428" stroke-width="0.9" opacity="0.8"/><line x1="536.1" y1="52.1" x2="538.8" y2="53.1" stroke="#a86428" stroke-width="0.9" opacity="0.8"/><line x1="540.0" y1="26.1" x2="538.4" y2="26.9" stroke="#a86428" stroke-width="0.9" opacity="0.8"/><line x1="528.4" y1="89.9" x2="530.9" y2="90.2" stroke="#d8a048" stroke-width="0.9" opacity="0.8"/><line x1="536.8" y1="113.5" x2="534.1" y2="114.0" stroke="#c8822e" stroke-width="0.9" opacity="0.8"/><line x1="576.1" y1="75.7" x2="574.7" y2="78.6" stroke="#b8702a" stroke-width="0.9" opacity="0.8"/><line x1="530.0" y1="93.3" x2="533.0" y2="95.0" stroke="#c8822e" stroke-width="0.9" opacity="0.8"/><line x1="544.2" y1="66.0" x2="546.8" y2="67.9" stroke="#d8a048" stroke-width="0.9" opacity="0.8"/><line x1="529.4" y1="43.8" x2="530.9" y2="44.0" stroke="#c8822e" stroke-width="0.9" opacity="0.8"/><line x1="572.6" y1="79.2" x2="573.2" y2="80.7" stroke="#d8a048" stroke-width="0.9" opacity="0.8"/><line x1="551.1" y1="42.0" x2="552.1" y2="44.9" stroke="#a86428" stroke-width="0.9" opacity="0.8"/><line x1="545.6" y1="93.7" x2="544.7" y2="95.0" stroke="#a86428" stroke-width="0.9" opacity="0.8"/><line x1="519.0" y1="103.7" x2="518.3" y2="105.2" stroke="#b8702a" stroke-width="0.9" opacity="0.8"/><line x1="542.3" y1="75.9" x2="544.2" y2="76.1" stroke="#d8a048" stroke-width="0.9" opacity="0.8"/><line x1="528.8" y1="62.1" x2="529.9" y2="64.4" stroke="#d8a048" stroke-width="0.9" opacity="0.8"/><line x1="547.2" y1="115.1" x2="547.8" y2="116.7" stroke="#d08a38" stroke-width="0.9" opacity="0.8"/><line x1="529.5" y1="112.8" x2="531.9" y2="112.8" stroke="#d8a048" stroke-width="0.9" opacity="0.8"/><line x1="577.2" y1="87.9" x2="576.9" y2="89.5" stroke="#c8822e" stroke-width="0.9" opacity="0.8"/><line x1="523.1" y1="89.3" x2="521.6" y2="89.5" stroke="#d08a38" stroke-width="0.9" opacity="0.8"/><line x1="531.4" y1="72.9" x2="530.4" y2="75.4" stroke="#d8a048" stroke-width="0.9" opacity="0.8"/><line x1="576.7" y1="66.6" x2="578.0" y2="67.5" stroke="#a86428" stroke-width="0.9" opacity="0.8"/><line x1="551.1" y1="109.0" x2="551.8" y2="112.1" stroke="#a86428" stroke-width="0.9" opacity="0.8"/><line x1="564.2" y1="96.3" x2="566.7" y2="96.4" stroke="#d08a38" stroke-width="0.9" opacity="0.8"/><line x1="547.5" y1="25.6" x2="544.5" y2="27.2" stroke="#c8822e" stroke-width="0.9" opacity="0.8"/><line x1="553.0" y1="103.4" x2="553.5" y2="105.6" stroke="#d08a38" stroke-width="0.9" opacity="0.8"/><line x1="520.3" y1="59.6" x2="520.8" y2="61.7" stroke="#a86428" stroke-width="0.9" opacity="0.8"/><line x1="572.4" y1="65.1" x2="571.5" y2="66.5" stroke="#c8822e" stroke-width="0.9" opacity="0.8"/><line x1="579.2" y1="89.9" x2="580.2" y2="93.2" stroke="#a86428" stroke-width="0.9" opacity="0.8"/><line x1="549.9" y1="101.5" x2="547.0" y2="102.3" stroke="#b8702a" stroke-width="0.9" opacity="0.8"/><line x1="514.5" y1="58.4" x2="513.3" y2="59.6" stroke="#a86428" stroke-width="0.9" opacity="0.8"/><line x1="527.9" y1="29.1" x2="526.0" y2="30.8" stroke="#d8a048" stroke-width="0.9" opacity="0.8"/><line x1="516.2" y1="101.1" x2="512.9" y2="101.5" stroke="#d08a38" stroke-width="0.9" opacity="0.8"/><line x1="558.9" y1="100.9" x2="561.7" y2="101.9" stroke="#d08a38" stroke-width="0.9" opacity="0.8"/><line x1="539.1" y1="73.7" x2="536.8" y2="74.7" stroke="#b8702a" stroke-width="0.9" opacity="0.8"/><line x1="519.3" y1="98.6" x2="519.8" y2="100.8" stroke="#c8822e" stroke-width="0.9" opacity="0.8"/><line x1="544.5" y1="47.8" x2="545.4" y2="49.8" stroke="#d8a048" stroke-width="0.9" opacity="0.8"/><line x1="522.3" y1="93.6" x2="525.0" y2="94.4" stroke="#d8a048" stroke-width="0.9" opacity="0.8"/><line x1="537.9" y1="100.0" x2="535.2" y2="101.9" stroke="#c8822e" stroke-width="0.9" opacity="0.8"/><line x1="542.8" y1="126.6" x2="542.1" y2="129.2" stroke="#d8a048" stroke-width="0.9" opacity="0.8"/><line x1="534.8" y1="43.1" x2="534.0" y2="45.4" stroke="#b8702a" stroke-width="0.9" opacity="0.8"/><line x1="524.5" y1="52.6" x2="527.9" y2="53.0" stroke="#d08a38" stroke-width="0.9" opacity="0.8"/><line x1="548.5" y1="18.5" x2="547.2" y2="20.2" stroke="#b8702a" stroke-width="0.9" opacity="0.8"/><line x1="518.8" y1="49.4" x2="517.0" y2="50.2" stroke="#d08a38" stroke-width="0.9" opacity="0.8"/><line x1="530.8" y1="84.3" x2="530.7" y2="87.3" stroke="#b8702a" stroke-width="0.9" opacity="0.8"/><line x1="523.3" y1="72.9" x2="523.9" y2="75.6" stroke="#b8702a" stroke-width="0.9" opacity="0.8"/><line x1="546.9" y1="63.0" x2="549.0" y2="64.6" stroke="#d8a048" stroke-width="0.9" opacity="0.8"/><line x1="532.6" y1="47.0" x2="533.4" y2="49.5" stroke="#b8702a" stroke-width="0.9" opacity="0.8"/><line x1="526.9" y1="81.7" x2="529.0" y2="82.1" stroke="#d8a048" stroke-width="0.9" opacity="0.8"/><line x1="566.6" y1="109.4" x2="565.7" y2="111.0" stroke="#a86428" stroke-width="0.9" opacity="0.8"/><line x1="530.1" y1="91.8" x2="529.7" y2="93.6" stroke="#d08a38" stroke-width="0.9" opacity="0.8"/><line x1="555.0" y1="48.6" x2="554.6" y2="50.5" stroke="#d08a38" stroke-width="0.9" opacity="0.8"/><line x1="514.0" y1="46.7" x2="513.0" y2="48.8" stroke="#c8822e" stroke-width="0.9" opacity="0.8"/><line x1="555.1" y1="121.5" x2="552.8" y2="122.5" stroke="#d08a38" stroke-width="0.9" opacity="0.8"/><line x1="549.3" y1="96.7" x2="549.0" y2="100.1" stroke="#c8822e" stroke-width="0.9" opacity="0.8"/><line x1="550.0" y1="93.4" x2="549.7" y2="94.9" stroke="#b8702a" stroke-width="0.9" opacity="0.8"/><line x1="534.6" y1="86.6" x2="534.1" y2="88.2" stroke="#d08a38" stroke-width="0.9" opacity="0.8"/><line x1="557.1" y1="77.7" x2="555.1" y2="78.5" stroke="#d8a048" stroke-width="0.9" opacity="0.8"/><line x1="548.5" y1="109.0" x2="546.9" y2="109.9" stroke="#c8822e" stroke-width="0.9" opacity="0.8"/><line x1="553.2" y1="96.6" x2="550.7" y2="98.7" stroke="#d8a048" stroke-width="0.9" opacity="0.8"/><line x1="557.5" y1="42.5" x2="557.8" y2="45.4" stroke="#d08a38" stroke-width="0.9" opacity="0.8"/><line x1="537.3" y1="73.0" x2="535.5" y2="74.3" stroke="#d8a048" stroke-width="0.9" opacity="0.8"/><line x1="546.0" y1="82.6" x2="547.5" y2="83.0" stroke="#d8a048" stroke-width="0.9" opacity="0.8"/><line x1="520.5" y1="67.3" x2="521.7" y2="69.1" stroke="#d08a38" stroke-width="0.9" opacity="0.8"/><line x1="550.1" y1="42.2" x2="551.6" y2="43.8" stroke="#d8a048" stroke-width="0.9" opacity="0.8"/><line x1="546.8" y1="105.6" x2="547.5" y2="108.0" stroke="#b8702a" stroke-width="0.9" opacity="0.8"/><line x1="566.0" y1="98.9" x2="564.4" y2="100.5" stroke="#d08a38" stroke-width="0.9" opacity="0.8"/><line x1="570.7" y1="57.0" x2="573.2" y2="58.9" stroke="#a86428" stroke-width="0.9" opacity="0.8"/><line x1="532.4" y1="36.3" x2="532.7" y2="38.4" stroke="#a86428" stroke-width="0.9" opacity="0.8"/><line x1="527.3" y1="54.2" x2="524.4" y2="54.9" stroke="#b8702a" stroke-width="0.9" opacity="0.8"/><line x1="559.1" y1="59.2" x2="557.3" y2="60.9" stroke="#d8a048" stroke-width="0.9" opacity="0.8"/><line x1="546.3" y1="110.1" x2="543.9" y2="110.2" stroke="#c8822e" stroke-width="0.9" opacity="0.8"/><line x1="506.2" y1="53.3" x2="506.5" y2="54.9" stroke="#c8822e" stroke-width="0.9" opacity="0.8"/><line x1="529.1" y1="93.4" x2="530.0" y2="95.5" stroke="#a86428" stroke-width="0.9" opacity="0.8"/><line x1="532.8" y1="44.3" x2="530.5" y2="45.5" stroke="#c8822e" stroke-width="0.9" opacity="0.8"/><line x1="571.5" y1="60.1" x2="571.0" y2="61.6" stroke="#c8822e" stroke-width="0.9" opacity="0.8"/><line x1="539.7" y1="70.2" x2="536.7" y2="70.3" stroke="#d08a38" stroke-width="0.9" opacity="0.8"/><line x1="538.7" y1="70.9" x2="536.1" y2="71.3" stroke="#c8822e" stroke-width="0.9" opacity="0.8"/><line x1="537.1" y1="124.1" x2="533.7" y2="124.7" stroke="#c8822e" stroke-width="0.9" opacity="0.8"/><line x1="544.3" y1="42.7" x2="545.8" y2="44.2" stroke="#b8702a" stroke-width="0.9" opacity="0.8"/><line x1="538.9" y1="39.5" x2="540.6" y2="40.4" stroke="#b8702a" stroke-width="0.9" opacity="0.8"/><line x1="539.0" y1="109.0" x2="537.8" y2="112.2" stroke="#d8a048" stroke-width="0.9" opacity="0.8"/><line x1="550.0" y1="32.8" x2="551.6" y2="33.7" stroke="#a86428" stroke-width="0.9" opacity="0.8"/><line x1="560.8" y1="114.7" x2="558.4" y2="115.4" stroke="#d8a048" stroke-width="0.9" opacity="0.8"/><line x1="543.2" y1="10.9" x2="544.0" y2="14.3" stroke="#d8a048" stroke-width="0.9" opacity="0.8"/><line x1="533.5" y1="82.9" x2="532.3" y2="84.7" stroke="#a86428" stroke-width="0.9" opacity="0.8"/><line x1="539.4" y1="126.7" x2="541.0" y2="128.8" stroke="#a86428" stroke-width="0.9" opacity="0.8"/><line x1="553.7" y1="58.4" x2="552.5" y2="61.2" stroke="#d08a38" stroke-width="0.9" opacity="0.8"/><line x1="538.2" y1="14.2" x2="537.1" y2="16.0" stroke="#d8a048" stroke-width="0.9" opacity="0.8"/><line x1="541.9" y1="93.7" x2="539.9" y2="94.4" stroke="#b8702a" stroke-width="0.9" opacity="0.8"/><line x1="515.1" y1="59.7" x2="513.8" y2="61.9" stroke="#b8702a" stroke-width="0.9" opacity="0.8"/><line x1="532.2" y1="50.1" x2="531.2" y2="53.2" stroke="#d08a38" stroke-width="0.9" opacity="0.8"/><line x1="538.9" y1="96.8" x2="538.7" y2="99.1" stroke="#d08a38" stroke-width="0.9" opacity="0.8"/><line x1="540.9" y1="99.8" x2="542.1" y2="102.6" stroke="#c8822e" stroke-width="0.9" opacity="0.8"/><line x1="554.4" y1="96.5" x2="556.8" y2="97.2" stroke="#d08a38" stroke-width="0.9" opacity="0.8"/><line x1="516.8" y1="89.2" x2="514.1" y2="90.9" stroke="#d08a38" stroke-width="0.9" opacity="0.8"/></g>
<rect x="311.85" y="913.00" width="45.35" height="44.00" fill="#0a3a6c"/>
<circle cx="334.2" cy="928" r="10.2" fill="none" stroke="#ffffff" stroke-width="1.2"/>
<text x="334.2" y="936" font-size="17" font-weight="bold" fill="#ffffff" stroke="#ffffff" stroke-width="0.5" text-anchor="middle" textLength="19" lengthAdjust="spacingAndGlyphs">ASTM</text>
<ellipse cx="334.2" cy="929" rx="14.5" ry="4.2" fill="none" stroke="#ffffff" stroke-width="0.9" transform="rotate(-22 334.2 929)"/>
<text x="314.60" y="947.00" font-size="6.2" fill="#ffffff" textLength="40.10" lengthAdjust="spacingAndGlyphs">Organizational</text>
<text x="314.60" y="952.90" font-size="6.2" fill="#ffffff" textLength="23.40" lengthAdjust="spacingAndGlyphs">Member</text>
<path d="M525.6,941 L548.6,899.4 L602.5,899.4 L626,941 L602.5,983.75 L548.6,983.75 Z" fill="#a9dde9"/>
<text x="577" y="957" font-size="46" fill="#ffffff" text-anchor="middle" textLength="80" lengthAdjust="spacingAndGlyphs" opacity="0.85">cnb</text>
<rect x="533.40" y="904.40" width="84.70" height="13.30" fill="#17a2c6"/>
<path d="M533.4,917.7 L540,917.7 L540,920.8 Z" fill="#0b6d88"/>
<path d="M618.1,917.7 L611.5,917.7 L611.5,920.8 Z" fill="#0b6d88"/>
<text x="538.00" y="914.50" font-size="9.2" fill="#ffffff" textLength="73.90" lengthAdjust="spacingAndGlyphs">CTInstruments Ltd.</text>
<text x="544.40" y="931.25" font-size="11.3" fill="#1aa2c6" textLength="64.00" lengthAdjust="spacingAndGlyphs">Commercial</text>
<text x="552.50" y="945.80" font-size="11.3" fill="#1aa2c6" textLength="50.80" lengthAdjust="spacingAndGlyphs">Cannabis</text>
<text x="541.60" y="959.50" font-size="11.3" fill="#1aa2c6" textLength="69.00" lengthAdjust="spacingAndGlyphs">Awards 2020</text>
<rect x="533.40" y="964.50" width="84.70" height="12.80" fill="#17a2c6"/>
<path d="M533.4,964.5 L540,964.5 L540,961.4 Z" fill="#0b6d88"/>
<path d="M618.1,964.5 L611.5,964.5 L611.5,961.4 Z" fill="#0b6d88"/>
<text x="540.80" y="970.00" font-size="5.4" fill="#ffffff" textLength="69.20" lengthAdjust="spacingAndGlyphs">Best Cannabinoids Potency Testing</text>
<text x="537.70" y="975.50" font-size="5.4" fill="#ffffff" textLength="76.50" lengthAdjust="spacingAndGlyphs">Solutions Manufacturer - North America</text>
</svg>
</body></html>
